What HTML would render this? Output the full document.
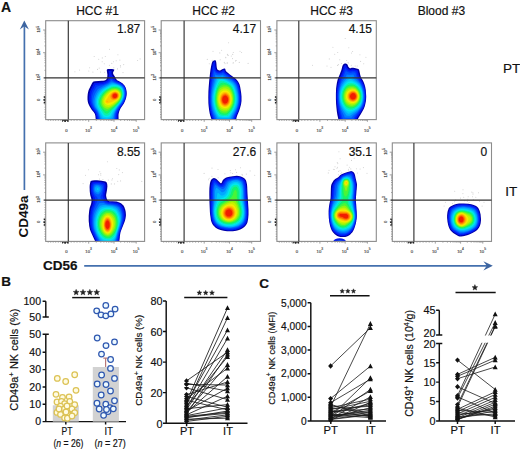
<!DOCTYPE html>
<html><head><meta charset="utf-8"><style>html,body{margin:0;padding:0;background:#fff;overflow:hidden}svg{display:block}</style></head>
<body><svg width="520" height="449" viewBox="0 0 520 449" font-family='"Liberation Sans", sans-serif'>
<style>text{stroke-width:0.18px;stroke-linejoin:round}</style>
<defs><filter id="bl" x="-10%" y="-10%" width="120%" height="120%"><feGaussianBlur stdDeviation="0.45"/></filter></defs>
<rect width="520" height="449" fill="#fff"/>
<text x="1.0" y="11.9" font-size="14" text-anchor="start" font-weight="bold" fill="#111" stroke="#111" >A</text>
<text x="97.5" y="14.8" font-size="12" text-anchor="middle" font-weight="normal" fill="#111" stroke="#111" >HCC #1</text>
<text x="213.6" y="14.8" font-size="12" text-anchor="middle" font-weight="normal" fill="#111" stroke="#111" >HCC #2</text>
<text x="331.6" y="14.8" font-size="12" text-anchor="middle" font-weight="normal" fill="#111" stroke="#111" >HCC #3</text>
<text x="441.4" y="14.8" font-size="12" text-anchor="middle" font-weight="normal" fill="#111" stroke="#111" >Blood #3</text>
<text x="503" y="72.6" font-size="13.5" text-anchor="start" font-weight="normal" fill="#111" stroke="#111" >PT</text>
<text x="505.3" y="196.3" font-size="13.5" text-anchor="start" font-weight="normal" fill="#111" stroke="#111" >IT</text>
<path d="M43.1 30.0H45.7M43.1 52.7H45.7M43.1 77.9H45.7M43.1 99.7H45.7M44.5 45.9H45.7M44.5 41.9H45.7M44.5 39.0H45.7M44.5 36.8H45.7M44.5 35.0H45.7M44.5 33.5H45.7M44.5 32.2H45.7M44.5 31.0H45.7M44.5 70.3H45.7M44.5 65.9H45.7M44.5 62.7H45.7M44.5 60.3H45.7M44.5 58.3H45.7M44.5 56.6H45.7M44.5 55.1H45.7M44.5 53.9H45.7M44.5 80.3H45.7M44.5 82.7H45.7M44.5 85.2H45.7M44.5 87.6H45.7M44.5 90.0H45.7M44.5 92.4H45.7M44.5 94.9H45.7M44.5 97.3H45.7M44.5 102.2H45.7M44.5 104.7H45.7M44.5 107.2H45.7M44.5 109.7H45.7M44.5 112.1H45.7M44.5 114.6H45.7M44.5 117.1H45.7M68.3 119.6V121.8M88.7 119.6V121.8M114.0 119.6V121.8M136.2 119.6V121.8M96.3 119.6V120.8M100.8 119.6V120.8M103.9 119.6V120.8M106.4 119.6V120.8M108.4 119.6V120.8M110.1 119.6V120.8M111.5 119.6V120.8M112.8 119.6V120.8M120.7 119.6V120.8M124.6 119.6V120.8M127.4 119.6V120.8M129.5 119.6V120.8M131.3 119.6V120.8M132.8 119.6V120.8M134.0 119.6V120.8M135.2 119.6V120.8M48.2 119.6V120.8M50.7 119.6V120.8M53.2 119.6V120.8M55.7 119.6V120.8M58.3 119.6V120.8M60.8 119.6V120.8M63.3 119.6V120.8M65.8 119.6V120.8M71.2 119.6V120.8M74.1 119.6V120.8M77.0 119.6V120.8M80.0 119.6V120.8M82.9 119.6V120.8M85.8 119.6V120.8" stroke="#777" stroke-width="0.7" fill="none"/>
<path d="M43.7 96.3h2v7.2h-2v-1.4h1v-1.3h-1.2v-1.5h1.2v-1.5h-1z" fill="#222"/>
<path d="M62.1 119.6h6.4v2.2h-1.4v-1h-1.2v1.2h-1.6v-1.2h-1.2v1h-1z" fill="#222"/>
<text x="0" y="0" font-size="4.3" fill="#555" stroke="#555" transform="translate(40.2 32.6) rotate(-90)">10<tspan dy="-1.6" font-size="3.2">5</tspan></text>
<text x="0" y="0" font-size="4.3" fill="#555" stroke="#555" transform="translate(40.2 55.3) rotate(-90)">10<tspan dy="-1.6" font-size="3.2">4</tspan></text>
<text x="0" y="0" font-size="4.3" fill="#555" stroke="#555" transform="translate(40.2 80.5) rotate(-90)">10<tspan dy="-1.6" font-size="3.2">3</tspan></text>
<text x="0" y="0" font-size="4.3" fill="#666" stroke="#666" transform="translate(40.2 100.9) rotate(-90)">0</text>
<text x="66.4" y="131.6" font-size="4.2" fill="#555" stroke="#555" text-anchor="middle">0</text>
<text x="87.7" y="131.6" font-size="4.2" fill="#555" stroke="#555" text-anchor="middle">10</text>
<text x="90.1" y="128.6" font-size="3.3" fill="#555" stroke="#555">3</text>
<text x="113.0" y="131.6" font-size="4.2" fill="#555" stroke="#555" text-anchor="middle">10</text>
<text x="115.4" y="128.6" font-size="3.3" fill="#555" stroke="#555">4</text>
<text x="135.2" y="131.6" font-size="4.2" fill="#555" stroke="#555" text-anchor="middle">10</text>
<text x="137.6" y="128.6" font-size="3.3" fill="#555" stroke="#555">5</text>
<clipPath id="c00"><rect x="45.7" y="20.7" width="98.89999999999999" height="98.89999999999999"/></clipPath>
<g clip-path="url(#c00)"><g filter="url(#bl)"><path fill="rgb(0, 0, 165)" d="M119.0 123.7L95.3 123.7L94.5 123.3L94.1 123.0L94.1 122.5L94.5 121.5L95.4 120.0L95.6 119.5L95.7 119.0L95.6 118.2L95.4 116.0L95.1 114.7L94.9 114.0L94.3 113.0L93.6 112.0L92.5 110.7L91.7 109.7L90.0 106.9L89.2 105.6L88.5 104.0L88.2 103.2L87.8 101.7L87.5 99.5L87.5 96.7L87.7 94.2L88.0 92.5L88.5 90.6L89.0 89.3L92.0 83.2L92.5 82.4L92.9 82.0L93.5 81.6L94.0 81.4L94.9 81.2L98.5 81.0L101.7 80.8L103.2 80.7L104.5 80.4L105.2 80.2L105.7 79.9L106.2 79.6L106.7 79.0L107.0 78.2L107.2 77.5L107.3 76.0L107.4 74.7L107.3 74.0L106.9 71.2L106.8 70.5L106.8 70.0L107.0 69.6L107.2 69.3L107.5 69.2L108.0 69.0L109.2 68.9L112.0 69.0L113.3 69.2L114.0 69.4L114.2 69.6L114.3 69.7L114.3 70.0L114.2 70.3L113.3 72.0L113.1 72.5L113.0 73.0L113.1 73.5L113.5 74.5L114.7 76.3L115.8 78.5L116.5 79.5L117.5 80.4L118.7 81.1L120.4 82.0L121.2 82.5L122.7 83.6L124.0 85.0L124.5 85.5L125.2 86.7L125.8 88.0L126.3 89.7L126.4 90.2L126.5 91.0L126.6 91.5L126.7 93.5L126.6 95.2L126.3 97.2L126.1 97.7L126.0 98.2L125.9 98.5L125.8 99.0L125.2 100.5L125.1 100.7L125.0 101.0L124.0 103.2L123.2 104.5L121.1 107.5L120.4 108.7L119.8 110.0L119.3 111.2L118.8 113.0L118.6 114.2L118.5 115.0L118.5 116.5L118.6 119.0L118.8 119.7L120.0 121.6L120.3 122.5L120.2 123.0L120.0 123.2L119.7 123.4L119.0 123.7Z"/>
<path fill="rgb(0, 22, 245)" d="M109.2 123.5L107.2 123.5L105.5 123.5L103.7 123.4L101.7 123.3L100.2 123.1L97.7 122.7L96.0 122.4L95.8 122.2L96.3 121.0L96.6 120.0L96.7 119.0L96.3 116.2L95.9 114.7L95.5 113.5L95.1 112.7L94.3 111.5L92.9 109.7L92.1 108.5L90.9 106.2L90.0 104.2L89.5 102.7L89.2 101.2L89.1 99.5L89.1 97.2L89.2 95.7L89.3 94.2L89.7 92.5L90.1 91.2L90.6 90.0L91.0 89.0L93.3 84.5L93.9 83.5L94.2 83.2L94.5 83.1L95.0 83.0L101.2 82.4L103.0 82.2L104.2 81.9L105.5 81.5L106.2 81.2L107.0 80.7L107.7 80.0L108.2 79.2L108.6 78.2L108.9 77.2L109.0 75.5L109.1 74.0L108.6 71.0L108.7 70.7L111.2 70.7L111.7 70.8L111.8 71.0L111.4 72.0L111.3 73.0L111.5 74.0L111.7 74.6L112.3 75.7L114.9 79.2L115.9 80.2L117.0 80.9L120.2 82.5L121.0 82.9L121.7 83.5L122.6 84.2L123.4 85.0L124.0 85.5L124.5 86.2L125.0 87.1L125.3 88.0L125.7 89.0L126.0 89.9L126.2 92.0L126.3 94.0L126.1 95.7L125.7 97.7L125.2 99.3L124.5 101.1L123.7 102.7L123.1 103.7L122.5 104.7L120.8 107.0L119.8 108.5L119.3 109.5L118.6 111.0L117.9 113.0L117.6 114.2L117.5 115.0L117.4 119.0L117.6 120.2L118.0 121.0L118.5 122.2L118.2 122.3L116.7 122.6L114.0 123.1L111.0 123.4L109.2 123.5Z"/>
<path fill="rgb(0, 54, 250)" d="M110.7 122.2L109.0 122.4L107.2 122.4L104.0 122.3L100.5 121.8L98.2 121.4L98.0 121.3L97.9 121.2L98.0 120.2L98.0 119.0L97.3 116.0L96.9 114.5L96.3 113.0L95.9 112.2L95.5 111.4L93.8 109.2L93.4 108.5L92.6 107.0L91.8 105.2L91.3 103.7L90.9 102.2L90.7 100.7L90.6 99.2L90.7 97.2L90.9 95.5L91.2 94.0L91.6 92.2L92.0 91.2L92.5 90.2L95.2 84.9L95.5 84.8L97.0 84.7L100.5 84.2L102.2 83.9L103.2 83.7L105.0 83.2L106.7 82.5L107.6 82.0L108.2 81.5L109.2 80.5L109.6 80.0L110.0 79.2L110.4 78.2L110.7 77.2L111.0 77.0L113.2 79.5L114.0 80.2L114.7 80.7L115.7 81.4L116.5 81.7L119.2 82.9L120.2 83.3L122.0 84.5L122.7 85.1L123.3 85.7L123.9 86.5L124.4 87.2L124.8 88.2L125.2 89.2L125.5 90.2L125.6 91.2L125.7 92.2L125.8 93.5L125.6 95.2L125.3 97.0L124.9 98.5L124.0 100.7L123.3 102.2L122.5 103.5L119.9 107.0L118.9 108.5L117.8 110.5L117.0 112.5L116.5 114.2L116.3 115.7L116.1 119.2L116.1 120.5L116.2 121.0L116.2 121.1L116.2 121.2L114.0 121.7L110.7 122.2Z"/>
<path fill="rgb(0, 87, 255)" d="M107.7 121.5L105.7 121.4L103.7 121.3L101.2 120.9L99.4 120.5L99.2 120.2L99.0 118.7L98.2 115.7L97.8 114.2L97.5 113.3L97.1 112.5L96.5 111.5L94.5 108.5L94.1 107.7L93.3 106.0L92.5 104.0L92.1 102.5L91.9 101.2L91.9 99.7L92.0 98.0L92.2 96.0L92.5 94.9L93.2 92.7L94.2 90.8L96.5 87.0L96.7 86.8L100.0 85.7L102.2 85.2L104.0 84.7L106.7 83.6L108.0 82.9L109.0 82.2L110.1 81.2L110.7 80.5L111.2 79.7L111.5 79.8L112.6 80.7L114.2 81.7L116.0 82.5L119.2 83.7L120.2 84.2L121.7 85.2L122.9 86.2L123.5 86.9L124.0 87.8L124.5 89.0L124.8 90.0L125.0 91.0L125.2 92.2L125.2 93.5L125.1 94.7L124.9 96.2L124.5 97.7L123.9 99.5L123.1 101.2L122.4 102.5L121.8 103.5L119.3 106.7L118.3 108.2L117.1 110.2L116.2 112.0L115.8 113.2L115.5 114.7L114.9 119.2L114.8 120.2L114.7 120.3L113.7 120.6L111.2 121.1L109.5 121.3L107.7 121.5Z"/>
<path fill="rgb(0, 128, 255)" d="M109.5 120.5L107.2 120.6L105.0 120.6L102.7 120.3L100.3 119.7L100.2 119.6L100.0 118.7L98.8 114.7L98.0 112.5L97.0 110.6L94.9 107.5L94.0 105.5L93.5 104.0L93.2 102.8L93.2 101.2L93.3 99.7L93.6 98.0L94.1 96.2L94.7 94.7L95.3 93.2L95.9 92.2L98.0 89.1L98.2 88.9L99.5 88.2L105.0 85.3L107.9 84.0L108.7 83.5L111.2 81.8L111.5 81.6L112.2 81.7L114.5 82.8L119.2 84.4L120.7 85.3L122.0 86.2L122.7 87.0L123.2 87.7L123.7 88.7L124.1 89.7L124.4 90.7L124.5 91.7L124.6 92.7L124.6 94.0L124.4 95.7L124.0 97.5L123.4 99.2L122.6 101.0L121.9 102.2L121.3 103.2L118.7 106.5L117.5 108.2L116.4 110.0L115.5 111.7L115.0 113.0L114.7 114.2L114.4 115.7L114.1 118.2L113.8 119.5L113.1 119.7L111.7 120.1L109.5 120.5Z"/>
<path fill="rgb(0, 169, 255)" d="M109.2 119.7L108.0 119.8L106.7 119.9L105.5 119.8L104.2 119.7L102.7 119.3L101.5 118.8L101.2 118.5L100.5 117.4L99.3 114.0L98.5 112.0L97.5 110.0L95.8 107.5L95.2 106.2L94.9 104.7L94.7 103.2L94.6 101.7L94.7 100.5L94.9 99.2L95.2 98.0L95.6 96.7L96.2 95.2L96.8 94.0L97.3 93.0L98.4 91.5L99.2 90.5L100.9 89.2L103.2 87.7L105.5 86.4L111.2 83.3L111.5 83.2L113.2 83.1L117.7 84.5L119.0 85.0L119.7 85.4L120.7 86.0L121.5 86.6L122.0 87.0L122.5 87.6L122.9 88.5L123.4 89.5L123.7 90.5L123.9 91.5L124.1 92.5L124.1 93.5L124.0 94.7L123.9 96.0L123.6 97.2L123.1 98.7L122.4 100.2L121.6 101.7L121.0 102.7L117.6 107.0L116.3 109.0L115.4 110.5L114.9 111.5L114.4 112.7L114.0 113.7L113.7 115.3L113.5 116.1L112.6 118.2L112.2 118.5L111.0 119.2L110.3 119.5L109.2 119.7Z"/>
<path fill="rgb(0, 203, 247)" d="M107.0 118.7L106.0 118.7L104.7 118.5L103.7 118.2L102.5 117.7L102.0 117.2L101.3 116.0L100.2 114.0L99.1 111.5L98.2 110.0L97.4 108.5L96.9 107.2L96.5 106.2L96.1 104.5L95.9 102.7L95.9 101.0L96.1 99.5L96.4 98.2L96.8 97.0L97.4 95.7L98.0 94.5L98.8 93.2L99.8 92.0L100.5 91.2L101.3 90.5L103.2 89.1L105.3 87.7L108.2 86.1L111.2 84.5L111.5 84.4L112.2 84.3L114.5 84.2L117.5 85.1L119.0 85.6L120.0 86.2L120.7 86.7L121.5 87.4L122.0 88.0L122.5 88.7L122.9 89.7L123.2 90.7L123.4 91.7L123.6 92.7L123.6 94.0L123.5 95.2L123.3 96.5L122.9 97.7L122.5 98.7L122.0 100.0L121.3 101.2L120.4 102.7L117.2 106.7L115.3 109.5L113.2 113.2L111.4 117.2L110.6 117.7L109.5 118.2L108.2 118.6L107.0 118.7Z"/>
<path fill="rgb(0, 233, 236)" d="M107.5 117.2L106.5 117.3L105.2 117.1L104.0 116.8L103.3 116.5L102.7 115.6L102.0 114.5L98.8 108.5L98.0 107.0L97.6 105.7L97.3 104.7L97.1 103.5L97.0 102.2L97.0 101.0L97.2 99.7L97.6 98.5L98.1 97.0L98.9 95.5L99.7 94.1L100.8 92.7L101.7 91.7L102.8 90.7L104.0 89.7L105.5 88.7L108.5 87.0L110.7 85.8L111.5 85.5L113.5 85.3L115.5 85.2L116.0 85.3L116.5 85.4L117.5 85.6L118.2 85.9L119.0 86.3L120.0 86.9L120.7 87.4L121.2 87.9L121.6 88.5L122.3 89.7L122.7 90.7L122.9 91.5L123.0 92.5L123.1 93.5L123.1 94.5L123.0 95.5L122.8 96.5L122.5 97.5L122.1 98.5L121.6 99.7L120.9 101.0L120.3 102.0L119.5 103.1L116.7 106.5L115.0 108.9L113.8 110.2L112.8 111.5L112.1 112.7L110.7 115.4L110.2 116.2L109.0 116.8L108.2 117.1L107.5 117.2Z"/>
<path fill="rgb(9, 239, 172)" d="M108.0 115.5L107.2 115.6L106.2 115.7L105.2 115.5L104.7 115.3L104.5 115.2L103.7 114.3L103.0 113.2L101.0 110.0L99.6 107.7L99.0 106.5L98.6 105.2L98.3 104.2L98.2 103.0L98.1 101.7L98.2 100.5L98.4 99.5L98.8 98.2L99.5 96.7L100.4 95.2L101.4 93.7L102.4 92.5L103.4 91.5L104.6 90.5L106.0 89.5L107.7 88.4L109.5 87.4L111.2 86.6L112.2 86.4L114.0 86.2L115.7 86.2L117.5 86.4L118.2 86.5L118.7 86.7L120.0 87.5L120.5 88.0L121.0 88.4L121.3 89.0L121.7 89.7L122.3 91.2L122.5 92.2L122.6 93.0L122.6 94.7L122.3 96.5L121.8 98.2L121.2 99.5L120.6 100.7L120.0 101.7L119.0 103.0L116.0 106.7L113.4 109.2L112.0 110.7L111.1 112.0L109.1 115.0L108.6 115.2L108.0 115.5Z"/>
<path fill="rgb(18, 244, 105)" d="M107.5 113.5L106.7 113.6L106.0 113.5L105.2 113.1L104.5 112.5L103.2 111.0L102.0 109.3L101.0 107.7L100.1 106.0L99.7 105.0L99.4 104.0L99.3 102.7L99.2 101.7L99.3 100.7L99.6 99.7L99.9 98.7L100.4 97.5L101.2 96.0L102.0 94.7L102.9 93.5L104.0 92.2L105.1 91.2L106.4 90.2L108.0 89.2L109.5 88.4L111.0 87.7L111.5 87.5L112.7 87.2L114.0 87.1L115.5 87.1L116.7 87.2L117.7 87.4L119.0 87.9L120.0 88.5L120.5 88.8L121.0 89.3L121.5 90.5L122.0 92.0L122.1 92.7L122.2 93.7L122.1 95.5L121.8 97.0L121.1 98.7L120.5 100.0L119.6 101.5L118.7 102.7L117.2 104.5L111.7 109.5L108.5 112.8L108.0 113.2L107.5 113.5Z"/>
<path fill="rgb(74, 245, 57)" d="M107.7 110.8L107.0 110.9L106.5 110.9L106.0 110.8L105.2 110.5L104.5 110.0L103.5 109.0L102.5 107.7L101.7 106.5L101.1 105.5L100.8 104.5L100.5 103.5L100.4 102.5L100.4 101.5L100.6 100.5L100.9 99.2L101.2 98.2L101.8 97.0L102.5 95.7L103.4 94.5L104.4 93.2L105.4 92.2L106.5 91.3L107.6 90.5L109.0 89.6L110.5 88.9L111.2 88.5L112.2 88.3L113.5 88.1L114.7 88.0L116.0 88.1L117.0 88.2L118.0 88.6L118.7 88.9L119.2 89.2L119.7 89.6L120.2 90.1L120.7 90.7L121.3 92.0L121.7 93.2L121.7 94.7L121.5 96.2L121.1 97.7L120.5 99.2L120.0 100.1L118.8 101.7L117.5 103.1L115.7 104.8L113.5 106.7L110.2 109.3L108.7 110.3L107.7 110.8Z"/>
<path fill="rgb(144, 245, 16)" d="M108.0 108.7L107.0 108.7L106.2 108.6L105.5 108.3L104.7 107.9L104.0 107.2L103.2 106.4L102.6 105.5L102.2 104.5L101.9 103.7L101.8 102.7L101.7 101.7L101.8 100.7L102.0 99.7L102.3 98.7L102.7 97.7L103.1 96.7L103.8 95.7L104.5 94.7L105.3 93.7L106.3 92.7L107.2 91.9L108.2 91.2L109.4 90.5L110.7 89.8L111.5 89.5L112.5 89.2L113.5 89.0L114.7 88.9L115.7 89.0L116.5 89.1L117.5 89.4L118.2 89.7L118.7 90.0L119.2 90.5L120.0 91.3L120.6 92.5L121.0 93.7L121.1 95.0L121.0 96.2L120.6 97.5L120.1 98.7L119.2 100.0L118.2 101.2L116.2 103.2L114.2 104.9L112.2 106.5L110.5 107.6L109.2 108.3L108.5 108.6L108.0 108.7Z"/>
<path fill="rgb(199, 242, 0)" d="M109.0 106.8L108.2 106.9L107.5 106.8L106.7 106.7L106.0 106.4L105.2 106.0L104.7 105.5L104.1 104.7L103.6 104.0L103.4 103.2L103.2 102.5L103.1 101.7L103.1 100.7L103.2 100.0L103.5 99.0L103.8 98.0L104.3 97.0L104.9 96.0L105.5 95.2L106.2 94.3L107.1 93.5L108.0 92.7L109.0 91.9L110.0 91.3L111.0 90.7L112.0 90.3L112.7 90.1L113.5 89.9L114.5 89.8L115.5 89.8L116.2 89.9L117.0 90.1L117.7 90.5L118.7 91.2L119.4 92.0L120.0 93.0L120.3 94.0L120.4 95.0L120.4 96.2L120.1 97.2L119.6 98.2L119.0 99.3L118.0 100.4L117.0 101.4L114.0 103.9L112.5 105.0L111.2 105.8L110.0 106.4L109.0 106.8Z"/>
<path fill="rgb(246, 236, 0)" d="M109.2 105.0L108.5 105.0L107.7 104.9L107.0 104.8L106.5 104.6L105.7 104.1L105.3 103.7L104.9 103.2L104.6 102.7L104.5 102.2L104.4 101.5L104.4 101.0L104.5 100.2L105.2 98.3L106.0 96.7L107.1 95.2L108.6 93.7L109.4 93.0L110.4 92.2L112.0 91.3L112.7 91.0L113.5 90.8L114.2 90.7L115.0 90.6L115.7 90.7L116.5 90.8L117.0 91.0L117.7 91.4L118.5 92.0L119.1 92.7L119.5 93.5L119.8 94.5L119.8 95.5L119.7 96.5L119.4 97.5L119.0 98.2L118.2 99.3L117.2 100.2L112.7 103.4L111.7 104.0L110.9 104.5L110.0 104.8L109.2 105.0Z"/>
<path fill="rgb(255, 199, 0)" d="M108.2 103.2L107.5 103.4L107.0 103.3L106.5 103.2L106.0 102.8L105.6 102.5L105.4 102.0L105.4 101.5L105.4 101.0L105.6 100.5L106.0 100.0L106.9 99.0L107.3 98.5L108.3 96.5L109.1 95.2L110.2 93.7L111.0 93.0L112.1 92.2L113.2 91.7L114.2 91.4L115.2 91.3L116.2 91.5L117.2 91.9L118.0 92.4L118.5 93.0L118.9 93.7L119.1 94.5L119.3 95.5L119.2 96.2L118.9 97.2L118.5 98.0L117.9 98.7L117.4 99.2L116.7 99.8L115.2 100.6L111.2 102.2L109.5 102.8L108.2 103.2Z"/>
<path fill="rgb(255, 155, 0)" d="M114.0 100.0L113.2 100.0L112.5 99.8L111.7 99.5L111.2 99.0L110.6 98.2L110.4 97.5L110.3 96.7L110.4 95.7L110.8 94.7L111.3 94.0L112.0 93.3L112.7 92.7L113.5 92.3L114.5 92.1L115.5 92.0L116.2 92.2L116.9 92.5L117.5 92.8L117.8 93.2L118.2 93.7L118.5 94.3L118.6 95.0L118.7 95.7L118.5 96.5L118.2 97.2L118.0 97.7L117.5 98.3L117.0 98.8L116.2 99.3L115.5 99.6L114.7 99.8L114.0 100.0ZM107.2 101.9L107.0 101.9L106.7 101.7L106.7 101.4L107.0 101.1L107.2 101.1L107.5 101.3L107.5 101.5L107.4 101.7L107.2 101.9Z"/>
<path fill="rgb(252, 93, 0)" d="M115.0 99.0L114.2 99.0L113.7 98.9L113.2 98.8L112.7 98.4L112.2 97.9L111.8 97.2L111.6 96.7L111.5 96.0L111.7 95.2L111.9 94.7L112.2 94.2L112.7 93.7L113.2 93.3L113.9 93.0L114.7 92.7L115.2 92.7L115.7 92.8L116.3 93.0L116.7 93.2L117.2 93.6L117.5 94.0L117.8 94.5L118.0 95.1L118.0 95.7L117.9 96.2L117.8 96.7L117.5 97.2L117.1 97.7L116.7 98.1L116.2 98.5L115.7 98.7L115.0 99.0Z"/>
<path fill="rgb(241, 28, 0)" d="M115.2 98.0L114.7 98.1L114.2 98.0L113.7 97.8L113.5 97.6L113.2 97.4L112.9 97.0L112.7 96.5L112.6 96.0L112.8 95.2L113.0 94.8L113.2 94.5L113.5 94.2L114.0 93.9L114.5 93.7L115.0 93.6L115.7 93.7L116.2 93.9L116.5 94.1L116.9 94.7L117.1 95.5L117.0 96.2L116.7 97.0L116.5 97.3L116.0 97.7L115.2 98.0Z"/></g></g>
<g fill="#d2d2d2"><circle cx="119.9" cy="60.1" r="0.55"/><circle cx="97.5" cy="69.4" r="0.55"/><circle cx="92.9" cy="72.1" r="0.55"/><circle cx="109.4" cy="65.2" r="0.55"/><circle cx="88.8" cy="71.0" r="0.55"/><circle cx="120.6" cy="66.9" r="0.55"/><circle cx="102.3" cy="57.9" r="0.55"/><circle cx="99.2" cy="68.1" r="0.55"/><circle cx="140.1" cy="58.9" r="0.55"/><circle cx="117.9" cy="54.7" r="0.55"/><circle cx="98.7" cy="59.2" r="0.55"/><circle cx="123.7" cy="64.6" r="0.55"/><circle cx="100.6" cy="72.0" r="0.55"/><circle cx="89.6" cy="67.7" r="0.55"/><circle cx="137.6" cy="60.5" r="0.55"/><circle cx="79.6" cy="70.1" r="0.55"/><circle cx="105.3" cy="56.5" r="0.55"/><circle cx="104.7" cy="72.2" r="0.55"/><circle cx="104.3" cy="63.8" r="0.55"/><circle cx="116.2" cy="60.8" r="0.55"/><circle cx="123.0" cy="72.6" r="0.55"/><circle cx="113.8" cy="67.7" r="0.55"/><circle cx="94.2" cy="56.5" r="0.55"/><circle cx="113.4" cy="61.8" r="0.55"/><circle cx="109.5" cy="49.2" r="0.55"/><circle cx="111.8" cy="63.4" r="0.55"/><circle cx="117.5" cy="68.9" r="0.55"/><circle cx="74.9" cy="71.7" r="0.55"/><circle cx="120.4" cy="65.5" r="0.55"/><circle cx="102.2" cy="61.8" r="0.55"/></g>
<rect x="45.7" y="20.7" width="98.9" height="98.9" fill="none" stroke="#8c8c8c" stroke-width="1.1"/>
<path d="M44.2 77.9H144.6M68.3 20.7V119.6" stroke="#333" stroke-width="1.15" fill="none"/>
<text x="140.29999999999998" y="32.7" font-size="12" text-anchor="end" font-weight="normal" fill="#111" stroke="#111" >1.87</text>
<path d="M158.6 30.0H161.2M158.6 52.7H161.2M158.6 77.9H161.2M158.6 99.7H161.2M160.0 45.9H161.2M160.0 41.9H161.2M160.0 39.0H161.2M160.0 36.8H161.2M160.0 35.0H161.2M160.0 33.5H161.2M160.0 32.2H161.2M160.0 31.0H161.2M160.0 70.3H161.2M160.0 65.9H161.2M160.0 62.7H161.2M160.0 60.3H161.2M160.0 58.3H161.2M160.0 56.6H161.2M160.0 55.1H161.2M160.0 53.9H161.2M160.0 80.3H161.2M160.0 82.7H161.2M160.0 85.2H161.2M160.0 87.6H161.2M160.0 90.0H161.2M160.0 92.4H161.2M160.0 94.9H161.2M160.0 97.3H161.2M160.0 102.2H161.2M160.0 104.7H161.2M160.0 107.2H161.2M160.0 109.7H161.2M160.0 112.1H161.2M160.0 114.6H161.2M160.0 117.1H161.2M184.1 119.6V121.8M204.2 119.6V121.8M229.5 119.6V121.8M251.7 119.6V121.8M211.8 119.6V120.8M216.3 119.6V120.8M219.4 119.6V120.8M221.9 119.6V120.8M223.9 119.6V120.8M225.6 119.6V120.8M227.0 119.6V120.8M228.3 119.6V120.8M236.2 119.6V120.8M240.1 119.6V120.8M242.9 119.6V120.8M245.0 119.6V120.8M246.8 119.6V120.8M248.3 119.6V120.8M249.5 119.6V120.8M250.7 119.6V120.8M163.7 119.6V120.8M166.3 119.6V120.8M168.8 119.6V120.8M171.4 119.6V120.8M173.9 119.6V120.8M176.5 119.6V120.8M179.0 119.6V120.8M181.6 119.6V120.8M187.0 119.6V120.8M189.8 119.6V120.8M192.7 119.6V120.8M195.6 119.6V120.8M198.5 119.6V120.8M201.3 119.6V120.8" stroke="#777" stroke-width="0.7" fill="none"/>
<path d="M159.2 96.3h2v7.2h-2v-1.4h1v-1.3h-1.2v-1.5h1.2v-1.5h-1z" fill="#222"/>
<path d="M177.9 119.6h6.4v2.2h-1.4v-1h-1.2v1.2h-1.6v-1.2h-1.2v1h-1z" fill="#222"/>
<text x="0" y="0" font-size="4.3" fill="#555" stroke="#555" transform="translate(155.7 32.6) rotate(-90)">10<tspan dy="-1.6" font-size="3.2">5</tspan></text>
<text x="0" y="0" font-size="4.3" fill="#555" stroke="#555" transform="translate(155.7 55.3) rotate(-90)">10<tspan dy="-1.6" font-size="3.2">4</tspan></text>
<text x="0" y="0" font-size="4.3" fill="#555" stroke="#555" transform="translate(155.7 80.5) rotate(-90)">10<tspan dy="-1.6" font-size="3.2">3</tspan></text>
<text x="0" y="0" font-size="4.3" fill="#666" stroke="#666" transform="translate(155.7 100.9) rotate(-90)">0</text>
<text x="182.2" y="131.6" font-size="4.2" fill="#555" stroke="#555" text-anchor="middle">0</text>
<text x="203.2" y="131.6" font-size="4.2" fill="#555" stroke="#555" text-anchor="middle">10</text>
<text x="205.6" y="128.6" font-size="3.3" fill="#555" stroke="#555">3</text>
<text x="228.5" y="131.6" font-size="4.2" fill="#555" stroke="#555" text-anchor="middle">10</text>
<text x="230.9" y="128.6" font-size="3.3" fill="#555" stroke="#555">4</text>
<text x="250.7" y="131.6" font-size="4.2" fill="#555" stroke="#555" text-anchor="middle">10</text>
<text x="253.1" y="128.6" font-size="3.3" fill="#555" stroke="#555">5</text>
<clipPath id="c01"><rect x="161.2" y="20.7" width="99.30000000000001" height="98.89999999999999"/></clipPath>
<g clip-path="url(#c01)"><g filter="url(#bl)"><path fill="rgb(0, 0, 165)" d="M236.7 123.7L210.9 123.7L210.2 123.5L209.9 123.2L209.7 123.0L209.7 122.7L210.0 122.2L210.9 121.0L211.3 120.2L211.5 119.5L211.3 118.7L210.2 115.5L209.7 113.5L209.2 110.7L208.7 106.7L208.4 103.2L208.3 97.5L208.4 91.7L208.7 86.7L209.2 80.7L209.9 74.3L210.4 70.3L211.2 65.7L211.7 63.4L212.2 62.1L212.4 61.6L212.8 61.2L213.4 60.7L213.9 60.5L214.7 60.2L215.2 60.2L215.4 60.3L215.7 60.4L215.9 60.9L216.2 62.1L216.4 63.5L216.6 66.0L216.8 67.5L217.1 68.7L217.3 69.2L217.7 69.7L218.2 70.1L218.7 70.3L219.2 70.4L220.2 70.4L220.9 70.1L222.2 69.2L222.7 68.9L223.5 68.7L224.2 68.6L224.7 68.6L225.1 68.7L225.4 69.2L225.5 70.0L225.8 70.7L226.1 71.2L226.6 71.7L229.9 74.4L234.4 77.7L235.7 78.7L236.4 79.5L237.7 81.0L238.2 81.7L238.9 83.0L239.5 84.2L239.9 85.8L240.2 87.0L240.7 90.0L241.2 93.2L241.5 96.5L241.5 99.2L241.5 101.0L241.2 103.2L241.0 104.5L240.2 107.5L239.0 111.2L237.3 115.2L236.8 116.7L236.5 117.7L236.3 119.2L236.2 119.5L236.4 120.0L236.8 120.7L237.7 122.0L238.0 122.5L238.0 122.7L237.9 123.0L237.5 123.5L236.7 123.7Z"/>
<path fill="rgb(0, 22, 245)" d="M231.2 123.2L227.7 123.4L225.4 123.4L219.9 123.3L216.4 123.1L213.4 122.9L211.7 122.7L211.4 122.6L211.2 122.5L212.0 121.5L212.3 120.7L212.5 120.2L212.6 119.5L212.3 118.2L211.2 115.2L210.7 113.5L210.0 110.2L209.5 107.0L209.2 104.0L209.1 100.2L209.1 96.2L209.2 92.2L209.6 87.7L210.1 82.2L211.5 71.5L212.3 66.5L212.7 64.2L213.0 63.2L213.2 62.7L213.5 62.2L213.8 62.0L214.2 61.6L214.7 61.4L214.9 61.7L215.1 63.0L215.4 66.7L215.7 68.2L215.9 69.0L216.2 69.7L216.5 70.2L216.9 70.7L217.7 71.2L218.4 71.4L219.2 71.6L220.2 71.6L220.7 71.5L221.4 71.2L222.9 70.1L224.2 69.8L224.4 70.0L224.5 70.7L224.8 71.2L225.1 71.7L225.8 72.5L228.3 74.5L234.2 78.7L235.1 79.5L235.7 80.1L236.9 81.5L237.9 83.0L238.6 84.5L239.1 86.0L239.4 87.5L240.0 90.5L240.5 94.0L240.7 95.7L240.8 97.5L240.8 99.2L240.7 101.0L240.6 102.5L240.3 104.2L239.6 107.0L238.2 111.0L236.6 114.7L236.1 116.0L235.6 117.5L235.3 118.7L235.2 119.5L235.4 120.5L235.8 121.2L236.6 122.5L236.4 122.6L235.9 122.7L234.2 123.0L231.2 123.2Z"/>
<path fill="rgb(0, 54, 250)" d="M228.9 122.2L226.9 122.3L223.9 122.3L219.9 122.2L216.4 122.0L213.7 121.7L213.4 121.7L213.3 121.5L213.6 121.0L213.7 120.5L213.7 119.5L213.7 119.0L213.2 117.5L212.1 114.7L211.7 113.5L211.1 110.5L210.5 107.2L210.2 105.0L210.0 102.7L209.9 100.2L209.9 97.5L210.0 94.7L210.2 92.2L210.4 89.5L210.8 85.7L212.9 70.7L213.5 66.7L213.9 64.5L214.0 65.0L214.2 67.2L214.7 69.2L215.2 70.5L215.7 71.2L216.2 71.7L216.9 72.2L217.9 72.6L218.9 72.8L219.9 72.8L220.7 72.7L221.5 72.5L222.2 72.1L223.4 71.3L223.7 71.8L224.1 72.5L225.2 73.5L227.7 75.3L232.9 79.1L234.1 80.0L234.9 80.7L236.2 82.2L237.1 83.7L237.7 85.0L238.3 87.0L238.9 89.5L239.4 92.2L239.7 94.7L239.9 96.7L239.9 99.2L239.8 101.7L239.5 103.7L239.1 105.7L238.6 107.5L237.6 110.2L237.1 111.5L235.5 115.0L234.9 116.5L234.4 117.9L234.1 119.2L234.1 119.7L234.2 120.7L234.7 121.7L231.2 122.1L228.9 122.2Z"/>
<path fill="rgb(0, 87, 255)" d="M230.4 121.2L226.7 121.4L222.4 121.4L219.9 121.3L216.4 121.0L214.9 120.8L214.7 120.8L214.6 120.7L214.7 119.5L214.6 118.7L214.1 117.2L213.1 114.7L212.6 113.5L212.1 111.2L211.5 108.5L211.1 106.2L210.9 104.0L210.7 101.5L210.7 99.0L210.7 96.2L210.8 93.7L211.0 91.0L211.4 88.2L212.0 83.5L213.1 76.7L213.9 71.4L214.0 71.2L214.2 71.0L214.9 72.0L215.7 72.7L216.7 73.3L217.9 73.7L219.7 73.8L220.9 73.6L221.9 73.4L222.9 72.8L223.2 72.9L224.0 73.7L224.9 74.5L232.2 79.6L233.9 81.0L235.1 82.2L236.0 83.5L236.7 84.7L237.3 86.2L237.9 88.5L238.5 91.5L238.8 93.5L239.1 95.7L239.2 98.0L239.2 100.0L239.0 102.2L238.7 104.0L238.1 106.5L237.0 109.7L236.4 111.2L234.7 114.7L233.7 117.3L233.2 119.2L233.2 120.0L233.3 120.7L233.2 120.9L230.4 121.2Z"/>
<path fill="rgb(0, 128, 255)" d="M228.4 120.2L225.4 120.4L222.7 120.3L219.7 120.0L216.7 119.6L216.2 119.5L216.0 118.7L215.6 117.7L213.7 113.7L212.7 110.7L212.4 109.8L211.9 107.0L211.6 105.0L211.4 102.7L211.3 100.5L211.3 98.5L211.3 96.2L211.5 93.7L211.7 91.2L211.9 89.1L212.6 86.0L214.4 78.5L215.2 74.5L215.4 74.6L216.2 74.9L217.2 75.2L217.9 75.3L218.9 75.4L219.9 75.3L220.9 75.2L221.7 75.0L222.7 74.7L224.1 75.7L229.4 78.9L231.7 80.3L232.9 81.3L234.2 82.5L235.4 84.0L236.1 85.2L236.7 86.7L237.2 88.7L237.9 91.7L238.3 94.2L238.5 96.2L238.6 98.5L238.5 100.7L238.3 103.0L237.9 104.7L237.3 107.0L236.2 110.0L233.7 115.2L232.7 117.2L232.1 118.7L231.8 119.7L231.7 119.8L231.2 119.9L228.4 120.2Z"/>
<path fill="rgb(0, 169, 255)" d="M228.4 119.0L225.9 119.1L223.4 119.1L220.4 118.9L217.4 118.4L217.2 118.2L216.4 116.5L214.9 113.5L214.1 111.5L213.4 109.2L212.6 106.0L212.3 104.2L212.1 102.5L212.0 100.7L212.0 98.7L212.0 97.0L212.1 95.0L212.6 91.7L213.3 88.2L214.0 85.2L215.7 79.2L216.4 76.7L216.4 76.6L217.9 76.8L219.2 76.8L220.4 76.7L222.2 76.3L222.4 76.3L227.9 79.4L230.7 81.1L231.7 81.8L232.7 82.6L233.7 83.6L234.5 84.7L235.1 85.7L235.5 86.7L236.1 88.2L236.6 90.0L237.2 92.0L237.6 94.2L237.8 96.0L237.9 98.0L237.9 100.0L237.8 101.7L237.5 103.5L237.1 105.2L236.3 107.7L235.4 110.0L234.6 111.5L231.8 116.2L231.2 117.5L230.7 118.6L230.4 118.7L228.4 119.0Z"/>
<path fill="rgb(0, 203, 247)" d="M227.2 118.0L224.9 118.1L222.7 118.0L220.2 117.7L218.4 117.3L218.2 117.3L216.3 114.0L215.6 112.5L214.6 109.7L213.8 107.0L213.4 105.2L213.2 103.7L212.9 100.5L212.9 97.2L213.0 95.5L213.2 93.7L213.8 90.2L214.8 86.5L215.6 83.7L217.4 78.4L217.7 78.2L219.7 78.1L221.9 77.7L222.2 77.8L227.4 80.4L229.7 81.7L231.2 82.7L231.9 83.3L232.9 84.3L233.6 85.2L234.2 86.1L234.7 87.2L235.2 88.7L235.8 90.5L236.3 92.2L236.7 94.2L236.9 96.0L237.0 98.0L237.1 99.7L236.9 101.5L236.7 103.0L236.3 104.7L235.8 106.5L234.9 108.7L234.0 110.5L230.7 116.0L229.8 117.5L229.7 117.6L229.4 117.7L227.2 118.0Z"/>
<path fill="rgb(0, 233, 236)" d="M225.9 117.0L223.9 117.0L222.2 116.8L219.9 116.5L219.2 116.3L218.9 116.2L216.9 113.0L216.3 111.7L215.6 110.0L215.0 108.2L214.6 106.5L214.2 104.7L213.9 102.7L213.7 101.0L213.7 99.0L213.7 97.0L213.9 95.0L214.1 93.2L214.5 91.2L215.0 89.2L215.6 87.2L216.2 85.4L216.9 83.5L217.7 81.8L218.7 79.7L221.4 79.2L221.7 79.2L224.2 80.1L225.9 80.8L227.4 81.6L229.2 82.6L230.4 83.4L231.2 84.0L232.2 85.0L232.8 85.7L233.3 86.5L233.9 87.7L234.4 89.1L235.0 91.0L235.4 92.5L235.8 94.2L236.0 95.7L236.2 97.5L236.2 99.2L236.1 101.0L236.0 102.5L235.7 104.0L235.2 105.5L234.6 107.2L233.9 108.7L233.3 110.0L232.4 111.4L228.9 116.5L228.7 116.7L227.9 116.8L225.9 117.0Z"/>
<path fill="rgb(9, 239, 172)" d="M227.7 115.7L225.4 115.9L223.4 115.8L222.2 115.7L220.9 115.5L219.9 115.3L219.7 115.1L218.7 113.8L218.0 112.7L217.4 111.7L216.8 110.5L216.2 109.0L215.7 107.5L215.3 106.0L215.0 104.5L214.7 102.7L214.5 101.0L214.5 99.2L214.5 97.5L214.6 95.7L214.9 94.0L215.2 92.2L215.6 90.5L216.2 88.5L216.8 86.7L217.6 85.0L218.4 83.3L219.2 82.1L219.9 81.2L221.2 80.8L222.2 80.9L223.7 81.3L225.2 81.8L226.4 82.3L227.9 83.0L229.4 83.9L230.4 84.6L231.2 85.3L231.8 86.0L232.4 86.7L233.2 88.5L233.8 90.0L234.3 91.5L234.7 93.0L235.0 94.5L235.3 96.0L235.4 97.5L235.4 99.0L235.4 100.5L235.3 101.7L235.1 103.0L234.7 104.2L234.4 105.5L233.9 106.7L233.2 108.2L232.7 109.3L231.9 110.5L230.4 112.6L228.9 114.6L228.2 115.5L227.9 115.7L227.7 115.7Z"/>
<path fill="rgb(18, 244, 105)" d="M225.9 114.7L224.7 114.7L223.4 114.7L222.2 114.5L220.9 114.2L220.7 114.1L220.5 114.0L219.4 112.8L218.7 111.8L218.1 110.7L217.4 109.5L216.8 108.0L216.3 106.5L215.9 105.0L215.6 103.5L215.4 102.0L215.3 100.2L215.3 98.7L215.3 97.2L215.5 95.5L215.7 93.7L216.0 92.2L216.4 90.6L216.9 89.1L217.5 87.7L218.2 86.3L218.9 85.2L219.4 84.4L220.2 83.7L220.7 83.3L221.7 82.9L222.4 82.7L223.4 82.8L224.4 82.9L225.7 83.3L226.9 83.8L228.2 84.4L229.4 85.1L230.2 85.7L230.9 86.4L231.5 87.2L232.1 88.2L232.7 89.5L233.2 90.8L233.7 92.2L234.0 93.5L234.3 94.7L234.5 96.2L234.6 97.7L234.6 99.2L234.6 100.5L234.4 102.0L234.2 103.2L233.8 104.5L233.3 106.0L232.7 107.4L232.0 108.7L231.2 110.0L229.9 111.7L228.7 113.1L227.9 113.9L227.2 114.6L225.9 114.7Z"/>
<path fill="rgb(74, 245, 57)" d="M226.4 113.2L226.2 113.3L225.7 113.4L224.4 113.4L223.4 113.3L222.4 113.1L221.7 112.8L221.2 112.6L220.4 112.0L219.9 111.5L219.2 110.5L218.6 109.5L217.9 108.2L217.4 107.0L216.9 105.5L216.6 104.2L216.4 102.7L216.2 101.2L216.1 99.7L216.1 98.0L216.2 96.2L216.4 94.7L216.7 93.2L217.1 91.7L217.6 90.2L218.1 89.0L218.7 87.9L219.2 87.1L219.7 86.5L220.4 85.8L221.2 85.4L222.2 85.0L223.2 84.7L223.9 84.5L224.7 84.5L225.4 84.7L226.4 84.9L227.4 85.3L228.2 85.7L229.1 86.2L229.9 86.9L230.4 87.5L230.9 88.2L231.6 89.5L232.2 90.7L232.7 92.0L233.1 93.2L233.4 94.5L233.6 95.7L233.8 97.0L233.8 98.5L233.8 99.7L233.6 102.0L233.4 103.0L233.1 104.2L232.2 106.4L231.1 108.5L230.4 109.4L229.7 110.4L228.9 111.2L227.9 112.2L227.2 112.8L226.4 113.2Z"/>
<path fill="rgb(144, 245, 16)" d="M225.9 111.5L225.2 111.5L224.2 111.5L223.4 111.4L222.7 111.2L221.7 110.7L220.9 110.3L220.4 109.9L219.9 109.3L219.4 108.7L218.9 107.7L218.4 106.7L217.9 105.5L217.6 104.2L217.3 103.0L217.1 101.5L216.9 100.1L216.9 98.7L217.0 97.2L217.2 95.7L217.4 94.5L217.7 93.1L218.1 92.0L218.4 90.9L218.9 89.9L219.4 89.1L219.9 88.5L220.4 88.0L221.2 87.5L221.9 87.2L222.9 86.8L223.7 86.6L224.7 86.5L225.7 86.5L226.4 86.6L227.2 86.8L227.9 87.1L228.7 87.6L229.2 88.0L229.7 88.5L230.2 89.2L230.7 90.0L231.3 91.2L231.8 92.2L232.2 93.4L232.7 95.7L233.0 98.0L233.0 100.2L232.7 102.2L232.5 103.2L232.1 104.5L231.2 106.5L230.7 107.3L230.1 108.2L229.4 109.1L228.7 109.9L227.9 110.5L227.2 111.0L226.4 111.4L225.9 111.5Z"/>
<path fill="rgb(199, 242, 0)" d="M226.7 109.5L225.9 109.6L225.2 109.7L224.4 109.7L223.7 109.5L222.9 109.3L222.2 109.0L221.4 108.5L220.7 108.0L220.2 107.4L219.7 106.7L218.9 105.3L218.4 103.5L218.1 102.5L217.9 101.2L217.8 100.0L217.8 98.7L217.9 97.5L218.0 96.2L218.3 95.0L218.5 94.0L218.9 92.8L219.3 92.0L219.7 91.3L220.2 90.7L220.7 90.2L221.4 89.6L222.2 89.2L222.9 88.8L223.7 88.6L224.4 88.5L225.2 88.5L225.9 88.6L227.2 88.9L228.4 89.5L228.9 89.9L229.4 90.4L229.9 91.1L230.4 91.9L231.2 93.5L231.7 95.2L232.1 97.2L232.2 99.2L232.0 101.2L231.7 103.0L231.0 104.7L230.2 106.3L229.2 107.7L228.7 108.2L227.9 108.8L227.2 109.3L226.7 109.5Z"/>
<path fill="rgb(246, 236, 0)" d="M226.4 108.0L225.9 108.1L225.2 108.2L224.4 108.1L223.9 108.0L223.2 107.8L222.7 107.6L221.9 107.1L221.4 106.7L220.4 105.6L220.0 105.0L219.7 104.3L219.2 102.7L218.8 101.0L218.7 99.0L218.9 97.0L219.3 95.2L219.6 94.5L219.9 93.7L220.2 93.2L220.8 92.5L221.4 91.8L221.9 91.4L222.4 91.1L223.2 90.7L223.7 90.6L224.4 90.4L225.2 90.4L225.7 90.4L226.4 90.6L226.9 90.7L227.7 91.1L228.2 91.4L229.2 92.3L229.9 93.4L230.6 94.7L231.0 96.2L231.3 97.7L231.4 99.5L231.2 101.2L230.9 102.7L230.3 104.2L229.6 105.5L229.2 106.1L228.7 106.6L228.2 107.1L227.7 107.4L226.9 107.8L226.4 108.0Z"/>
<path fill="rgb(255, 199, 0)" d="M225.4 107.0L224.9 107.0L224.2 106.9L223.2 106.5L222.2 105.8L221.3 105.0L220.7 104.0L220.1 102.7L219.7 101.2L219.6 99.7L219.7 98.2L219.9 96.7L220.4 95.5L221.1 94.2L221.9 93.2L222.9 92.5L223.9 92.0L224.9 91.9L225.4 91.9L226.2 92.0L227.2 92.4L228.2 93.1L228.9 93.9L229.6 95.0L230.1 96.2L230.4 97.5L230.6 99.0L230.6 100.5L230.3 102.0L229.9 103.2L229.2 104.5L228.4 105.5L227.9 105.9L227.4 106.3L226.4 106.7L225.4 107.0Z"/>
<path fill="rgb(255, 155, 0)" d="M226.2 105.7L225.2 105.9L224.2 105.8L223.7 105.6L223.2 105.3L222.4 104.8L221.8 104.0L221.2 103.0L220.7 101.7L220.5 100.5L220.4 99.2L220.6 98.0L220.9 96.7L221.4 95.5L222.2 94.5L222.9 93.8L223.7 93.4L224.7 93.1L225.7 93.1L226.4 93.3L227.2 93.7L228.1 94.5L228.7 95.3L229.2 96.2L229.5 97.2L229.8 98.5L229.9 99.7L229.8 100.7L229.5 102.0L229.1 103.0L228.5 104.0L227.9 104.7L227.2 105.3L226.7 105.5L226.2 105.7Z"/>
<path fill="rgb(252, 93, 0)" d="M225.9 104.7L225.2 104.8L224.4 104.7L223.7 104.5L222.9 103.9L222.3 103.2L221.8 102.2L221.5 101.2L221.3 100.2L221.3 99.0L221.4 98.0L221.7 97.0L222.2 96.1L222.7 95.4L223.4 94.8L224.2 94.4L224.9 94.2L225.7 94.3L226.4 94.5L227.1 95.0L227.7 95.5L228.2 96.2L228.7 97.2L228.9 98.0L229.0 99.0L229.0 100.0L228.9 101.0L228.7 101.7L228.3 102.7L227.8 103.5L227.2 104.0L226.6 104.5L225.9 104.7Z"/>
<path fill="rgb(241, 28, 0)" d="M225.7 103.5L225.2 103.6L224.4 103.4L223.9 103.2L223.4 102.8L222.9 102.2L222.7 101.7L222.4 101.0L222.2 100.0L222.2 99.2L222.3 98.5L222.5 97.7L222.9 97.0L223.3 96.5L223.9 96.0L224.4 95.7L224.9 95.6L225.4 95.6L225.9 95.7L226.4 95.9L226.9 96.4L227.4 97.0L227.7 97.5L227.9 98.2L228.1 99.0L228.1 99.7L228.0 100.5L227.8 101.2L227.5 102.0L227.2 102.5L226.7 103.0L226.2 103.3L225.7 103.5Z"/></g></g>
<g fill="#d2d2d2"><circle cx="240.0" cy="51.2" r="0.55"/><circle cx="225.7" cy="57.3" r="0.55"/><circle cx="213.0" cy="51.3" r="0.55"/><circle cx="227.2" cy="63.0" r="0.55"/><circle cx="231.3" cy="56.0" r="0.55"/><circle cx="225.0" cy="63.6" r="0.55"/><circle cx="207.3" cy="59.4" r="0.55"/><circle cx="228.6" cy="42.7" r="0.55"/><circle cx="227.3" cy="62.9" r="0.55"/><circle cx="239.3" cy="62.4" r="0.55"/><circle cx="235.5" cy="60.9" r="0.55"/><circle cx="227.5" cy="55.0" r="0.55"/><circle cx="233.0" cy="63.0" r="0.55"/><circle cx="212.2" cy="60.2" r="0.55"/><circle cx="225.8" cy="57.7" r="0.55"/><circle cx="227.4" cy="54.4" r="0.55"/><circle cx="224.3" cy="62.4" r="0.55"/><circle cx="232.7" cy="54.4" r="0.55"/><circle cx="220.2" cy="59.7" r="0.55"/><circle cx="248.1" cy="63.4" r="0.55"/><circle cx="232.5" cy="58.6" r="0.55"/><circle cx="221.6" cy="50.2" r="0.55"/><circle cx="236.2" cy="60.5" r="0.55"/><circle cx="233.3" cy="52.5" r="0.55"/><circle cx="219.8" cy="52.9" r="0.55"/><circle cx="241.6" cy="52.5" r="0.55"/><circle cx="209.3" cy="63.8" r="0.55"/><circle cx="233.4" cy="62.8" r="0.55"/><circle cx="228.4" cy="55.3" r="0.55"/></g>
<rect x="161.2" y="20.7" width="99.3" height="98.9" fill="none" stroke="#8c8c8c" stroke-width="1.1"/>
<path d="M159.7 77.9H260.5M184.1 20.7V119.6" stroke="#333" stroke-width="1.15" fill="none"/>
<text x="256.2" y="32.7" font-size="12" text-anchor="end" font-weight="normal" fill="#111" stroke="#111" >4.17</text>
<path d="M274.3 30.0H276.9M274.3 52.7H276.9M274.3 77.9H276.9M274.3 99.7H276.9M275.7 45.9H276.9M275.7 41.9H276.9M275.7 39.0H276.9M275.7 36.8H276.9M275.7 35.0H276.9M275.7 33.5H276.9M275.7 32.2H276.9M275.7 31.0H276.9M275.7 70.3H276.9M275.7 65.9H276.9M275.7 62.7H276.9M275.7 60.3H276.9M275.7 58.3H276.9M275.7 56.6H276.9M275.7 55.1H276.9M275.7 53.9H276.9M275.7 80.3H276.9M275.7 82.7H276.9M275.7 85.2H276.9M275.7 87.6H276.9M275.7 90.0H276.9M275.7 92.4H276.9M275.7 94.9H276.9M275.7 97.3H276.9M275.7 102.2H276.9M275.7 104.7H276.9M275.7 107.2H276.9M275.7 109.7H276.9M275.7 112.1H276.9M275.7 114.6H276.9M275.7 117.1H276.9M298.8 119.6V121.8M319.9 119.6V121.8M345.2 119.6V121.8M367.4 119.6V121.8M327.5 119.6V120.8M332.0 119.6V120.8M335.1 119.6V120.8M337.6 119.6V120.8M339.6 119.6V120.8M341.3 119.6V120.8M342.7 119.6V120.8M344.0 119.6V120.8M351.9 119.6V120.8M355.8 119.6V120.8M358.6 119.6V120.8M360.7 119.6V120.8M362.5 119.6V120.8M364.0 119.6V120.8M365.2 119.6V120.8M366.4 119.6V120.8M279.3 119.6V120.8M281.8 119.6V120.8M284.2 119.6V120.8M286.6 119.6V120.8M289.1 119.6V120.8M291.5 119.6V120.8M293.9 119.6V120.8M296.4 119.6V120.8M301.8 119.6V120.8M304.8 119.6V120.8M307.8 119.6V120.8M310.9 119.6V120.8M313.9 119.6V120.8M316.9 119.6V120.8" stroke="#777" stroke-width="0.7" fill="none"/>
<path d="M274.9 96.3h2v7.2h-2v-1.4h1v-1.3h-1.2v-1.5h1.2v-1.5h-1z" fill="#222"/>
<path d="M292.6 119.6h6.4v2.2h-1.4v-1h-1.2v1.2h-1.6v-1.2h-1.2v1h-1z" fill="#222"/>
<text x="0" y="0" font-size="4.3" fill="#555" stroke="#555" transform="translate(271.4 32.6) rotate(-90)">10<tspan dy="-1.6" font-size="3.2">5</tspan></text>
<text x="0" y="0" font-size="4.3" fill="#555" stroke="#555" transform="translate(271.4 55.3) rotate(-90)">10<tspan dy="-1.6" font-size="3.2">4</tspan></text>
<text x="0" y="0" font-size="4.3" fill="#555" stroke="#555" transform="translate(271.4 80.5) rotate(-90)">10<tspan dy="-1.6" font-size="3.2">3</tspan></text>
<text x="0" y="0" font-size="4.3" fill="#666" stroke="#666" transform="translate(271.4 100.9) rotate(-90)">0</text>
<text x="296.9" y="131.6" font-size="4.2" fill="#555" stroke="#555" text-anchor="middle">0</text>
<text x="318.9" y="131.6" font-size="4.2" fill="#555" stroke="#555" text-anchor="middle">10</text>
<text x="321.3" y="128.6" font-size="3.3" fill="#555" stroke="#555">3</text>
<text x="344.2" y="131.6" font-size="4.2" fill="#555" stroke="#555" text-anchor="middle">10</text>
<text x="346.6" y="128.6" font-size="3.3" fill="#555" stroke="#555">4</text>
<text x="366.4" y="131.6" font-size="4.2" fill="#555" stroke="#555" text-anchor="middle">10</text>
<text x="368.8" y="128.6" font-size="3.3" fill="#555" stroke="#555">5</text>
<clipPath id="c02"><rect x="276.9" y="20.7" width="99.40000000000003" height="98.89999999999999"/></clipPath>
<g clip-path="url(#c02)"><g filter="url(#bl)"><path fill="rgb(0, 0, 165)" d="M357.9 123.7L337.8 123.7L337.1 123.4L336.9 123.2L336.9 123.1L336.9 122.7L337.1 122.2L337.9 121.0L338.2 120.2L338.3 119.5L338.1 118.0L337.4 114.9L336.9 112.1L336.4 107.5L336.1 104.0L335.9 98.7L335.9 94.0L336.0 91.0L336.1 88.5L336.4 85.9L336.9 82.8L337.6 79.8L338.1 78.3L339.5 75.0L341.3 70.2L341.6 69.2L342.4 66.0L342.9 64.9L343.2 64.5L343.8 64.0L344.3 63.7L344.6 63.6L345.4 63.5L345.9 63.6L346.4 63.8L347.2 64.2L347.4 64.5L347.6 64.8L348.2 66.5L348.6 67.0L349.2 67.7L349.9 68.2L350.4 68.2L350.6 68.2L351.6 67.8L352.1 67.7L353.2 67.7L354.6 68.0L357.4 68.7L358.4 69.1L358.9 69.5L359.1 69.9L359.2 70.2L359.6 71.8L360.2 74.7L360.7 76.5L361.5 78.2L362.9 80.6L363.6 82.0L364.4 84.0L365.2 86.7L365.7 89.5L365.9 91.5L366.2 96.0L366.2 97.2L366.0 100.5L365.4 103.7L364.7 106.5L364.1 107.9L363.7 109.0L360.9 113.9L358.7 117.5L358.0 118.7L357.8 119.2L357.8 119.5L357.7 120.2L358.0 121.0L358.6 122.1L358.9 122.7L358.9 123.1L358.6 123.4L357.9 123.7Z"/>
<path fill="rgb(0, 22, 245)" d="M353.1 122.7L347.9 122.8L344.9 122.8L342.1 122.7L339.9 122.5L339.1 122.4L339.0 122.2L339.3 121.7L339.7 120.7L339.8 120.2L339.8 119.2L339.5 117.5L338.7 114.0L338.2 112.0L337.4 107.2L336.9 103.2L336.7 99.7L336.6 96.0L336.7 92.5L336.9 89.7L337.2 87.2L337.6 85.2L338.1 83.0L338.8 80.5L339.4 79.0L340.9 75.5L342.5 71.5L343.0 69.7L343.7 67.0L344.0 66.2L344.4 65.4L344.7 65.2L345.1 65.1L345.6 65.1L346.2 65.5L346.8 67.0L347.2 67.7L348.1 68.8L348.6 69.2L349.1 69.5L349.9 69.7L350.6 69.8L351.1 69.6L352.1 69.2L352.4 69.2L352.9 69.2L354.1 69.4L355.4 69.7L356.9 70.1L357.6 70.5L357.8 70.7L358.9 75.2L359.5 77.0L360.4 78.6L362.7 82.2L363.1 83.2L363.8 84.7L364.3 86.2L364.6 87.6L365.0 89.0L365.3 90.7L365.5 92.7L365.7 95.0L365.7 97.2L365.6 98.5L365.4 100.5L365.1 102.5L364.6 104.5L364.1 106.2L363.3 108.0L362.4 109.6L359.9 113.5L357.3 117.2L356.5 118.7L356.3 119.2L356.2 120.2L356.6 121.5L357.0 122.2L356.9 122.3L356.6 122.4L355.9 122.5L353.1 122.7Z"/>
<path fill="rgb(0, 54, 250)" d="M351.6 121.2L347.9 121.3L344.9 121.2L342.1 121.1L341.4 121.0L341.3 121.0L341.4 119.5L341.3 118.2L340.8 116.5L339.8 112.7L339.0 109.5L338.3 105.7L337.8 102.5L337.6 100.2L337.5 98.2L337.4 96.0L337.5 94.0L337.6 92.0L337.8 90.0L338.0 88.5L338.4 86.5L339.2 83.5L340.1 81.0L340.7 79.5L342.1 76.5L343.4 73.5L344.4 70.7L345.1 67.8L345.4 67.7L345.8 68.5L346.1 68.9L347.1 70.0L347.9 70.6L348.9 71.1L349.6 71.3L350.6 71.3L351.6 71.1L352.6 70.8L354.6 71.1L356.1 71.5L356.4 71.7L357.3 75.2L357.6 76.1L358.1 77.2L358.9 78.6L361.7 82.7L362.5 84.2L363.1 85.7L363.7 87.2L364.2 89.0L364.5 90.7L364.8 92.7L365.0 94.7L365.0 96.5L365.0 98.2L364.8 100.2L364.5 102.0L364.1 103.5L363.6 105.2L363.0 106.7L362.1 108.2L361.0 110.0L359.1 112.7L356.5 116.0L355.5 117.5L355.0 118.5L354.8 119.0L354.7 120.2L354.8 121.0L354.6 121.1L351.6 121.2Z"/>
<path fill="rgb(0, 87, 255)" d="M353.1 119.8L350.9 119.9L347.9 119.9L344.9 119.8L342.9 119.7L342.8 118.7L342.3 117.0L340.9 112.5L339.8 108.2L339.2 105.7L338.7 103.0L338.4 101.0L338.3 99.0L338.2 97.2L338.2 95.2L338.3 93.2L338.5 91.2L338.7 89.5L339.1 87.7L340.0 84.5L341.1 81.2L344.1 75.2L345.1 72.8L345.9 70.9L346.6 71.5L347.4 72.0L348.1 72.3L349.1 72.6L349.9 72.7L350.9 72.7L351.9 72.5L352.9 72.2L353.9 72.4L355.2 72.7L355.3 73.0L355.8 74.5L356.4 76.2L357.2 78.0L358.0 79.2L360.8 83.0L361.4 83.9L362.0 85.2L362.7 86.7L363.2 88.2L363.7 90.0L364.0 92.0L364.3 93.7L364.4 95.2L364.4 97.0L364.3 98.5L364.1 100.2L363.8 102.0L363.5 103.2L362.9 105.0L362.5 106.0L362.0 107.0L360.7 109.0L358.2 112.2L355.5 115.5L354.4 116.9L353.7 118.2L353.5 118.7L353.4 119.7L353.1 119.8Z"/>
<path fill="rgb(0, 128, 255)" d="M351.4 117.8L347.6 117.7L345.1 117.6L344.8 117.5L344.0 115.5L340.9 109.2L340.2 106.7L339.7 104.5L339.3 102.2L339.0 100.2L338.9 98.2L338.8 96.2L338.9 94.2L339.0 92.5L339.3 90.7L339.6 89.0L340.0 87.2L340.5 85.5L341.1 83.6L341.9 82.2L343.1 80.5L345.0 77.7L346.0 76.2L346.9 74.6L347.1 74.4L348.4 74.7L349.6 74.8L351.1 74.8L353.1 74.5L353.4 74.6L354.0 76.0L355.0 77.5L356.1 78.7L358.1 80.8L359.9 83.0L361.0 84.7L361.9 86.7L362.7 89.0L363.3 91.5L363.7 94.0L363.8 95.7L363.8 97.2L363.7 98.7L363.5 100.2L363.1 102.0L362.8 103.2L362.3 104.7L361.6 106.2L361.0 107.2L360.2 108.5L359.0 110.0L357.4 112.0L356.4 113.0L354.0 115.0L352.9 116.0L352.2 116.7L351.4 117.8Z"/>
<path fill="rgb(0, 169, 255)" d="M350.1 115.8L349.9 115.8L347.9 115.7L346.6 115.6L346.5 115.5L343.6 111.3L341.8 108.0L340.6 105.6L340.3 104.2L340.0 102.7L339.7 100.7L339.5 98.7L339.4 97.0L339.5 95.0L339.6 93.0L339.8 91.0L340.3 88.7L340.6 87.4L341.7 85.2L343.1 82.9L343.8 82.0L344.6 80.9L348.1 76.9L348.4 76.8L350.1 76.9L351.6 76.8L351.9 76.9L352.9 78.0L354.0 79.0L357.6 82.0L358.9 83.1L359.6 83.8L360.4 85.0L361.0 86.2L361.7 87.7L362.2 89.2L362.6 90.7L362.9 92.2L363.1 94.0L363.2 95.7L363.2 97.2L363.1 98.7L362.9 100.2L362.6 101.7L362.3 103.0L361.8 104.2L361.3 105.5L360.8 106.5L360.1 107.5L358.6 109.4L358.1 110.0L357.6 110.4L355.9 111.8L351.9 114.5L350.1 115.8Z"/>
<path fill="rgb(0, 203, 247)" d="M348.6 113.7L348.1 113.7L347.9 113.5L347.1 113.0L346.1 112.0L345.2 111.0L344.1 109.6L343.2 108.2L342.4 106.7L341.8 105.5L341.0 103.7L340.4 101.7L340.0 98.5L340.0 96.7L340.0 95.0L340.2 92.5L340.4 91.2L340.6 90.5L341.1 89.0L341.7 87.7L342.3 86.5L343.1 85.2L343.7 84.2L344.6 83.0L345.4 82.1L346.4 81.2L347.6 80.2L348.9 79.3L349.4 79.1L350.1 79.0L350.4 79.0L351.1 79.3L352.6 80.0L354.6 81.3L356.6 82.6L357.9 83.7L358.7 84.5L359.6 85.5L360.6 86.7L361.1 87.7L361.5 89.0L361.9 90.2L362.3 91.7L362.5 93.0L362.7 94.5L362.7 96.0L362.7 97.2L362.6 98.7L362.4 100.0L362.2 101.2L361.8 102.7L361.3 104.0L360.8 105.2L360.1 106.4L359.6 107.1L358.6 108.1L357.4 109.2L355.9 110.3L354.6 111.2L352.9 112.1L351.1 112.9L349.6 113.5L348.6 113.7Z"/>
<path fill="rgb(0, 233, 236)" d="M350.4 111.5L349.4 111.6L348.6 111.5L348.1 111.3L347.4 110.9L346.6 110.4L345.6 109.4L344.6 108.2L343.9 107.2L343.1 106.0L342.5 104.7L341.9 103.3L341.4 102.0L341.1 100.5L340.8 99.2L340.7 98.0L340.6 96.5L340.7 95.2L340.8 94.0L341.0 92.5L341.4 91.2L341.8 90.0L342.3 88.7L342.9 87.5L343.6 86.2L344.4 85.2L345.1 84.3L346.1 83.3L346.9 82.6L347.6 82.1L348.6 81.6L349.4 81.4L350.4 81.2L351.4 81.3L352.4 81.6L353.6 82.2L355.1 83.0L356.4 83.8L357.4 84.6L358.3 85.5L359.2 86.5L359.9 87.4L360.5 88.5L361.1 89.6L361.4 90.3L361.8 91.7L362.0 93.2L362.2 94.7L362.3 96.2L362.2 97.5L362.1 99.0L361.8 100.5L361.5 102.0L360.9 103.7L360.3 104.7L359.6 105.6L358.7 106.7L357.6 107.7L356.4 108.7L355.1 109.5L353.9 110.3L352.6 110.8L351.4 111.3L350.4 111.5Z"/>
<path fill="rgb(9, 239, 172)" d="M351.9 109.7L350.9 109.9L350.1 109.9L349.4 109.8L348.1 109.5L347.4 109.1L346.6 108.6L345.9 107.9L345.1 107.1L344.4 106.1L343.7 105.0L343.1 103.7L342.6 102.5L342.2 101.2L341.9 100.0L341.6 98.7L341.5 97.2L341.5 95.7L341.6 94.5L341.8 93.2L342.1 92.0L342.5 90.7L342.9 89.6L343.5 88.5L344.1 87.3L344.9 86.3L345.6 85.4L346.4 84.7L347.4 84.0L348.1 83.6L348.9 83.3L349.9 83.1L350.9 82.9L351.6 83.0L352.6 83.2L353.6 83.5L354.9 84.1L355.9 84.7L356.6 85.3L357.4 86.0L358.4 87.0L359.1 88.0L359.8 89.0L360.4 90.1L360.9 91.2L361.3 92.5L361.6 93.7L361.8 95.7L361.8 97.2L361.7 98.7L361.4 100.2L360.9 101.5L360.5 102.5L359.9 103.6L359.2 104.7L358.4 105.7L357.6 106.4L356.9 107.1L355.9 107.8L354.9 108.5L353.9 109.0L352.9 109.4L351.9 109.7Z"/>
<path fill="rgb(18, 244, 105)" d="M351.6 108.5L350.9 108.5L349.9 108.4L348.9 108.1L347.9 107.8L347.1 107.3L346.6 107.0L345.9 106.2L345.2 105.5L344.6 104.5L344.0 103.5L343.5 102.5L343.1 101.2L342.8 100.2L342.6 99.0L342.4 97.7L342.4 96.5L342.4 95.2L342.6 94.0L342.8 92.7L343.1 91.7L343.5 90.7L343.9 89.7L344.4 88.7L345.1 87.7L345.7 87.0L346.4 86.3L347.1 85.7L347.9 85.2L348.6 84.9L349.6 84.7L350.6 84.5L351.6 84.4L352.4 84.5L353.4 84.7L354.4 85.1L355.1 85.5L355.9 86.0L356.6 86.6L357.4 87.3L358.1 88.2L358.7 89.0L359.4 90.0L360.0 91.2L360.4 92.2L360.7 93.2L360.9 94.2L361.0 95.2L361.1 96.5L361.0 97.7L360.9 98.7L360.6 99.7L360.3 100.7L359.9 101.7L359.4 102.7L358.8 103.7L358.2 104.5L357.6 105.1L356.9 105.9L356.1 106.5L355.1 107.1L354.4 107.6L353.4 108.0L352.4 108.3L351.6 108.5Z"/>
<path fill="rgb(74, 245, 57)" d="M352.9 107.0L352.1 107.1L351.4 107.2L350.6 107.1L349.6 106.9L348.6 106.6L347.9 106.3L347.1 105.8L346.6 105.4L346.0 104.7L345.4 103.9L344.9 103.1L344.4 102.0L344.0 101.0L343.7 100.0L343.4 98.7L343.3 97.7L343.3 96.7L343.3 95.5L343.4 94.2L343.6 93.2L343.9 92.2L344.3 91.2L344.7 90.2L345.3 89.2L345.9 88.4L346.4 87.9L346.9 87.4L347.6 86.9L348.4 86.5L349.3 86.2L350.1 86.0L351.1 85.9L352.6 85.8L353.4 86.0L354.1 86.2L354.9 86.6L355.6 87.1L356.4 87.7L357.1 88.4L357.8 89.2L358.4 90.0L359.3 91.7L360.0 93.5L360.2 94.5L360.4 95.5L360.4 97.2L360.2 98.2L360.0 99.2L359.4 101.0L358.9 101.9L358.4 102.7L357.9 103.5L357.3 104.2L356.6 104.8L355.9 105.4L355.1 105.9L354.4 106.4L353.6 106.7L352.9 107.0Z"/>
<path fill="rgb(144, 245, 16)" d="M352.6 105.7L351.9 105.8L351.1 105.7L350.1 105.6L349.4 105.3L348.6 105.1L347.9 104.7L347.4 104.3L346.9 103.9L346.4 103.3L345.9 102.7L345.4 101.8L345.0 101.0L344.5 99.2L344.3 98.2L344.2 97.2L344.2 96.2L344.2 95.2L344.4 94.2L344.6 93.2L344.9 92.3L345.3 91.5L345.7 90.7L346.1 89.9L346.6 89.3L347.1 88.8L347.6 88.5L348.1 88.2L348.9 87.8L349.9 87.5L350.6 87.3L351.6 87.2L353.1 87.3L353.6 87.4L354.4 87.7L355.1 88.1L355.9 88.6L357.1 89.7L358.1 91.1L358.6 91.9L359.0 92.7L359.5 94.2L359.7 95.2L359.8 96.0L359.7 97.0L359.7 97.7L359.3 99.2L358.7 100.7L357.8 102.2L356.6 103.5L355.4 104.5L354.6 105.0L353.9 105.3L352.6 105.7Z"/>
<path fill="rgb(199, 242, 0)" d="M353.4 104.2L352.6 104.3L351.9 104.3L351.1 104.3L350.4 104.1L349.6 103.9L348.9 103.6L348.1 103.1L347.6 102.8L346.9 102.0L346.1 100.7L345.6 99.2L345.3 97.7L345.2 96.0L345.4 94.2L345.9 92.7L346.2 92.0L346.6 91.3L347.1 90.6L347.6 90.2L348.6 89.5L349.9 88.9L350.6 88.7L351.4 88.6L352.6 88.5L353.9 88.7L354.9 89.1L355.6 89.5L356.1 89.9L357.2 91.0L357.6 91.6L358.1 92.4L358.7 93.7L359.1 95.2L359.2 96.7L359.0 98.0L358.5 99.5L357.9 100.7L357.0 102.0L355.9 103.0L355.4 103.3L354.6 103.8L353.9 104.1L353.4 104.2Z"/>
<path fill="rgb(246, 236, 0)" d="M353.9 103.0L353.4 103.1L352.6 103.1L351.4 103.0L350.1 102.6L349.4 102.3L348.9 102.0L347.9 101.1L347.2 100.2L346.7 99.2L346.3 98.0L346.2 96.7L346.3 95.2L346.6 94.0L346.9 93.2L347.1 92.6L347.9 91.6L348.9 90.8L350.1 90.1L351.4 89.7L352.6 89.6L353.9 89.7L354.9 90.1L355.9 90.7L356.9 91.7L357.6 92.7L358.1 93.8L358.5 95.0L358.6 96.2L358.5 97.5L358.2 98.7L357.6 99.9L356.9 100.9L355.9 101.9L354.9 102.6L353.9 103.0Z"/>
<path fill="rgb(255, 199, 0)" d="M353.9 102.0L352.9 102.1L351.6 102.0L350.6 101.7L349.6 101.1L348.8 100.5L348.0 99.5L347.5 98.5L347.3 97.5L347.2 96.2L347.3 95.0L347.6 94.0L348.2 93.0L348.9 92.1L349.9 91.3L350.9 90.9L351.9 90.6L352.9 90.5L353.9 90.6L354.9 90.9L355.6 91.4L356.4 92.1L357.1 93.1L357.6 94.1L357.9 95.2L358.0 96.2L357.9 97.5L357.7 98.5L357.2 99.5L356.4 100.5L355.6 101.2L354.9 101.6L353.9 102.0Z"/>
<path fill="rgb(255, 155, 0)" d="M353.6 101.2L352.6 101.2L351.6 101.1L350.7 100.7L349.9 100.2L349.2 99.5L348.7 98.7L348.3 98.0L348.1 97.0L348.1 96.0L348.2 95.0L348.6 94.0L349.1 93.2L349.9 92.5L350.6 91.9L351.4 91.6L352.4 91.3L353.4 91.3L354.1 91.5L354.9 91.8L355.6 92.3L356.3 93.0L356.8 93.7L357.1 94.5L357.4 95.5L357.4 96.5L357.3 97.5L357.0 98.5L356.6 99.2L356.0 100.0L355.4 100.5L354.6 100.9L354.1 101.1L353.6 101.2Z"/>
<path fill="rgb(252, 93, 0)" d="M354.1 100.2L353.4 100.4L352.6 100.4L351.9 100.2L351.1 99.9L350.4 99.5L349.9 98.9L349.4 98.2L349.1 97.5L349.0 96.7L349.0 95.7L349.2 95.0L349.5 94.2L350.1 93.5L350.6 93.0L351.1 92.6L351.9 92.3L352.6 92.2L353.4 92.2L354.1 92.3L354.6 92.5L355.3 93.0L355.8 93.5L356.3 94.2L356.6 95.0L356.7 95.7L356.8 96.7L356.6 97.5L356.4 98.2L355.9 99.0L355.4 99.5L354.8 100.0L354.1 100.2Z"/>
<path fill="rgb(241, 28, 0)" d="M353.9 99.3L353.1 99.4L352.6 99.4L352.0 99.2L351.5 99.0L351.1 98.7L350.6 98.2L350.4 97.7L350.1 97.0L350.0 96.2L350.1 95.7L350.2 95.2L350.4 94.7L350.8 94.2L351.3 93.7L351.9 93.4L352.4 93.2L352.9 93.1L353.6 93.2L354.1 93.3L354.6 93.6L355.0 94.0L355.4 94.4L355.7 95.0L355.8 95.5L355.9 96.0L355.9 96.7L355.6 97.7L355.3 98.2L354.9 98.7L354.4 99.1L353.9 99.3Z"/></g></g>
<g fill="#d2d2d2"><circle cx="355.2" cy="66.0" r="0.55"/><circle cx="359.9" cy="54.7" r="0.55"/><circle cx="346.7" cy="60.5" r="0.55"/><circle cx="339.7" cy="59.7" r="0.55"/><circle cx="341.4" cy="63.5" r="0.55"/><circle cx="345.2" cy="38.5" r="0.55"/><circle cx="363.7" cy="63.8" r="0.55"/><circle cx="334.7" cy="54.3" r="0.55"/><circle cx="337.6" cy="65.4" r="0.55"/><circle cx="351.3" cy="65.3" r="0.55"/><circle cx="348.4" cy="63.0" r="0.55"/><circle cx="312.5" cy="65.2" r="0.55"/><circle cx="348.0" cy="62.2" r="0.55"/><circle cx="365.9" cy="57.3" r="0.55"/><circle cx="348.8" cy="47.8" r="0.55"/><circle cx="352.6" cy="51.5" r="0.55"/><circle cx="332.9" cy="47.2" r="0.55"/><circle cx="357.2" cy="66.0" r="0.55"/><circle cx="351.5" cy="53.0" r="0.55"/><circle cx="338.4" cy="64.6" r="0.55"/><circle cx="327.0" cy="66.0" r="0.55"/><circle cx="331.0" cy="67.2" r="0.55"/><circle cx="337.7" cy="52.5" r="0.55"/><circle cx="360.6" cy="61.4" r="0.55"/><circle cx="329.3" cy="58.9" r="0.55"/></g>
<rect x="276.9" y="20.7" width="99.4" height="98.9" fill="none" stroke="#8c8c8c" stroke-width="1.1"/>
<path d="M275.4 77.9H376.3M298.8 20.7V119.6" stroke="#333" stroke-width="1.15" fill="none"/>
<text x="372.0" y="32.7" font-size="12" text-anchor="end" font-weight="normal" fill="#111" stroke="#111" >4.15</text>
<path d="M43.1 152.2H45.7M43.1 174.9H45.7M43.1 200.1H45.7M43.1 221.9H45.7M44.5 168.1H45.7M44.5 164.1H45.7M44.5 161.2H45.7M44.5 159.0H45.7M44.5 157.2H45.7M44.5 155.7H45.7M44.5 154.4H45.7M44.5 153.2H45.7M44.5 192.5H45.7M44.5 188.1H45.7M44.5 184.9H45.7M44.5 182.5H45.7M44.5 180.5H45.7M44.5 178.8H45.7M44.5 177.3H45.7M44.5 176.1H45.7M44.5 202.5H45.7M44.5 204.9H45.7M44.5 207.4H45.7M44.5 209.8H45.7M44.5 212.2H45.7M44.5 214.6H45.7M44.5 217.1H45.7M44.5 219.5H45.7M44.5 224.3H45.7M44.5 226.8H45.7M44.5 229.2H45.7M44.5 231.7H45.7M44.5 234.1H45.7M44.5 236.5H45.7M44.5 239.0H45.7M68.3 241.4V243.6M88.7 241.4V243.6M114.0 241.4V243.6M136.2 241.4V243.6M96.3 241.4V242.6M100.8 241.4V242.6M103.9 241.4V242.6M106.4 241.4V242.6M108.4 241.4V242.6M110.1 241.4V242.6M111.5 241.4V242.6M112.8 241.4V242.6M120.7 241.4V242.6M124.6 241.4V242.6M127.4 241.4V242.6M129.5 241.4V242.6M131.3 241.4V242.6M132.8 241.4V242.6M134.0 241.4V242.6M135.2 241.4V242.6M48.2 241.4V242.6M50.7 241.4V242.6M53.2 241.4V242.6M55.7 241.4V242.6M58.3 241.4V242.6M60.8 241.4V242.6M63.3 241.4V242.6M65.8 241.4V242.6M71.2 241.4V242.6M74.1 241.4V242.6M77.0 241.4V242.6M80.0 241.4V242.6M82.9 241.4V242.6M85.8 241.4V242.6" stroke="#777" stroke-width="0.7" fill="none"/>
<path d="M43.7 218.5h2v7.2h-2v-1.4h1v-1.3h-1.2v-1.5h1.2v-1.5h-1z" fill="#222"/>
<path d="M62.1 241.4h6.4v2.2h-1.4v-1h-1.2v1.2h-1.6v-1.2h-1.2v1h-1z" fill="#222"/>
<text x="0" y="0" font-size="4.3" fill="#555" stroke="#555" transform="translate(40.2 154.8) rotate(-90)">10<tspan dy="-1.6" font-size="3.2">5</tspan></text>
<text x="0" y="0" font-size="4.3" fill="#555" stroke="#555" transform="translate(40.2 177.5) rotate(-90)">10<tspan dy="-1.6" font-size="3.2">4</tspan></text>
<text x="0" y="0" font-size="4.3" fill="#555" stroke="#555" transform="translate(40.2 202.7) rotate(-90)">10<tspan dy="-1.6" font-size="3.2">3</tspan></text>
<text x="0" y="0" font-size="4.3" fill="#666" stroke="#666" transform="translate(40.2 223.1) rotate(-90)">0</text>
<text x="66.4" y="253.4" font-size="4.2" fill="#555" stroke="#555" text-anchor="middle">0</text>
<text x="87.7" y="253.4" font-size="4.2" fill="#555" stroke="#555" text-anchor="middle">10</text>
<text x="90.1" y="250.4" font-size="3.3" fill="#555" stroke="#555">3</text>
<text x="113.0" y="253.4" font-size="4.2" fill="#555" stroke="#555" text-anchor="middle">10</text>
<text x="115.4" y="250.4" font-size="3.3" fill="#555" stroke="#555">4</text>
<text x="135.2" y="253.4" font-size="4.2" fill="#555" stroke="#555" text-anchor="middle">10</text>
<text x="137.6" y="250.4" font-size="3.3" fill="#555" stroke="#555">5</text>
<clipPath id="c10"><rect x="45.7" y="142.9" width="98.89999999999999" height="98.5"/></clipPath>
<g clip-path="url(#c10)"><g filter="url(#bl)"><path fill="rgb(0, 0, 165)" d="M120.5 245.4L94.3 245.4L95.3 244.2L95.6 243.4L95.7 242.7L95.4 241.7L94.8 240.4L92.6 235.7L91.0 232.2L90.5 231.0L90.0 229.7L89.5 227.4L89.2 225.9L89.0 223.8L88.7 220.9L88.7 218.9L88.7 215.9L89.0 212.4L89.2 210.5L89.7 207.8L90.0 207.0L90.8 204.7L91.1 203.7L91.4 202.2L91.5 200.7L91.4 199.4L91.3 198.7L90.2 195.0L90.0 193.6L89.7 190.9L89.7 189.4L89.6 187.2L89.7 185.3L90.0 183.4L90.4 181.7L90.5 181.4L90.7 181.1L90.9 180.9L91.5 180.7L92.5 180.4L94.7 180.2L97.0 180.3L99.4 180.4L101.6 180.7L104.3 181.2L105.5 181.5L106.2 182.0L106.7 182.6L107.0 183.4L107.2 184.1L107.4 186.2L107.2 188.3L107.0 190.1L106.7 191.8L106.2 194.2L106.1 195.4L106.2 195.9L106.3 196.9L106.8 198.7L107.3 199.7L107.6 200.2L108.2 200.8L108.7 201.1L109.5 201.2L110.0 201.3L112.5 201.3L116.7 201.6L118.0 201.9L119.4 202.4L121.0 203.2L121.6 203.7L122.4 204.4L123.5 205.6L124.0 206.4L124.5 207.4L124.9 208.7L125.2 209.6L125.7 211.8L125.9 214.2L125.9 215.7L125.7 217.2L125.5 218.4L125.0 220.4L124.5 221.9L123.1 225.4L122.7 226.4L122.6 226.7L122.2 227.7L122.1 227.9L122.0 228.2L121.6 229.2L121.2 230.2L121.1 230.4L121.1 230.7L120.8 231.2L120.7 231.7L120.6 231.9L120.3 233.2L120.3 233.7L120.1 234.4L119.8 236.7L119.7 238.2L119.5 239.9L119.3 240.9L119.0 242.7L119.2 243.4L120.5 245.1L120.6 245.4L120.5 245.4Z"/>
<path fill="rgb(0, 22, 245)" d="M119.0 245.4L96.2 245.4L96.5 244.9L96.8 243.9L96.8 243.4L96.7 242.4L95.8 240.2L92.3 232.7L91.3 230.2L90.8 228.4L90.5 226.7L90.2 224.7L90.0 222.7L89.9 219.9L90.0 217.7L90.2 214.4L90.5 211.9L90.8 209.9L91.2 208.2L92.3 205.2L92.7 203.9L93.1 201.9L93.2 200.7L93.2 199.4L93.0 198.4L92.8 197.7L91.9 195.2L91.5 193.9L91.1 191.9L90.9 189.9L90.9 187.4L91.1 185.4L91.3 184.2L91.8 182.4L92.0 182.2L92.1 182.2L93.5 181.9L95.2 181.7L97.0 181.7L98.7 181.8L100.7 182.1L103.2 182.6L104.5 183.0L105.0 183.2L105.2 183.4L105.4 183.9L105.6 184.7L105.7 186.2L105.7 187.2L105.2 191.2L104.7 193.9L104.6 195.4L104.8 196.7L105.1 197.9L105.7 199.2L106.5 200.3L106.9 200.9L107.5 201.4L108.2 201.8L108.7 201.9L109.5 202.1L112.0 202.2L116.2 202.7L117.7 203.0L119.2 203.7L120.5 204.4L121.0 204.9L121.8 205.7L122.7 206.9L123.4 208.4L124.2 210.7L124.6 212.9L124.8 214.9L124.7 217.2L124.3 219.7L123.8 221.4L122.3 225.9L120.6 230.7L120.1 232.2L119.9 233.2L119.0 238.8L118.1 242.7L118.2 243.7L118.6 244.7L119.0 245.4L119.0 245.4Z"/>
<path fill="rgb(0, 54, 250)" d="M109.7 245.4L106.3 245.4L104.0 245.2L100.7 244.8L98.5 244.3L98.3 244.2L98.3 243.7L98.1 242.7L97.9 241.9L97.2 240.4L95.3 236.7L93.4 232.4L92.6 230.7L92.1 228.9L91.8 227.4L91.5 225.7L91.3 222.2L91.3 218.9L91.5 215.2L91.9 212.7L92.4 209.9L92.8 208.4L94.0 205.4L94.5 203.9L94.9 201.9L95.1 200.2L95.1 198.9L94.9 197.9L94.4 196.7L93.4 194.7L92.9 193.7L92.4 191.9L92.1 190.2L92.1 188.2L92.2 187.2L92.3 186.2L92.6 184.9L93.1 183.7L93.2 183.5L93.5 183.4L94.7 183.2L96.0 183.1L97.2 183.1L98.5 183.1L99.5 183.3L100.7 183.6L102.5 184.1L103.7 184.6L103.8 184.9L104.0 186.4L104.1 187.4L104.0 188.7L103.7 190.9L102.9 194.2L102.7 195.7L102.8 196.4L103.1 197.7L103.5 198.7L104.1 199.7L104.8 200.7L105.9 201.7L106.7 202.2L107.7 202.7L108.5 202.9L109.2 203.0L112.0 203.2L116.0 203.9L117.5 204.3L118.2 204.7L119.1 205.2L119.8 205.7L120.5 206.3L121.0 206.9L121.5 207.7L121.9 208.4L122.3 209.4L123.0 211.7L123.5 213.7L123.6 215.4L123.5 217.7L123.2 220.2L122.6 222.4L121.8 225.4L120.1 230.2L119.5 232.2L119.1 233.9L118.1 238.4L116.9 242.7L116.8 243.2L116.9 244.4L116.7 244.5L114.2 245.0L111.7 245.3L109.7 245.4Z"/>
<path fill="rgb(0, 87, 255)" d="M110.0 244.4L107.2 244.5L104.2 244.2L102.5 244.0L100.5 243.6L99.7 243.4L99.5 243.2L99.2 242.4L98.9 241.7L96.3 236.7L94.6 232.9L93.8 230.9L93.1 228.9L92.7 227.2L92.5 225.4L92.3 223.7L92.3 221.7L92.3 219.9L92.4 217.9L92.8 214.2L93.3 211.4L94.0 208.9L95.7 204.8L97.1 201.7L97.5 200.4L97.7 199.2L97.7 198.7L97.6 198.2L97.3 197.4L96.8 196.7L95.2 195.2L94.7 194.4L94.2 193.7L93.9 192.9L93.3 191.2L93.2 190.4L93.1 189.4L93.0 188.4L93.1 187.4L93.3 186.7L93.6 185.7L94.0 184.7L94.2 184.4L95.2 184.2L96.2 184.1L97.2 184.1L98.5 184.2L99.7 184.5L100.7 184.8L102.2 185.4L102.6 185.7L102.8 186.7L102.9 187.9L102.8 189.2L102.6 190.7L102.2 191.9L101.5 194.2L100.9 195.4L100.6 196.2L100.4 196.7L100.4 197.2L100.5 197.9L100.9 198.7L101.4 199.2L102.0 199.6L102.2 199.8L102.6 200.4L103.3 201.2L104.1 201.9L105.2 202.7L106.1 203.2L107.2 203.6L108.5 203.9L112.0 204.2L115.0 204.8L116.0 205.0L116.7 205.2L118.2 206.0L118.8 206.4L119.5 206.9L120.1 207.7L120.6 208.4L121.3 209.9L121.8 211.2L122.1 212.4L122.5 214.4L122.6 216.4L122.4 219.2L122.1 221.2L121.0 225.4L118.9 231.9L117.3 238.4L115.9 242.4L115.6 243.4L115.5 243.6L114.2 243.9L112.0 244.2L110.0 244.4Z"/>
<path fill="rgb(0, 128, 255)" d="M98.2 194.4L97.5 194.2L96.7 193.9L96.0 193.5L95.5 193.1L94.7 192.3L94.5 191.9L94.2 191.2L94.0 190.2L93.9 189.2L93.9 188.2L94.1 187.2L94.5 185.9L94.9 185.4L95.6 185.2L96.5 185.0L97.2 185.0L98.2 185.1L99.0 185.2L99.9 185.7L100.6 186.2L101.2 186.7L101.4 187.2L101.6 188.2L101.6 189.2L101.5 190.2L101.1 191.2L100.6 192.2L100.0 193.0L99.0 193.9L98.5 194.3L98.2 194.4ZM111.5 243.4L108.7 243.6L106.0 243.5L103.5 243.2L102.0 242.9L100.5 242.6L100.3 242.4L99.5 240.7L97.5 237.2L96.6 235.4L94.9 231.7L94.0 229.2L93.7 227.7L93.4 226.2L93.2 224.4L93.1 222.2L93.1 220.2L93.3 218.2L93.5 216.3L93.7 215.0L94.1 213.4L94.6 211.9L95.2 210.4L95.8 209.2L96.6 207.7L98.2 205.1L99.5 203.2L99.7 203.0L103.7 203.1L105.5 204.0L107.0 204.4L109.0 204.8L112.2 205.1L115.0 205.7L116.5 206.2L117.4 206.7L118.2 207.1L119.2 208.2L119.7 208.9L120.2 209.8L120.7 210.9L121.1 212.2L121.6 214.2L121.8 215.9L121.7 218.4L121.4 220.7L121.0 222.7L120.4 225.4L118.3 231.7L116.7 237.7L116.1 239.4L114.7 242.7L114.5 242.9L114.2 242.9L111.5 243.4Z"/>
<path fill="rgb(0, 169, 255)" d="M98.2 192.4L97.7 192.4L97.2 192.2L96.7 192.0L96.2 191.7L95.8 191.4L95.5 190.9L95.0 190.2L94.9 189.7L94.8 189.2L94.8 188.7L94.9 188.2L95.1 187.7L95.4 187.2L95.7 186.7L96.0 186.5L96.5 186.3L97.0 186.3L97.7 186.3L98.2 186.4L98.7 186.6L99.2 186.9L99.7 187.3L100.0 187.7L100.2 188.2L100.2 188.9L100.2 189.7L99.9 190.4L99.7 190.9L99.2 191.6L98.7 192.1L98.2 192.4ZM111.0 242.7L109.5 242.8L108.0 242.8L106.7 242.8L105.2 242.7L103.7 242.4L102.5 241.9L101.4 241.4L99.7 239.4L97.8 236.2L96.9 234.4L95.8 231.9L95.1 230.2L94.6 228.7L94.2 226.7L94.1 225.2L94.0 223.7L94.0 221.9L94.2 220.2L94.4 218.4L94.7 216.7L95.2 214.9L95.7 213.2L96.3 211.7L97.0 210.2L97.7 209.0L98.7 207.6L100.0 206.0L100.2 205.8L101.2 205.5L103.2 205.1L105.7 205.0L108.0 205.4L112.2 205.9L114.1 206.4L114.7 206.7L115.7 207.2L116.7 207.9L117.5 208.5L118.2 209.4L119.0 210.7L119.8 212.2L120.4 213.7L120.8 215.2L121.0 215.7L121.0 216.4L121.0 218.7L120.8 220.7L120.3 223.2L119.5 226.2L117.7 231.7L116.5 235.9L115.9 237.9L115.4 239.2L114.5 241.1L114.2 241.5L114.0 241.8L113.7 242.0L112.6 242.4L111.0 242.7Z"/>
<path fill="rgb(0, 203, 247)" d="M98.2 190.2L97.7 190.2L97.5 190.1L97.2 189.9L96.9 189.7L96.8 189.4L96.7 188.9L96.8 188.7L97.0 188.3L97.2 188.0L97.5 188.0L98.0 188.1L98.3 188.4L98.6 188.7L98.7 188.9L98.6 189.4L98.5 189.9L98.2 190.2ZM109.5 241.7L108.2 241.7L107.2 241.7L106.0 241.5L104.7 241.2L103.7 240.9L102.5 240.4L102.2 240.2L101.5 239.5L100.5 238.4L99.3 236.9L98.4 235.4L97.6 233.9L96.8 232.2L96.1 230.2L95.7 228.7L95.4 226.9L95.2 225.2L95.1 223.4L95.2 221.4L95.4 219.7L95.6 217.9L96.1 216.2L96.6 214.4L97.2 212.9L98.0 211.4L98.7 210.2L99.5 209.1L100.5 208.0L100.7 207.8L101.2 207.5L102.2 207.1L103.2 206.8L104.5 206.6L106.2 206.4L107.7 206.4L109.5 206.5L111.0 206.8L112.2 207.1L113.7 207.7L115.0 208.4L116.0 209.0L116.7 209.7L117.4 210.4L118.1 211.7L118.8 212.9L119.3 214.2L119.7 215.4L120.1 216.9L120.3 218.4L120.3 219.4L120.1 221.2L119.6 223.7L119.2 225.4L115.9 235.9L115.3 237.7L114.7 239.0L113.7 240.0L112.7 240.9L111.0 241.4L109.5 241.7Z"/>
<path fill="rgb(0, 233, 236)" d="M109.2 240.4L108.0 240.4L106.7 240.4L105.5 240.1L104.2 239.7L103.4 239.4L103.0 239.2L102.0 238.2L101.2 237.4L100.2 236.2L99.4 234.9L98.5 233.4L97.8 231.9L97.2 230.4L96.8 228.9L96.5 227.4L96.2 225.7L96.1 223.9L96.2 222.2L96.3 220.4L96.5 218.9L96.9 217.2L97.4 215.7L98.0 214.2L98.7 212.7L99.5 211.5L100.2 210.5L101.0 209.7L101.6 209.2L102.5 208.7L103.7 208.2L105.0 207.9L106.2 207.7L107.7 207.7L109.0 207.7L110.2 207.9L111.5 208.2L112.7 208.6L114.0 209.2L115.0 209.9L116.0 210.6L116.5 211.2L117.2 212.4L117.9 213.7L118.3 214.7L118.7 215.9L119.0 217.2L119.3 218.4L119.4 219.9L119.5 220.7L119.5 221.4L119.0 223.7L118.6 225.4L117.9 227.9L115.6 234.9L115.0 236.7L114.4 237.4L113.6 238.4L112.7 239.2L112.0 239.8L110.7 240.2L109.2 240.4Z"/>
<path fill="rgb(9, 239, 172)" d="M109.2 239.2L108.0 239.2L106.7 239.1L105.5 238.8L104.5 238.5L104.0 238.3L103.5 238.0L102.5 237.2L101.7 236.3L100.8 235.2L100.0 233.9L99.2 232.5L98.6 231.2L98.1 229.9L97.7 228.4L97.4 226.9L97.2 225.4L97.1 223.9L97.1 222.2L97.3 220.7L97.5 219.2L97.9 217.7L98.3 216.4L98.8 215.2L99.5 213.8L100.0 212.9L100.7 212.0L101.7 211.0L102.5 210.4L103.5 209.8L104.4 209.4L105.5 209.1L106.7 209.0L108.0 208.9L109.2 209.0L110.5 209.2L111.5 209.5L112.5 209.9L113.5 210.4L114.5 211.0L115.2 211.6L115.8 212.4L116.5 213.4L117.0 214.4L117.4 215.4L117.8 216.7L118.2 217.9L118.4 219.2L118.5 220.4L118.6 221.7L118.6 223.2L118.5 223.9L118.3 224.7L117.5 227.4L115.2 234.4L114.7 235.2L113.7 236.5L112.8 237.4L112.0 238.2L111.0 238.8L110.2 239.0L109.2 239.2Z"/>
<path fill="rgb(18, 244, 105)" d="M109.2 237.9L108.2 238.0L107.2 237.9L106.2 237.8L105.0 237.4L104.5 237.1L103.7 236.6L103.0 235.9L102.2 235.1L101.4 234.2L100.7 233.1L100.0 231.7L99.4 230.4L98.9 229.2L98.5 227.7L98.3 226.4L98.1 225.2L98.1 223.9L98.1 222.4L98.2 221.2L98.5 219.7L98.8 218.4L99.2 217.1L99.7 215.9L100.2 214.9L100.9 213.9L101.7 212.9L102.5 212.2L103.5 211.4L104.2 211.0L105.2 210.6L106.2 210.3L107.2 210.2L108.2 210.2L109.2 210.2L110.2 210.4L111.2 210.7L112.0 211.0L113.0 211.5L113.7 212.1L114.5 212.7L115.2 213.6L115.7 214.4L116.2 215.3L116.6 216.2L117.0 217.3L117.2 218.4L117.4 219.7L117.6 220.9L117.6 222.2L117.6 223.7L117.5 224.9L117.3 226.2L117.2 226.9L116.8 228.2L115.7 231.3L115.5 231.8L114.9 232.9L114.1 234.2L113.3 235.2L112.5 236.1L111.7 236.7L110.7 237.4L110.0 237.8L109.2 237.9Z"/>
<path fill="rgb(74, 245, 57)" d="M109.0 236.7L108.0 236.8L107.2 236.7L106.2 236.5L105.5 236.2L104.7 235.8L104.0 235.2L103.2 234.5L102.5 233.7L101.7 232.7L101.1 231.7L100.6 230.7L100.1 229.4L99.7 228.2L99.4 227.2L99.2 225.9L99.1 224.7L99.1 223.4L99.2 222.2L99.3 220.9L99.6 219.7L99.9 218.7L100.2 217.7L100.7 216.7L101.3 215.7L102.0 214.7L102.7 213.9L103.5 213.2L104.2 212.6L105.0 212.2L106.0 211.8L106.7 211.6L107.7 211.5L108.5 211.5L109.5 211.6L110.5 211.8L111.3 212.2L112.2 212.6L112.9 213.2L113.5 213.7L114.2 214.4L114.7 215.1L115.2 215.9L115.6 216.7L115.9 217.7L116.2 218.7L116.4 219.7L116.6 221.7L116.6 223.9L116.5 225.2L116.3 226.4L116.0 227.7L115.6 228.9L115.1 230.2L114.6 231.2L114.0 232.3L113.4 233.2L112.7 234.1L112.0 234.9L111.2 235.5L110.5 236.0L109.7 236.4L109.0 236.7Z"/>
<path fill="rgb(144, 245, 16)" d="M108.7 235.4L108.2 235.5L107.5 235.5L106.7 235.4L106.0 235.1L105.2 234.7L104.7 234.4L104.0 233.7L103.3 232.9L102.6 231.9L102.0 230.9L101.5 229.9L101.1 228.9L100.8 227.9L100.5 226.9L100.3 225.9L100.2 224.7L100.2 223.4L100.3 222.4L100.4 221.4L100.6 220.4L100.9 219.4L101.3 218.4L101.7 217.6L102.2 216.7L102.7 215.9L103.4 215.2L104.0 214.6L104.7 214.0L105.5 213.5L106.2 213.2L107.0 213.0L107.7 212.9L108.5 212.9L109.2 213.0L110.0 213.2L110.7 213.5L111.5 214.0L112.2 214.5L113.4 215.7L114.0 216.4L114.3 216.9L114.7 217.7L114.9 218.4L115.4 220.2L115.6 222.2L115.5 224.2L115.4 225.2L115.2 226.4L114.6 228.4L113.7 230.4L112.7 232.2L112.1 232.9L111.5 233.7L110.7 234.4L110.0 234.9L109.2 235.3L108.7 235.4Z"/>
<path fill="rgb(199, 242, 0)" d="M108.0 234.4L107.2 234.4L106.7 234.3L106.2 234.1L105.7 233.8L105.2 233.4L104.6 232.9L104.0 232.2L103.5 231.4L102.6 229.7L102.0 227.9L101.6 225.9L101.5 224.2L101.6 222.4L101.9 220.7L102.5 218.9L103.3 217.4L104.2 216.2L104.7 215.7L105.3 215.2L106.0 214.8L106.5 214.5L107.2 214.3L107.7 214.3L108.2 214.3L109.0 214.5L109.5 214.7L110.2 215.0L110.8 215.4L111.4 215.9L112.0 216.4L112.6 217.2L113.4 218.4L113.9 219.7L114.3 221.2L114.4 222.9L114.3 224.9L113.8 226.9L113.1 228.9L112.3 230.7L111.3 232.2L110.7 232.8L110.2 233.3L109.2 234.0L108.7 234.2L108.0 234.4Z"/>
<path fill="rgb(246, 236, 0)" d="M108.5 233.2L108.0 233.3L107.5 233.4L107.0 233.3L106.5 233.1L106.0 232.8L105.5 232.4L105.0 231.9L104.5 231.4L103.8 230.2L103.2 228.7L102.8 226.9L102.6 225.2L102.6 223.4L102.8 221.7L103.3 219.9L103.8 218.7L104.6 217.4L105.5 216.5L106.0 216.1L106.5 215.9L107.0 215.7L107.5 215.6L108.0 215.6L108.5 215.7L109.2 216.0L110.2 216.7L111.1 217.7L111.9 218.9L112.5 220.2L112.8 221.4L113.0 222.9L113.0 224.4L112.7 226.2L112.3 227.9L111.6 229.7L111.0 230.9L110.2 232.0L109.5 232.7L109.0 233.0L108.5 233.2Z"/>
<path fill="rgb(255, 199, 0)" d="M108.5 232.2L108.0 232.3L107.5 232.4L106.7 232.2L106.0 231.8L105.1 230.9L104.5 229.8L103.9 228.4L103.6 226.9L103.4 225.4L103.4 223.7L103.6 222.2L103.9 220.7L104.4 219.4L105.0 218.4L105.7 217.6L106.5 217.1L107.0 216.9L107.5 216.8L108.2 216.9L109.0 217.2L109.7 217.8L110.4 218.7L111.0 219.7L111.4 220.9L111.7 222.2L111.9 223.4L111.9 224.7L111.7 226.2L111.5 227.4L111.0 228.9L110.6 229.9L110.0 230.9L109.2 231.7L108.5 232.2Z"/>
<path fill="rgb(255, 155, 0)" d="M108.5 231.2L107.7 231.4L107.0 231.3L106.2 230.9L105.7 230.4L105.0 229.4L104.6 228.4L104.3 227.2L104.0 225.7L104.0 224.2L104.1 222.9L104.4 221.7L104.8 220.4L105.3 219.4L106.0 218.6L106.7 218.1L107.5 217.9L108.2 218.0L108.7 218.3L109.2 218.7L109.8 219.4L110.3 220.4L110.7 221.4L110.9 222.4L111.1 223.7L111.1 224.9L111.0 226.2L110.8 227.4L110.5 228.4L110.0 229.4L109.6 230.2L109.0 230.8L108.5 231.2Z"/>
<path fill="rgb(252, 93, 0)" d="M108.0 230.2L107.7 230.3L107.2 230.2L106.7 230.1L106.2 229.7L105.7 229.0L105.3 228.2L105.0 227.2L104.7 226.2L104.6 225.2L104.7 223.9L104.8 222.9L105.0 221.9L105.4 220.9L105.8 220.2L106.3 219.7L107.0 219.2L107.5 219.1L108.0 219.2L108.5 219.4L109.0 219.8L109.5 220.5L109.7 221.2L110.1 222.2L110.3 223.2L110.4 224.2L110.4 225.2L110.3 226.2L110.1 227.2L109.8 228.2L109.4 228.9L109.0 229.6L108.5 230.0L108.0 230.2Z"/>
<path fill="rgb(241, 28, 0)" d="M107.5 228.9L107.0 228.8L106.7 228.6L106.3 228.2L106.0 227.6L105.7 227.0L105.5 226.2L105.4 224.7L105.4 223.9L105.5 223.2L105.7 222.5L106.0 221.8L106.2 221.4L106.7 220.8L107.0 220.7L107.5 220.5L108.0 220.6L108.2 220.8L108.6 221.2L109.0 221.7L109.2 222.2L109.5 223.2L109.6 224.2L109.6 224.9L109.6 225.7L109.5 226.5L109.2 227.3L109.0 227.8L108.7 228.2L108.2 228.7L107.7 228.9L107.5 228.9Z"/></g></g>
<g fill="#d2d2d2"><circle cx="116.8" cy="168.5" r="0.55"/><circle cx="102.9" cy="179.6" r="0.55"/><circle cx="107.4" cy="161.8" r="0.55"/><circle cx="111.3" cy="183.9" r="0.55"/><circle cx="118.7" cy="174.6" r="0.55"/><circle cx="99.5" cy="179.0" r="0.55"/><circle cx="100.8" cy="175.1" r="0.55"/><circle cx="99.8" cy="171.8" r="0.55"/><circle cx="122.4" cy="172.6" r="0.55"/><circle cx="141.8" cy="181.4" r="0.55"/><circle cx="114.4" cy="183.9" r="0.55"/><circle cx="117.7" cy="181.2" r="0.55"/><circle cx="88.6" cy="169.7" r="0.55"/><circle cx="100.8" cy="173.6" r="0.55"/><circle cx="85.5" cy="175.2" r="0.55"/><circle cx="112.5" cy="178.7" r="0.55"/><circle cx="83.1" cy="183.6" r="0.55"/><circle cx="98.5" cy="174.7" r="0.55"/><circle cx="111.9" cy="180.0" r="0.55"/><circle cx="108.3" cy="180.0" r="0.55"/><circle cx="119.3" cy="169.9" r="0.55"/><circle cx="120.6" cy="180.9" r="0.55"/></g>
<rect x="45.7" y="142.9" width="98.9" height="98.5" fill="none" stroke="#8c8c8c" stroke-width="1.1"/>
<path d="M44.2 200.1H144.6M68.3 142.9V241.4" stroke="#333" stroke-width="1.15" fill="none"/>
<text x="140.29999999999998" y="156.4" font-size="12" text-anchor="end" font-weight="normal" fill="#111" stroke="#111" >8.55</text>
<path d="M158.6 152.2H161.2M158.6 174.9H161.2M158.6 200.1H161.2M158.6 221.9H161.2M160.0 168.1H161.2M160.0 164.1H161.2M160.0 161.2H161.2M160.0 159.0H161.2M160.0 157.2H161.2M160.0 155.7H161.2M160.0 154.4H161.2M160.0 153.2H161.2M160.0 192.5H161.2M160.0 188.1H161.2M160.0 184.9H161.2M160.0 182.5H161.2M160.0 180.5H161.2M160.0 178.8H161.2M160.0 177.3H161.2M160.0 176.1H161.2M160.0 202.5H161.2M160.0 204.9H161.2M160.0 207.4H161.2M160.0 209.8H161.2M160.0 212.2H161.2M160.0 214.6H161.2M160.0 217.1H161.2M160.0 219.5H161.2M160.0 224.3H161.2M160.0 226.8H161.2M160.0 229.2H161.2M160.0 231.7H161.2M160.0 234.1H161.2M160.0 236.5H161.2M160.0 239.0H161.2M184.1 241.4V243.6M204.2 241.4V243.6M229.5 241.4V243.6M251.7 241.4V243.6M211.8 241.4V242.6M216.3 241.4V242.6M219.4 241.4V242.6M221.9 241.4V242.6M223.9 241.4V242.6M225.6 241.4V242.6M227.0 241.4V242.6M228.3 241.4V242.6M236.2 241.4V242.6M240.1 241.4V242.6M242.9 241.4V242.6M245.0 241.4V242.6M246.8 241.4V242.6M248.3 241.4V242.6M249.5 241.4V242.6M250.7 241.4V242.6M163.7 241.4V242.6M166.3 241.4V242.6M168.8 241.4V242.6M171.4 241.4V242.6M173.9 241.4V242.6M176.5 241.4V242.6M179.0 241.4V242.6M181.6 241.4V242.6M187.0 241.4V242.6M189.8 241.4V242.6M192.7 241.4V242.6M195.6 241.4V242.6M198.5 241.4V242.6M201.3 241.4V242.6" stroke="#777" stroke-width="0.7" fill="none"/>
<path d="M159.2 218.5h2v7.2h-2v-1.4h1v-1.3h-1.2v-1.5h1.2v-1.5h-1z" fill="#222"/>
<path d="M177.9 241.4h6.4v2.2h-1.4v-1h-1.2v1.2h-1.6v-1.2h-1.2v1h-1z" fill="#222"/>
<text x="0" y="0" font-size="4.3" fill="#555" stroke="#555" transform="translate(155.7 154.8) rotate(-90)">10<tspan dy="-1.6" font-size="3.2">5</tspan></text>
<text x="0" y="0" font-size="4.3" fill="#555" stroke="#555" transform="translate(155.7 177.5) rotate(-90)">10<tspan dy="-1.6" font-size="3.2">4</tspan></text>
<text x="0" y="0" font-size="4.3" fill="#555" stroke="#555" transform="translate(155.7 202.7) rotate(-90)">10<tspan dy="-1.6" font-size="3.2">3</tspan></text>
<text x="0" y="0" font-size="4.3" fill="#666" stroke="#666" transform="translate(155.7 223.1) rotate(-90)">0</text>
<text x="182.2" y="253.4" font-size="4.2" fill="#555" stroke="#555" text-anchor="middle">0</text>
<text x="203.2" y="253.4" font-size="4.2" fill="#555" stroke="#555" text-anchor="middle">10</text>
<text x="205.6" y="250.4" font-size="3.3" fill="#555" stroke="#555">3</text>
<text x="228.5" y="253.4" font-size="4.2" fill="#555" stroke="#555" text-anchor="middle">10</text>
<text x="230.9" y="250.4" font-size="3.3" fill="#555" stroke="#555">4</text>
<text x="250.7" y="253.4" font-size="4.2" fill="#555" stroke="#555" text-anchor="middle">10</text>
<text x="253.1" y="250.4" font-size="3.3" fill="#555" stroke="#555">5</text>
<clipPath id="c11"><rect x="161.2" y="142.9" width="99.30000000000001" height="98.5"/></clipPath>
<g clip-path="url(#c11)"><g filter="url(#bl)"><path fill="rgb(0, 0, 165)" d="M232.7 231.2L230.4 231.3L229.2 231.3L227.2 231.2L225.2 230.9L223.7 230.7L221.5 230.2L219.8 229.7L218.4 229.2L216.9 228.4L216.1 227.9L215.4 227.4L214.2 226.3L213.2 225.2L212.7 224.4L211.9 223.0L211.4 221.8L210.9 219.9L210.7 218.4L210.2 214.9L209.9 212.2L209.4 200.4L209.3 195.2L209.3 191.4L209.4 188.2L209.7 185.3L209.9 183.6L210.2 182.2L210.7 180.8L211.2 179.8L211.7 179.2L212.3 178.7L212.7 178.4L213.2 178.2L213.9 178.1L214.9 178.2L215.5 178.4L216.4 178.9L217.4 179.9L220.4 183.1L220.7 183.3L220.9 183.3L221.2 183.2L221.5 182.9L221.8 182.4L222.4 180.9L222.9 180.1L224.3 178.7L225.0 178.2L225.8 177.7L227.1 177.2L229.4 176.7L232.8 176.2L234.9 175.9L236.7 175.8L238.7 175.9L239.9 176.2L240.8 176.4L242.0 176.9L243.9 177.9L244.8 178.7L245.4 179.4L245.9 180.3L246.2 180.9L246.4 181.7L246.7 182.9L247.0 184.4L247.2 186.7L247.5 193.7L248.5 209.7L248.5 214.7L248.2 218.2L247.9 220.0L247.5 222.2L247.2 222.9L246.7 224.0L246.2 224.8L245.7 225.5L244.8 226.4L244.0 227.2L242.2 228.4L240.3 229.4L238.2 230.2L236.2 230.7L234.7 230.9L232.7 231.2Z"/>
<path fill="rgb(0, 22, 245)" d="M231.4 230.4L230.2 230.5L228.2 230.4L226.7 230.3L224.9 230.0L222.9 229.6L221.2 229.2L219.7 228.7L218.7 228.3L217.9 227.9L216.7 227.2L215.9 226.6L214.9 225.7L214.4 225.2L213.7 224.3L213.0 223.2L212.6 222.4L211.9 220.7L211.7 219.7L211.3 217.7L210.7 213.9L210.5 211.2L210.5 208.2L210.6 199.9L210.6 192.4L210.7 189.2L211.0 186.2L211.5 183.2L212.0 181.4L212.4 180.7L212.7 180.3L213.2 179.8L213.7 179.5L213.9 179.5L214.4 179.5L215.2 179.7L215.7 180.0L216.4 180.6L217.2 181.2L218.7 182.7L219.8 183.9L220.4 184.3L220.9 184.4L221.2 184.3L221.8 184.2L222.4 183.7L222.9 182.9L223.8 181.2L224.9 179.9L225.8 179.2L226.4 178.7L226.9 178.5L227.9 178.1L229.4 177.7L233.2 177.0L235.9 176.7L237.4 176.7L238.2 176.8L239.7 177.1L241.2 177.6L242.6 178.4L243.7 179.1L244.4 179.9L244.9 180.7L245.3 181.7L245.6 182.9L246.0 185.2L246.3 187.4L246.9 198.9L247.7 208.7L247.8 210.9L247.8 213.4L247.7 215.4L247.5 217.4L247.3 219.2L246.9 220.5L246.6 221.7L246.2 222.9L245.7 223.8L245.1 224.7L244.1 225.7L243.3 226.4L242.2 227.2L241.2 227.8L239.7 228.6L238.4 229.1L236.7 229.6L235.4 229.9L233.4 230.2L231.4 230.4Z"/>
<path fill="rgb(0, 54, 250)" d="M231.9 229.4L230.4 229.5L229.2 229.5L227.2 229.4L225.9 229.2L224.2 228.9L222.4 228.5L220.9 228.1L219.7 227.6L218.4 227.0L217.7 226.6L216.7 225.9L215.9 225.3L215.2 224.5L214.7 223.9L213.9 222.8L213.4 221.9L213.1 221.2L212.7 219.9L212.1 217.4L211.6 214.2L211.4 211.4L211.4 207.9L211.8 199.4L211.9 191.4L212.1 187.9L212.5 185.4L212.9 183.4L213.5 181.9L213.7 181.5L213.9 181.2L214.2 181.1L214.7 181.3L215.7 181.9L217.7 183.5L218.9 184.7L219.7 185.3L220.7 185.7L221.2 185.7L221.7 185.7L222.2 185.6L222.7 185.4L223.4 184.8L224.1 183.9L224.9 182.2L225.3 181.7L225.9 180.9L226.4 180.4L226.9 180.0L227.4 179.7L228.4 179.3L229.7 178.9L231.2 178.5L232.7 178.2L234.2 177.9L235.4 177.8L236.7 177.8L237.7 177.8L239.2 178.1L240.4 178.6L241.7 179.2L242.9 180.1L243.4 180.7L243.9 181.4L244.3 182.7L244.7 183.9L245.1 186.2L245.3 188.2L245.5 190.7L245.7 196.7L245.8 199.2L246.8 209.2L246.9 212.9L246.8 214.9L246.7 216.4L246.5 217.9L246.2 219.2L245.8 220.7L245.4 221.9L244.9 222.9L244.4 223.6L243.8 224.4L242.9 225.2L241.9 226.0L240.7 226.9L239.2 227.6L238.2 228.0L236.7 228.5L235.4 228.9L233.4 229.2L231.9 229.4Z"/>
<path fill="rgb(0, 87, 255)" d="M229.9 228.7L228.4 228.6L227.2 228.5L224.4 228.1L221.7 227.4L219.4 226.5L218.4 226.0L217.7 225.5L216.7 224.7L215.9 224.0L215.4 223.4L214.7 222.4L214.3 221.7L213.8 220.7L213.4 219.4L213.1 218.4L212.7 216.2L212.3 213.4L212.1 211.2L212.2 207.7L212.8 199.9L212.9 197.7L212.8 193.4L212.9 191.2L213.0 189.2L213.3 187.2L213.8 184.9L214.2 183.7L214.4 182.9L215.4 183.5L216.7 184.3L218.3 185.7L219.4 186.4L220.2 186.8L220.9 187.0L221.4 187.1L222.2 187.1L222.7 187.0L223.2 186.7L223.7 186.4L224.2 185.9L224.6 185.4L225.1 184.7L225.9 182.8L226.2 182.4L227.1 181.4L227.9 180.8L229.2 180.2L230.4 179.8L231.7 179.5L233.2 179.1L234.4 178.9L235.9 178.8L236.9 178.8L237.9 178.9L239.2 179.2L240.4 179.8L241.7 180.5L242.4 181.1L242.8 181.7L243.2 182.7L243.6 183.9L244.0 185.4L244.3 187.4L244.5 189.7L244.7 197.2L244.9 199.9L245.2 202.4L245.8 207.4L246.0 209.9L246.1 211.9L246.1 213.9L246.0 215.4L245.8 217.2L245.5 218.4L245.1 219.9L244.7 221.2L244.2 222.2L243.8 222.9L243.2 223.7L242.4 224.4L241.4 225.2L240.2 226.0L238.9 226.7L237.9 227.2L236.4 227.7L234.9 228.1L233.2 228.4L231.4 228.6L229.9 228.7Z"/>
<path fill="rgb(0, 128, 255)" d="M229.9 227.9L228.4 227.9L227.2 227.8L224.4 227.3L221.9 226.7L220.7 226.2L219.7 225.8L218.7 225.2L217.9 224.7L217.2 224.1L216.5 223.4L215.9 222.7L215.3 221.9L214.8 220.9L214.5 220.2L213.8 218.2L213.3 215.9L213.0 213.4L212.9 211.2L213.0 207.9L213.7 200.2L213.7 198.2L213.7 192.2L213.8 190.2L214.1 188.2L214.4 186.6L214.9 185.4L215.2 185.2L215.7 185.1L216.2 185.4L218.7 187.2L219.7 187.7L220.6 188.2L221.4 188.7L221.9 188.9L222.4 189.0L223.2 188.9L223.9 188.5L224.7 187.7L225.6 186.2L227.1 183.2L227.7 182.3L228.1 181.9L228.9 181.4L230.2 180.9L231.4 180.5L232.9 180.1L234.2 179.9L235.4 179.7L236.7 179.7L237.7 179.8L238.7 180.0L239.7 180.4L240.7 181.0L241.7 181.7L242.0 182.2L242.4 183.2L242.9 184.7L243.2 186.2L243.5 188.2L243.7 190.2L243.9 197.2L244.0 199.7L244.4 202.4L245.1 207.4L245.3 209.9L245.4 211.9L245.3 213.7L245.2 215.2L245.0 216.9L244.8 218.2L244.3 219.7L243.9 220.9L243.4 221.9L242.9 222.6L242.4 223.2L241.7 223.9L240.9 224.6L239.9 225.2L238.7 225.9L237.7 226.4L236.2 226.9L234.7 227.3L233.2 227.6L231.4 227.8L229.9 227.9Z"/>
<path fill="rgb(0, 169, 255)" d="M231.4 227.2L230.2 227.2L228.9 227.2L227.4 227.1L226.2 227.0L224.7 226.7L223.2 226.3L221.9 226.0L220.7 225.5L219.7 225.0L218.9 224.6L218.2 224.0L217.4 223.4L216.9 222.9L216.4 222.2L215.7 221.2L215.3 220.4L214.6 218.4L214.1 216.2L213.7 213.4L213.5 211.2L213.6 208.9L213.8 206.4L214.2 203.0L214.7 199.7L214.8 198.4L214.9 196.9L214.9 193.2L215.0 191.4L215.3 189.9L215.7 188.7L216.0 188.2L216.2 188.0L216.4 188.1L217.2 188.3L218.2 188.9L219.1 189.7L220.7 191.3L221.4 191.9L221.9 192.2L222.4 192.3L222.9 192.3L223.4 192.1L223.9 191.8L224.4 191.4L225.2 190.5L226.2 188.7L228.3 184.2L228.7 183.6L229.7 182.7L230.9 181.8L232.2 181.1L233.7 180.8L234.9 180.6L236.2 180.5L237.4 180.6L238.5 180.9L239.2 181.2L240.2 181.9L240.9 182.6L241.4 183.3L241.9 184.3L242.2 185.0L242.5 186.4L242.8 188.4L243.0 190.4L243.2 197.4L243.3 199.9L243.6 202.4L244.4 207.4L244.6 209.9L244.7 213.2L244.5 215.9L244.3 217.2L244.0 218.4L243.6 219.7L243.1 220.9L242.7 221.7L242.4 222.2L241.9 222.7L241.2 223.4L240.2 224.2L239.2 224.9L238.2 225.4L236.9 225.9L235.7 226.3L234.2 226.7L232.9 227.0L231.4 227.2Z"/>
<path fill="rgb(0, 203, 247)" d="M232.4 226.4L230.4 226.6L228.4 226.6L226.2 226.4L223.9 225.9L221.7 225.2L220.4 224.6L218.9 223.7L218.2 223.1L217.5 222.4L216.4 221.2L215.9 220.2L215.4 218.9L214.8 216.9L214.4 214.7L214.2 212.7L214.1 210.7L214.3 208.2L214.4 206.5L214.6 205.7L216.3 199.7L216.8 197.4L217.2 194.5L217.4 193.6L217.7 193.1L217.9 192.9L218.2 192.9L218.4 193.0L218.7 193.2L220.1 194.7L220.8 195.2L221.4 195.4L221.9 195.5L222.7 195.5L223.4 195.2L223.9 195.0L224.7 194.4L225.2 193.9L225.7 193.2L226.2 192.4L226.9 190.8L228.9 186.2L229.4 185.0L229.7 184.7L230.4 183.9L231.1 183.4L231.9 182.9L232.7 182.5L233.4 182.2L234.4 182.0L235.4 181.9L236.2 181.9L237.2 182.0L237.9 182.3L238.9 182.8L239.8 183.4L240.4 184.4L241.0 185.4L241.5 186.7L241.8 187.9L242.1 189.7L242.3 191.4L242.3 193.2L242.2 196.9L242.3 198.9L242.5 200.9L243.4 205.3L243.9 208.4L244.1 211.4L244.1 213.2L244.0 214.7L243.7 216.9L243.5 217.9L243.2 218.7L242.6 219.9L242.0 220.9L241.5 221.7L240.9 222.2L240.2 222.9L239.2 223.7L238.2 224.4L237.2 224.9L235.9 225.5L234.9 225.9L233.9 226.2L232.4 226.4Z"/>
<path fill="rgb(0, 233, 236)" d="M231.2 225.7L229.4 225.8L227.7 225.7L225.9 225.5L224.2 225.1L222.4 224.4L220.9 223.7L219.7 222.9L218.5 221.9L217.6 220.9L216.7 219.7L216.1 218.4L215.4 216.8L215.2 215.7L214.9 213.7L214.7 211.4L214.8 209.9L215.3 207.4L215.7 205.9L216.2 204.4L216.9 202.7L217.4 201.3L217.9 200.4L218.4 199.7L219.0 199.2L219.7 198.7L220.4 198.4L222.2 198.0L223.3 197.7L224.4 197.1L225.7 196.2L226.2 195.6L226.7 195.0L227.4 193.7L227.9 192.4L229.4 188.2L230.0 186.9L230.5 185.9L231.2 185.2L231.7 184.8L232.4 184.2L233.2 183.9L233.9 183.6L234.7 183.4L235.4 183.3L236.2 183.3L236.9 183.5L237.7 183.7L238.4 184.1L238.8 184.4L239.4 185.3L239.9 186.3L240.4 187.4L240.8 188.7L241.0 190.2L241.1 191.7L241.1 193.2L241.0 197.2L241.1 199.4L241.5 201.9L242.8 206.9L243.2 209.2L243.4 210.4L243.5 211.7L243.4 212.9L243.3 214.2L243.1 215.4L242.9 216.4L242.6 217.4L242.1 218.4L241.5 219.7L240.9 220.5L240.5 221.2L239.7 221.9L238.9 222.6L237.9 223.3L236.9 223.9L235.9 224.4L234.7 224.8L233.7 225.2L232.4 225.5L231.2 225.7Z"/>
<path fill="rgb(9, 239, 172)" d="M231.2 224.7L229.4 224.8L227.9 224.8L226.4 224.6L224.9 224.2L223.4 223.7L221.9 223.1L220.7 222.3L219.4 221.4L218.5 220.4L217.7 219.2L216.9 217.8L216.4 216.4L216.0 214.9L215.8 213.4L215.7 211.9L215.9 210.2L216.3 207.9L217.0 205.7L217.4 204.5L217.9 203.5L218.4 202.7L218.9 202.0L219.7 201.2L220.4 200.7L221.2 200.3L223.4 199.4L224.7 198.7L226.0 197.9L227.1 196.9L227.7 196.3L228.2 195.7L228.8 194.4L229.3 193.2L230.4 189.3L230.9 188.1L231.4 187.1L231.9 186.5L232.4 186.1L233.0 185.7L233.7 185.3L234.2 185.1L234.9 184.9L235.7 184.9L236.2 184.9L236.9 185.1L237.4 185.3L238.2 186.0L238.7 186.8L239.1 187.7L239.4 188.5L239.7 189.4L239.9 190.7L240.0 191.9L240.0 193.4L239.9 196.9L240.0 199.2L240.4 201.7L241.7 206.7L242.1 208.9L242.3 210.2L242.4 211.4L242.4 212.7L242.3 213.9L241.9 215.9L241.6 216.9L241.2 217.9L240.7 218.9L240.2 219.7L239.7 220.4L239.2 221.0L238.4 221.7L237.4 222.4L236.6 222.9L235.7 223.4L234.7 223.8L233.4 224.2L232.4 224.4L231.2 224.7Z"/>
<path fill="rgb(18, 244, 105)" d="M231.4 223.7L229.9 223.8L228.4 223.8L226.9 223.7L225.4 223.4L223.9 222.9L222.4 222.2L221.2 221.5L220.2 220.7L219.3 219.7L218.6 218.7L217.9 217.4L217.5 216.2L217.1 214.9L216.9 213.4L216.8 211.9L216.9 210.4L217.3 208.4L217.8 206.7L218.5 205.2L218.9 204.4L219.4 203.7L220.2 202.9L220.9 202.3L221.9 201.7L224.9 200.2L226.2 199.4L227.7 198.4L228.7 197.5L229.2 196.9L229.7 196.2L230.4 194.9L230.9 193.7L231.9 190.2L232.2 189.3L232.7 188.4L233.1 187.9L233.4 187.5L234.2 187.0L234.9 186.8L235.4 186.7L235.9 186.8L236.2 186.8L236.7 187.1L237.2 187.6L237.5 187.9L238.0 188.9L238.3 189.7L238.5 190.4L238.6 191.4L238.7 192.4L238.6 196.9L238.7 198.9L238.9 200.2L239.1 201.4L240.6 206.7L241.1 208.9L241.3 210.2L241.4 211.4L241.4 212.7L241.3 213.7L241.0 215.4L240.4 217.2L239.9 218.1L239.5 218.9L238.9 219.7L238.5 220.2L237.7 220.9L237.0 221.4L235.4 222.4L234.4 222.8L233.4 223.2L231.4 223.7Z"/>
<path fill="rgb(74, 245, 57)" d="M229.9 222.9L228.7 222.9L227.4 222.8L226.2 222.6L224.9 222.2L223.7 221.7L222.6 221.2L221.5 220.4L220.7 219.7L219.9 218.8L219.3 217.7L218.8 216.7L218.4 215.4L218.1 214.2L217.9 212.9L217.9 211.7L218.0 210.2L218.4 208.7L218.9 207.2L219.6 205.9L220.3 204.9L221.0 204.2L222.0 203.4L223.2 202.7L226.4 200.8L228.0 199.9L229.5 198.9L230.6 197.9L231.5 196.9L232.3 195.7L232.9 194.4L233.6 191.9L234.0 191.2L234.3 190.7L234.7 190.3L235.0 190.2L235.4 190.1L235.7 190.1L235.9 190.3L236.2 190.6L236.4 191.0L236.7 191.7L236.8 192.4L236.8 193.2L236.8 196.7L237.1 198.7L237.7 200.9L239.4 206.4L240.0 208.7L240.2 210.0L240.3 211.4L240.3 212.9L240.1 214.2L239.7 215.9L239.4 216.7L238.9 217.6L238.5 218.4L237.9 219.2L236.9 220.1L236.3 220.7L235.4 221.2L234.6 221.7L233.7 222.0L231.9 222.6L230.9 222.8L229.9 222.9Z"/>
<path fill="rgb(144, 245, 16)" d="M230.7 221.9L229.4 222.0L228.2 222.0L226.9 221.9L225.9 221.6L224.7 221.2L223.7 220.7L222.5 219.9L221.7 219.2L221.0 218.4L220.4 217.4L219.9 216.4L219.5 215.4L219.3 214.4L219.1 213.2L219.0 212.2L219.1 210.9L219.5 209.2L219.8 208.2L220.2 207.4L220.7 206.7L221.2 206.0L222.4 204.8L223.7 203.9L225.2 203.0L230.7 200.2L232.4 199.5L233.2 199.3L233.7 199.4L234.2 199.5L234.7 199.8L235.2 200.3L235.7 201.0L236.7 202.7L237.7 205.0L238.4 207.2L239.0 209.4L239.2 211.4L239.1 212.4L239.1 213.4L238.8 214.9L238.2 216.4L237.4 217.8L236.6 218.9L235.4 219.9L233.9 220.8L232.4 221.5L230.7 221.9Z"/>
<path fill="rgb(199, 242, 0)" d="M229.9 221.2L228.9 221.2L227.9 221.2L226.9 221.0L225.9 220.7L224.9 220.3L223.9 219.7L223.2 219.2L222.4 218.4L221.8 217.7L221.3 216.9L221.0 216.2L220.6 215.2L220.4 214.2L220.2 213.2L220.2 212.2L220.3 211.2L220.5 210.2L220.7 209.4L221.1 208.7L221.4 207.9L221.9 207.3L222.5 206.7L223.2 206.0L223.9 205.4L224.9 204.7L226.2 204.0L227.4 203.4L228.9 202.8L230.2 202.4L231.2 202.2L231.9 202.1L232.7 202.2L233.2 202.3L233.7 202.5L234.2 202.8L234.7 203.3L235.2 203.8L235.7 204.5L236.2 205.3L236.7 206.3L237.4 208.2L237.8 209.9L237.9 211.7L237.8 213.4L237.5 214.9L236.9 216.3L236.2 217.5L235.2 218.7L234.0 219.7L232.7 220.4L231.4 220.9L229.9 221.2Z"/>
<path fill="rgb(246, 236, 0)" d="M230.7 220.2L229.9 220.3L228.9 220.4L227.9 220.3L227.2 220.2L226.4 220.0L225.6 219.7L224.9 219.3L224.2 218.8L223.5 218.2L223.1 217.7L222.5 216.9L222.1 216.2L221.8 215.4L221.5 214.4L221.4 213.7L221.3 212.7L221.4 211.7L221.5 210.9L221.8 210.2L222.1 209.4L222.8 208.2L223.4 207.4L224.0 206.9L224.7 206.3L225.4 205.8L226.2 205.4L227.2 204.9L228.9 204.4L229.9 204.2L230.7 204.2L231.9 204.3L232.9 204.7L233.4 205.0L233.9 205.4L234.7 206.2L235.5 207.4L236.1 208.9L236.3 209.7L236.6 210.7L236.7 212.2L236.6 213.7L236.3 214.9L235.7 216.2L235.1 217.2L234.3 218.2L233.2 219.0L231.9 219.8L230.7 220.2Z"/>
<path fill="rgb(255, 199, 0)" d="M230.2 219.4L228.9 219.6L228.2 219.5L227.4 219.4L226.7 219.2L226.0 218.9L224.9 218.2L224.3 217.7L223.9 217.2L223.4 216.6L223.1 215.9L222.6 214.7L222.4 213.9L222.4 213.2L222.4 212.4L222.5 211.7L222.8 210.4L223.4 209.2L224.2 208.2L225.4 207.2L226.7 206.4L227.4 206.1L228.2 205.8L229.4 205.7L230.7 205.7L231.7 206.0L232.7 206.5L233.5 207.2L234.3 208.2L234.9 209.4L235.3 210.7L235.5 212.2L235.5 213.4L235.2 214.7L234.7 215.9L234.1 216.9L233.4 217.7L232.4 218.5L231.4 219.0L230.2 219.4Z"/>
<path fill="rgb(255, 155, 0)" d="M229.7 218.7L228.4 218.7L227.4 218.5L226.4 218.2L225.9 217.9L225.3 217.4L224.4 216.5L223.8 215.4L223.5 214.4L223.3 213.2L223.4 211.9L223.7 210.9L224.2 209.8L224.9 208.8L225.9 208.0L226.9 207.4L227.9 207.0L229.2 206.8L230.2 206.9L231.2 207.2L232.2 207.7L232.9 208.4L233.5 209.2L234.0 210.2L234.3 211.2L234.5 212.4L234.4 213.7L234.2 214.7L233.8 215.7L233.2 216.6L232.4 217.4L231.7 217.9L230.7 218.4L229.7 218.7Z"/>
<path fill="rgb(252, 93, 0)" d="M229.9 217.7L228.9 217.8L228.2 217.7L227.2 217.5L226.4 217.1L225.7 216.5L225.0 215.7L224.7 214.9L224.4 213.9L224.3 212.9L224.4 211.9L224.8 210.9L225.2 210.1L225.9 209.3L226.7 208.7L227.4 208.3L228.4 208.0L229.4 208.0L230.2 208.1L230.9 208.4L231.7 208.8L232.3 209.4L232.8 210.2L233.2 211.0L233.4 211.9L233.5 212.9L233.4 213.9L233.1 214.9L232.7 215.6L232.2 216.3L231.5 216.9L230.7 217.4L229.9 217.7Z"/>
<path fill="rgb(241, 28, 0)" d="M229.9 216.4L229.2 216.6L228.4 216.6L227.7 216.4L227.2 216.2L226.7 215.8L226.2 215.3L225.8 214.7L225.5 213.9L225.4 213.2L225.5 212.4L225.7 211.7L225.9 211.1L226.4 210.4L226.9 210.0L227.5 209.7L228.2 209.4L228.9 209.2L229.4 209.3L230.0 209.4L230.7 209.7L231.2 210.1L231.7 210.7L232.0 211.2L232.2 211.9L232.3 212.7L232.3 213.4L232.2 214.0L231.9 214.7L231.6 215.2L231.2 215.7L230.6 216.2L229.9 216.4Z"/></g></g>
<g fill="#d2d2d2"><circle cx="211.9" cy="176.3" r="0.55"/><circle cx="242.6" cy="175.1" r="0.55"/><circle cx="235.5" cy="169.8" r="0.55"/><circle cx="212.0" cy="168.1" r="0.55"/><circle cx="250.1" cy="170.9" r="0.55"/><circle cx="218.0" cy="169.5" r="0.55"/><circle cx="232.6" cy="173.5" r="0.55"/><circle cx="204.1" cy="173.4" r="0.55"/><circle cx="209.2" cy="178.2" r="0.55"/><circle cx="208.5" cy="179.7" r="0.55"/><circle cx="218.1" cy="177.8" r="0.55"/><circle cx="240.5" cy="167.8" r="0.55"/><circle cx="224.9" cy="173.7" r="0.55"/><circle cx="230.3" cy="170.6" r="0.55"/><circle cx="236.6" cy="172.4" r="0.55"/><circle cx="254.7" cy="175.2" r="0.55"/><circle cx="242.0" cy="174.3" r="0.55"/><circle cx="246.3" cy="174.1" r="0.55"/><circle cx="230.8" cy="172.7" r="0.55"/></g>
<rect x="161.2" y="142.9" width="99.3" height="98.5" fill="none" stroke="#8c8c8c" stroke-width="1.1"/>
<path d="M159.7 200.1H260.5M184.1 142.9V241.4" stroke="#333" stroke-width="1.15" fill="none"/>
<text x="256.2" y="156.4" font-size="12" text-anchor="end" font-weight="normal" fill="#111" stroke="#111" >27.6</text>
<path d="M274.3 152.2H276.9M274.3 174.9H276.9M274.3 200.1H276.9M274.3 221.9H276.9M275.7 168.1H276.9M275.7 164.1H276.9M275.7 161.2H276.9M275.7 159.0H276.9M275.7 157.2H276.9M275.7 155.7H276.9M275.7 154.4H276.9M275.7 153.2H276.9M275.7 192.5H276.9M275.7 188.1H276.9M275.7 184.9H276.9M275.7 182.5H276.9M275.7 180.5H276.9M275.7 178.8H276.9M275.7 177.3H276.9M275.7 176.1H276.9M275.7 202.5H276.9M275.7 204.9H276.9M275.7 207.4H276.9M275.7 209.8H276.9M275.7 212.2H276.9M275.7 214.6H276.9M275.7 217.1H276.9M275.7 219.5H276.9M275.7 224.3H276.9M275.7 226.8H276.9M275.7 229.2H276.9M275.7 231.7H276.9M275.7 234.1H276.9M275.7 236.5H276.9M275.7 239.0H276.9M298.8 241.4V243.6M319.9 241.4V243.6M345.2 241.4V243.6M367.4 241.4V243.6M327.5 241.4V242.6M332.0 241.4V242.6M335.1 241.4V242.6M337.6 241.4V242.6M339.6 241.4V242.6M341.3 241.4V242.6M342.7 241.4V242.6M344.0 241.4V242.6M351.9 241.4V242.6M355.8 241.4V242.6M358.6 241.4V242.6M360.7 241.4V242.6M362.5 241.4V242.6M364.0 241.4V242.6M365.2 241.4V242.6M366.4 241.4V242.6M279.3 241.4V242.6M281.8 241.4V242.6M284.2 241.4V242.6M286.6 241.4V242.6M289.1 241.4V242.6M291.5 241.4V242.6M293.9 241.4V242.6M296.4 241.4V242.6M301.8 241.4V242.6M304.8 241.4V242.6M307.8 241.4V242.6M310.9 241.4V242.6M313.9 241.4V242.6M316.9 241.4V242.6" stroke="#777" stroke-width="0.7" fill="none"/>
<path d="M274.9 218.5h2v7.2h-2v-1.4h1v-1.3h-1.2v-1.5h1.2v-1.5h-1z" fill="#222"/>
<path d="M292.6 241.4h6.4v2.2h-1.4v-1h-1.2v1.2h-1.6v-1.2h-1.2v1h-1z" fill="#222"/>
<text x="0" y="0" font-size="4.3" fill="#555" stroke="#555" transform="translate(271.4 154.8) rotate(-90)">10<tspan dy="-1.6" font-size="3.2">5</tspan></text>
<text x="0" y="0" font-size="4.3" fill="#555" stroke="#555" transform="translate(271.4 177.5) rotate(-90)">10<tspan dy="-1.6" font-size="3.2">4</tspan></text>
<text x="0" y="0" font-size="4.3" fill="#555" stroke="#555" transform="translate(271.4 202.7) rotate(-90)">10<tspan dy="-1.6" font-size="3.2">3</tspan></text>
<text x="0" y="0" font-size="4.3" fill="#666" stroke="#666" transform="translate(271.4 223.1) rotate(-90)">0</text>
<text x="296.9" y="253.4" font-size="4.2" fill="#555" stroke="#555" text-anchor="middle">0</text>
<text x="318.9" y="253.4" font-size="4.2" fill="#555" stroke="#555" text-anchor="middle">10</text>
<text x="321.3" y="250.4" font-size="3.3" fill="#555" stroke="#555">3</text>
<text x="344.2" y="253.4" font-size="4.2" fill="#555" stroke="#555" text-anchor="middle">10</text>
<text x="346.6" y="250.4" font-size="3.3" fill="#555" stroke="#555">4</text>
<text x="366.4" y="253.4" font-size="4.2" fill="#555" stroke="#555" text-anchor="middle">10</text>
<text x="368.8" y="250.4" font-size="3.3" fill="#555" stroke="#555">5</text>
<clipPath id="c12"><rect x="276.9" y="142.9" width="99.40000000000003" height="98.5"/></clipPath>
<g clip-path="url(#c12)"><g filter="url(#bl)"><ellipse cx="339.6" cy="241.6" rx="6.3" ry="3.3" fill="rgb(0,20,240)"/><ellipse cx="339.8" cy="241.8" rx="3.2" ry="1.6" fill="rgb(0,90,255)"/><path fill="rgb(0, 0, 165)" d="M345.1 236.9L343.1 237.1L341.4 237.0L340.4 236.9L339.3 236.7L337.8 236.2L336.9 235.7L336.1 235.2L334.5 233.9L333.6 233.0L332.9 232.2L331.9 230.7L331.4 229.7L330.9 228.4L330.1 225.9L329.6 223.7L329.1 220.7L329.0 219.4L328.8 218.2L328.6 214.2L328.6 210.9L328.8 208.2L329.3 204.4L330.3 199.7L330.6 197.9L330.7 195.2L330.8 191.2L330.9 187.9L331.1 185.7L331.4 184.6L331.6 183.9L332.4 182.4L333.6 180.6L334.1 180.0L334.7 179.4L335.6 178.7L336.1 178.4L337.4 177.8L337.9 177.5L338.5 176.9L340.1 175.2L341.2 174.4L342.2 173.9L343.4 173.4L346.1 172.4L350.4 171.2L351.4 171.1L351.7 171.2L352.5 171.4L353.3 171.9L353.6 172.3L354.1 172.9L354.6 173.8L355.1 175.5L355.7 178.4L356.6 182.2L356.9 183.7L357.0 184.7L356.9 186.4L356.7 189.4L356.5 190.7L356.2 194.9L356.0 196.4L355.9 199.7L356.0 202.7L356.2 204.2L356.3 205.7L356.4 207.2L356.5 209.9L356.7 212.2L356.8 215.7L356.7 217.9L356.6 218.7L356.5 219.9L356.3 220.7L356.3 221.4L356.1 221.9L356.0 222.7L355.8 223.2L355.8 223.7L355.6 224.2L355.5 224.7L355.3 225.2L355.2 225.7L354.2 228.7L353.4 230.4L352.7 231.7L352.2 232.4L351.1 233.6L350.3 234.4L349.3 235.2L348.5 235.7L347.5 236.2L346.2 236.7L345.1 236.9Z"/>
<path fill="rgb(0, 22, 245)" d="M344.6 235.9L342.9 236.0L340.9 235.9L339.4 235.6L337.9 235.0L336.4 234.1L334.9 232.9L333.6 231.7L332.6 230.3L331.6 228.4L330.9 226.5L330.1 223.9L329.7 221.4L329.3 218.4L329.1 215.4L329.0 212.9L329.2 210.2L329.4 208.2L330.0 204.7L331.3 199.2L331.6 197.2L331.8 194.9L332.2 187.9L332.4 186.2L332.8 184.7L333.5 183.2L334.6 181.4L335.4 180.4L336.4 179.5L337.6 178.8L338.4 178.3L338.9 177.8L340.6 175.9L341.6 175.1L342.4 174.7L343.6 174.2L345.9 173.3L347.4 172.9L349.6 172.3L350.6 172.2L351.1 172.1L351.9 172.3L352.6 172.8L353.2 173.4L353.5 173.9L353.7 174.4L354.3 176.2L355.7 181.9L356.0 183.9L356.1 185.4L356.1 187.2L355.4 195.9L355.3 197.9L355.3 199.7L355.4 201.7L355.9 206.6L356.4 212.8L356.5 215.7L356.4 217.9L356.1 219.8L355.9 221.3L355.4 223.4L354.9 225.2L354.3 226.9L353.6 228.5L353.1 229.5L352.5 230.7L351.6 231.7L350.8 232.7L349.9 233.5L348.9 234.2L347.9 234.8L346.6 235.4L345.6 235.7L344.6 235.9Z"/>
<path fill="rgb(0, 54, 250)" d="M344.9 234.7L343.6 234.8L341.6 234.8L339.9 234.5L339.1 234.3L338.4 234.0L336.9 233.1L335.1 231.7L334.1 230.7L333.2 229.4L332.2 227.7L331.5 225.9L330.8 223.7L330.3 221.4L329.9 218.9L329.7 216.4L329.6 213.9L329.8 211.2L330.1 208.7L330.7 205.4L331.1 203.7L332.4 199.2L332.8 197.2L333.1 194.7L333.7 187.4L333.9 185.9L334.3 184.7L334.9 183.4L335.8 181.9L336.4 181.2L337.1 180.5L338.1 179.8L338.9 179.2L341.1 176.7L342.1 175.9L342.9 175.4L343.9 175.0L346.1 174.2L348.1 173.8L350.1 173.4L351.1 173.4L351.6 173.6L352.0 173.9L352.4 174.4L352.7 175.2L353.2 176.7L354.6 181.4L354.9 182.7L355.1 184.2L355.2 185.4L355.2 187.2L354.6 196.9L354.5 199.9L354.7 202.7L355.3 207.4L355.9 212.9L356.1 215.7L356.0 217.9L355.5 220.7L355.1 222.4L354.6 224.2L354.0 225.9L353.4 227.3L352.9 228.4L352.1 229.6L351.4 230.6L350.6 231.5L349.9 232.2L348.9 233.0L347.9 233.6L346.9 234.1L345.9 234.4L344.9 234.7Z"/>
<path fill="rgb(0, 87, 255)" d="M344.9 233.7L343.6 233.8L341.9 233.8L340.1 233.5L338.9 233.1L337.4 232.3L335.9 231.2L334.8 230.2L333.9 229.0L332.9 227.3L332.1 225.4L331.3 223.2L330.8 221.2L330.5 218.9L330.2 216.4L330.2 214.2L330.3 211.9L330.7 209.2L331.5 205.7L332.0 203.9L333.4 199.4L333.9 197.2L334.2 194.9L334.6 190.1L335.1 186.4L335.4 184.9L336.0 183.7L336.8 182.4L337.4 181.7L339.1 180.2L341.5 177.4L342.1 176.9L342.6 176.5L343.4 176.1L344.4 175.7L346.4 175.0L348.1 174.7L350.9 174.5L351.1 174.5L351.5 174.9L351.9 175.7L352.3 176.9L353.8 181.9L354.2 183.4L354.4 184.7L354.4 186.2L354.4 188.2L353.8 196.9L353.7 199.9L353.9 202.7L355.0 209.7L355.5 213.4L355.6 215.7L355.5 217.9L355.3 219.4L355.0 220.7L354.6 222.2L354.2 223.7L353.7 224.9L353.1 226.4L352.6 227.4L351.8 228.7L351.1 229.7L350.3 230.7L349.4 231.5L348.6 232.0L347.6 232.7L346.9 233.0L345.9 233.4L344.9 233.7Z"/>
<path fill="rgb(0, 128, 255)" d="M345.1 232.7L343.6 232.8L341.9 232.8L340.1 232.5L338.9 232.1L337.9 231.7L337.1 231.2L336.4 230.6L335.4 229.7L334.6 228.7L333.6 227.2L332.8 225.4L332.1 223.7L331.5 221.7L331.1 219.4L330.8 217.2L330.7 215.2L330.8 212.9L331.0 211.2L331.3 209.7L332.3 205.4L334.1 199.9L335.1 197.7L335.7 195.9L336.1 193.4L336.6 187.9L336.8 186.4L337.2 184.9L337.9 183.2L339.0 181.4L339.9 180.4L341.9 178.0L342.4 177.5L342.9 177.1L343.6 176.7L344.4 176.4L346.1 175.8L347.9 175.5L349.6 175.5L350.6 175.8L351.2 176.7L351.6 177.4L352.3 179.2L353.0 181.4L353.4 182.9L353.6 184.2L353.7 185.7L353.7 187.9L353.5 192.4L353.1 197.7L353.0 199.2L353.1 200.7L353.3 203.4L354.5 210.4L355.0 213.4L355.2 215.7L355.1 217.4L355.0 218.7L354.7 219.9L354.4 221.4L353.9 222.9L353.3 224.4L352.8 225.7L352.1 226.9L351.5 227.9L350.8 228.9L350.1 229.7L349.4 230.5L348.6 231.2L347.6 231.8L346.9 232.2L346.4 232.4L345.1 232.7Z"/>
<path fill="rgb(0, 169, 255)" d="M344.9 231.4L343.6 231.6L342.1 231.5L340.6 231.3L339.6 231.0L338.4 230.5L336.9 229.7L335.9 228.9L334.9 228.0L334.1 226.7L333.3 225.2L332.7 223.7L332.2 221.9L331.7 219.9L331.4 217.9L331.3 216.2L331.3 214.2L331.4 212.2L331.8 210.2L332.3 207.9L333.1 205.0L333.4 204.4L335.9 199.9L336.6 198.4L337.0 197.2L337.2 195.9L337.4 194.4L337.8 188.9L338.1 186.9L338.3 185.9L338.9 184.2L340.9 180.2L341.8 178.9L342.6 178.0L343.6 177.3L344.9 176.8L346.4 176.4L347.1 176.3L348.1 176.4L349.1 176.7L349.9 176.9L350.1 177.2L351.1 178.7L351.9 180.2L352.4 181.7L352.9 183.7L353.1 185.7L353.1 187.9L352.9 192.2L352.4 197.9L352.4 199.7L352.4 200.9L352.7 203.7L354.5 213.4L354.7 215.2L354.7 216.7L354.6 217.9L354.4 219.2L354.2 220.4L353.7 221.9L353.1 223.7L352.5 224.9L351.9 226.2L351.1 227.4L350.0 228.9L349.6 229.3L349.1 229.7L348.1 230.3L347.1 230.8L346.1 231.1L344.9 231.4Z"/>
<path fill="rgb(0, 203, 247)" d="M344.1 230.4L342.6 230.5L341.1 230.3L340.1 230.0L338.9 229.5L337.4 228.7L336.4 227.9L335.1 226.7L334.1 225.5L333.6 224.6L333.1 223.2L332.7 221.9L332.3 220.2L332.0 218.7L331.8 217.2L331.7 215.7L331.7 214.2L331.8 212.9L332.1 211.2L332.6 209.2L332.9 208.1L334.3 205.4L337.0 200.9L337.6 199.6L338.1 198.2L338.5 196.7L338.7 195.2L339.0 189.4L339.2 186.9L339.6 185.2L341.0 181.7L341.5 180.4L342.0 179.7L342.6 178.8L343.4 178.2L344.1 177.7L345.1 177.4L345.9 177.2L346.9 177.2L347.9 177.3L348.6 177.5L349.4 177.8L349.7 178.2L350.5 179.2L351.1 180.4L351.6 181.7L351.9 183.2L352.1 184.4L352.3 186.2L352.4 188.2L352.4 190.2L352.2 193.2L351.6 198.7L351.6 199.9L351.6 200.9L351.9 202.7L352.4 204.9L354.1 213.2L354.3 215.2L354.3 216.9L354.2 218.2L354.0 219.4L353.7 220.4L353.2 221.9L352.1 224.7L351.4 225.9L350.6 227.1L350.4 227.4L349.4 228.2L348.4 228.9L347.6 229.3L346.6 229.8L345.9 230.0L344.9 230.3L344.1 230.4Z"/>
<path fill="rgb(0, 233, 236)" d="M343.9 229.4L342.6 229.4L341.1 229.2L340.1 228.9L338.9 228.4L337.9 227.8L336.9 227.0L335.9 226.0L334.9 224.9L334.1 223.7L333.4 222.5L332.9 220.8L332.5 219.2L332.3 217.4L332.1 215.7L332.2 214.2L332.3 212.9L332.4 211.9L332.6 211.0L333.2 209.7L334.1 207.9L335.1 206.2L338.3 201.4L338.9 200.2L339.4 198.9L339.6 197.7L339.8 196.2L340.0 190.7L340.2 187.4L340.4 186.2L341.2 182.9L341.7 181.4L342.1 180.7L342.6 179.8L343.2 179.2L343.8 178.7L344.4 178.3L345.1 178.0L346.1 177.8L346.9 177.8L347.9 178.0L348.6 178.3L348.9 178.4L349.4 178.9L350.0 179.7L350.5 180.7L350.9 181.7L351.1 182.7L351.3 183.9L351.4 185.4L351.5 188.4L351.5 190.4L351.3 193.4L350.5 198.7L350.4 199.9L350.4 201.2L350.6 202.4L350.9 203.7L351.5 205.4L352.4 207.8L352.6 208.7L353.5 212.2L353.9 214.7L354.0 215.7L354.0 216.9L353.8 218.7L353.2 220.7L352.2 223.2L351.5 224.7L351.1 225.3L350.3 226.2L349.4 226.9L348.4 227.7L347.6 228.1L346.6 228.6L345.6 229.0L344.6 229.3L343.9 229.4Z"/>
<path fill="rgb(9, 239, 172)" d="M343.9 228.4L342.9 228.4L341.6 228.3L340.6 228.0L339.6 227.6L338.6 227.1L337.7 226.4L336.9 225.7L336.0 224.7L335.1 223.6L334.4 222.4L333.7 220.9L333.2 219.7L332.9 218.7L332.6 217.3L332.6 216.2L332.6 214.7L332.7 213.7L333.0 212.4L333.5 211.2L334.1 209.9L334.9 208.5L336.1 206.6L339.5 201.9L340.2 200.7L340.7 199.4L341.0 198.2L341.1 196.9L341.0 191.2L341.1 187.7L341.8 183.2L342.1 182.2L342.3 181.4L342.7 180.7L343.0 180.2L343.4 179.7L344.0 179.2L344.6 178.8L345.1 178.6L345.9 178.4L346.6 178.4L347.4 178.5L347.9 178.6L348.6 179.0L348.9 179.2L349.4 179.9L349.9 180.7L350.2 181.4L350.4 182.4L350.6 183.4L350.6 184.4L350.6 189.4L350.6 191.2L350.2 193.9L349.2 198.9L349.1 200.2L349.2 201.4L349.4 202.9L350.0 204.7L351.3 207.9L352.6 210.7L353.2 212.7L353.5 214.2L353.6 215.4L353.7 216.7L353.5 218.4L353.0 220.2L352.5 221.4L351.9 222.8L351.4 223.5L350.4 224.7L349.6 225.4L348.6 226.3L347.8 226.9L346.9 227.4L345.9 227.9L344.9 228.2L343.9 228.4Z"/>
<path fill="rgb(18, 244, 105)" d="M343.6 227.4L342.6 227.4L341.6 227.3L340.6 227.0L339.9 226.6L339.1 226.2L338.1 225.5L337.4 224.8L336.6 223.9L335.8 222.9L335.0 221.7L334.4 220.4L333.9 219.3L333.5 218.2L333.3 217.2L333.2 216.2L333.2 214.9L333.4 213.7L333.7 212.4L334.3 211.2L335.0 209.9L336.1 208.3L337.6 206.3L341.5 201.9L342.1 200.9L342.5 200.2L342.7 199.2L342.8 197.9L342.2 192.9L342.1 190.4L342.4 183.9L342.5 182.7L342.7 181.9L343.0 181.2L343.4 180.5L343.9 179.9L344.4 179.5L345.1 179.1L345.9 178.9L346.6 178.9L347.4 179.0L348.1 179.3L348.4 179.5L348.9 180.0L349.4 180.9L349.7 181.7L349.9 182.4L350.0 183.4L350.0 184.7L349.7 187.4L349.7 190.4L349.5 191.9L349.3 193.2L349.0 194.4L348.0 197.9L347.7 199.2L347.5 200.4L347.6 201.7L348.0 203.2L349.0 205.4L350.7 208.9L352.6 212.3L352.9 213.2L353.2 214.7L353.3 215.7L353.3 216.9L353.2 217.9L353.0 218.9L352.4 220.8L352.1 221.3L351.9 221.6L350.6 223.1L348.9 224.8L347.9 225.6L347.1 226.1L346.2 226.7L345.4 227.0L344.4 227.3L343.6 227.4Z"/>
<path fill="rgb(74, 245, 57)" d="M345.9 196.5L345.6 196.6L345.4 196.5L345.1 196.4L344.9 196.2L344.6 195.8L344.1 194.7L343.8 193.4L343.5 191.4L343.3 187.7L343.0 184.7L343.0 183.4L343.1 182.4L343.3 181.7L343.6 180.9L344.1 180.4L344.6 179.9L345.1 179.6L345.6 179.5L346.4 179.4L347.1 179.5L347.6 179.7L348.1 179.9L348.5 180.4L349.0 181.2L349.3 181.9L349.4 182.7L349.4 183.7L349.3 184.9L348.8 187.4L348.5 190.9L348.1 192.8L347.6 194.2L347.1 195.2L346.9 195.6L346.4 196.2L345.9 196.5ZM344.4 226.2L343.4 226.3L342.6 226.3L341.9 226.2L340.9 225.9L339.9 225.4L339.1 225.0L338.4 224.4L337.7 223.7L336.9 222.8L336.1 221.8L335.4 220.6L334.8 219.4L334.4 218.4L334.1 217.4L333.9 216.4L333.8 215.4L333.9 214.7L334.0 213.7L334.3 212.9L334.6 212.2L335.4 210.7L336.9 208.8L338.9 206.6L340.6 205.1L341.4 204.5L343.1 203.5L344.1 202.9L344.6 202.8L345.1 202.9L345.6 203.2L346.1 203.7L346.6 204.2L347.9 206.1L349.9 209.4L351.9 212.3L352.5 213.4L352.9 214.4L353.0 215.4L353.0 216.4L352.9 217.7L352.6 219.1L352.4 219.7L352.1 220.1L351.1 221.5L349.6 223.0L347.6 224.6L346.6 225.2L345.9 225.6L345.1 225.9L344.4 226.2Z"/>
<path fill="rgb(144, 245, 16)" d="M346.1 191.0L345.9 191.1L345.7 190.9L345.5 190.4L345.0 188.2L344.1 186.1L343.7 184.9L343.5 183.9L343.5 183.2L343.6 182.4L343.7 181.9L344.1 181.2L344.4 180.7L344.8 180.4L345.2 180.2L345.9 179.9L346.4 179.9L346.9 180.0L347.4 180.1L347.9 180.4L348.1 180.7L348.4 181.2L348.7 181.9L348.9 182.4L348.9 183.2L348.8 183.9L348.6 184.9L348.1 186.0L347.3 187.9L347.0 188.7L346.6 190.4L346.4 190.8L346.1 191.0ZM344.4 224.9L343.6 225.1L342.9 225.1L342.1 225.0L341.4 224.8L340.6 224.5L339.9 224.1L339.1 223.6L338.4 222.9L337.4 221.9L336.6 220.9L335.9 219.8L335.4 219.0L335.0 218.2L334.7 217.2L334.5 216.2L334.5 215.4L334.5 214.7L334.6 213.9L334.9 213.2L335.2 212.4L335.6 211.7L336.1 210.9L337.4 209.5L338.4 208.5L339.4 207.7L340.9 206.7L341.9 206.3L342.9 205.9L343.6 205.7L344.4 205.6L344.9 205.7L345.4 205.9L345.9 206.2L346.6 206.8L350.9 211.9L351.6 213.0L352.2 214.2L352.6 215.4L352.7 216.4L352.6 217.7L352.2 218.9L351.6 219.9L350.6 221.1L349.4 222.2L347.4 223.6L345.9 224.4L345.1 224.7L344.4 224.9Z"/>
<path fill="rgb(199, 242, 0)" d="M346.4 186.2L346.1 186.2L345.6 186.1L345.4 186.0L344.9 185.5L344.5 184.9L344.3 184.4L344.1 183.9L344.0 183.2L344.1 182.7L344.2 182.2L344.4 181.7L344.6 181.2L344.9 180.9L345.3 180.7L345.6 180.5L346.1 180.4L346.9 180.5L347.3 180.7L347.6 180.9L348.1 181.7L348.3 182.2L348.4 182.7L348.3 183.7L348.1 184.2L347.9 184.8L347.6 185.2L347.1 185.7L346.6 186.1L346.4 186.2ZM344.1 223.7L343.4 223.7L342.6 223.6L341.9 223.5L341.1 223.3L339.9 222.7L339.1 222.1L338.4 221.5L337.6 220.7L336.9 219.9L336.4 219.2L335.9 218.4L335.6 217.7L335.3 216.9L335.1 216.2L335.1 215.4L335.1 214.7L335.3 213.9L335.8 212.7L336.1 212.0L336.6 211.4L337.6 210.3L338.9 209.4L340.4 208.5L342.1 207.9L342.9 207.8L343.6 207.7L344.4 207.7L344.9 207.8L345.4 208.0L345.9 208.3L347.1 209.3L349.9 211.7L350.9 212.9L351.6 214.2L352.0 215.2L352.1 216.4L352.0 217.7L351.8 218.4L351.5 218.9L350.9 219.9L349.9 220.9L348.6 221.9L347.1 222.7L345.6 223.3L344.9 223.5L344.1 223.7Z"/>
<path fill="rgb(246, 236, 0)" d="M346.4 184.9L345.9 184.9L345.4 184.6L345.1 184.4L344.9 184.0L344.7 183.2L344.7 182.4L344.9 181.9L345.0 181.7L345.3 181.4L345.6 181.2L346.1 181.0L346.6 181.1L346.9 181.1L347.3 181.4L347.6 181.9L347.8 182.7L347.7 183.4L347.4 184.1L346.9 184.7L346.4 184.9ZM345.9 222.2L344.6 222.4L343.6 222.3L341.9 222.0L340.6 221.6L339.6 221.1L338.4 220.2L337.4 219.2L336.6 218.2L336.1 217.2L335.8 216.2L335.7 215.2L335.8 214.2L336.2 213.2L336.9 212.2L337.6 211.3L338.6 210.6L339.4 210.2L340.1 209.8L341.6 209.5L342.6 209.4L343.4 209.4L344.9 209.6L345.6 209.8L346.6 210.3L348.4 211.4L349.6 212.4L350.1 212.9L350.7 213.7L351.1 214.4L351.3 214.9L351.5 215.7L351.6 216.4L351.5 217.2L351.4 217.7L351.1 218.4L350.9 218.9L350.1 219.9L349.6 220.4L348.9 220.9L348.1 221.4L347.4 221.7L345.9 222.2Z"/>
<path fill="rgb(255, 199, 0)" d="M346.4 183.7L346.1 183.7L345.9 183.6L345.6 183.3L345.5 182.9L345.5 182.7L345.6 182.2L345.9 182.0L346.1 181.9L346.4 181.9L346.6 182.0L346.8 182.2L347.0 182.4L347.0 182.7L346.9 183.2L346.6 183.5L346.4 183.7ZM346.4 221.2L345.4 221.3L344.4 221.3L343.1 221.0L340.9 220.3L339.9 219.9L339.1 219.5L338.4 219.0L337.7 218.4L337.1 217.7L336.7 216.9L336.5 216.2L336.4 215.4L336.4 214.7L336.6 213.8L337.1 212.9L337.6 212.3L338.1 211.9L338.9 211.4L339.4 211.1L340.1 210.9L341.6 210.7L343.4 210.7L345.1 210.9L346.6 211.3L347.4 211.7L348.1 212.1L348.9 212.6L349.5 213.2L350.3 214.2L350.6 214.9L350.8 215.4L350.9 215.9L350.9 216.7L350.8 217.4L350.7 217.9L350.1 218.9L349.6 219.5L349.1 220.0L348.6 220.3L347.9 220.7L347.1 221.0L346.4 221.2Z"/>
<path fill="rgb(255, 155, 0)" d="M346.1 220.4L345.2 220.4L344.4 220.3L340.4 219.0L339.4 218.6L338.4 217.9L337.9 217.4L337.5 216.9L337.3 216.4L337.1 215.7L337.1 214.9L337.2 214.4L337.5 213.7L337.9 213.1L338.6 212.5L339.1 212.2L339.6 212.0L340.4 211.8L341.6 211.7L344.9 211.9L346.1 212.1L346.9 212.3L347.6 212.6L348.1 212.9L348.8 213.4L349.3 213.9L349.6 214.4L349.9 214.9L350.1 215.4L350.2 215.9L350.2 216.7L350.0 217.7L349.8 218.2L349.5 218.7L349.1 219.1L348.6 219.5L348.1 219.8L347.4 220.1L346.9 220.3L346.1 220.4Z"/>
<path fill="rgb(252, 93, 0)" d="M346.9 219.5L345.9 219.6L344.9 219.4L342.1 218.4L340.1 217.8L339.3 217.4L338.9 217.1L338.5 216.7L338.0 215.9L337.9 215.4L338.0 214.9L338.2 214.2L338.6 213.7L339.1 213.2L339.9 212.9L340.6 212.8L345.6 212.9L346.6 213.1L347.6 213.5L348.5 214.2L349.0 214.9L349.2 215.4L349.3 215.9L349.4 216.4L349.3 216.9L349.1 217.7L348.6 218.4L347.9 219.0L347.4 219.3L346.9 219.5Z"/>
<path fill="rgb(241, 28, 0)" d="M346.6 218.5L345.9 218.5L345.1 218.4L344.5 218.2L342.4 217.1L340.1 216.4L339.6 216.0L339.4 215.7L339.3 215.2L339.4 214.7L339.6 214.4L339.9 214.3L340.1 214.1L340.6 214.1L342.9 214.1L345.4 213.9L346.1 214.0L346.9 214.2L347.5 214.7L347.9 215.2L348.1 215.7L348.2 216.4L348.0 217.2L347.8 217.7L347.3 218.2L346.6 218.5Z"/></g></g>
<g fill="#d2d2d2"><circle cx="328.3" cy="172.9" r="0.55"/><circle cx="340.0" cy="170.7" r="0.55"/><circle cx="340.1" cy="158.8" r="0.55"/><circle cx="337.8" cy="163.6" r="0.55"/><circle cx="329.0" cy="170.3" r="0.55"/><circle cx="349.4" cy="167.3" r="0.55"/><circle cx="354.2" cy="158.3" r="0.55"/><circle cx="360.1" cy="169.0" r="0.55"/><circle cx="356.4" cy="168.8" r="0.55"/><circle cx="337.5" cy="167.2" r="0.55"/><circle cx="363.4" cy="167.6" r="0.55"/><circle cx="338.4" cy="174.8" r="0.55"/><circle cx="367.0" cy="173.2" r="0.55"/><circle cx="350.8" cy="168.9" r="0.55"/><circle cx="348.5" cy="169.2" r="0.55"/><circle cx="338.5" cy="171.3" r="0.55"/><circle cx="341.7" cy="172.2" r="0.55"/><circle cx="351.5" cy="160.4" r="0.55"/><circle cx="334.3" cy="169.5" r="0.55"/><circle cx="333.4" cy="169.2" r="0.55"/><circle cx="340.9" cy="173.5" r="0.55"/><circle cx="338.9" cy="151.7" r="0.55"/><circle cx="357.4" cy="173.0" r="0.55"/><circle cx="336.9" cy="168.3" r="0.55"/><circle cx="337.3" cy="162.5" r="0.55"/><circle cx="348.3" cy="170.7" r="0.55"/><circle cx="335.0" cy="166.8" r="0.55"/><circle cx="347.1" cy="165.1" r="0.55"/></g>
<rect x="276.9" y="142.9" width="99.4" height="98.5" fill="none" stroke="#8c8c8c" stroke-width="1.1"/>
<path d="M275.4 200.1H376.3M298.8 142.9V241.4" stroke="#333" stroke-width="1.15" fill="none"/>
<text x="372.0" y="156.4" font-size="12" text-anchor="end" font-weight="normal" fill="#111" stroke="#111" >35.1</text>
<path d="M389.7 152.2H392.3M389.7 174.9H392.3M389.7 200.1H392.3M389.7 221.9H392.3M391.1 168.1H392.3M391.1 164.1H392.3M391.1 161.2H392.3M391.1 159.0H392.3M391.1 157.2H392.3M391.1 155.7H392.3M391.1 154.4H392.3M391.1 153.2H392.3M391.1 192.5H392.3M391.1 188.1H392.3M391.1 184.9H392.3M391.1 182.5H392.3M391.1 180.5H392.3M391.1 178.8H392.3M391.1 177.3H392.3M391.1 176.1H392.3M391.1 202.5H392.3M391.1 204.9H392.3M391.1 207.4H392.3M391.1 209.8H392.3M391.1 212.2H392.3M391.1 214.6H392.3M391.1 217.1H392.3M391.1 219.5H392.3M391.1 224.3H392.3M391.1 226.8H392.3M391.1 229.2H392.3M391.1 231.7H392.3M391.1 234.1H392.3M391.1 236.5H392.3M391.1 239.0H392.3M413.9 241.4V243.6M435.3 241.4V243.6M460.6 241.4V243.6M482.8 241.4V243.6M442.9 241.4V242.6M447.4 241.4V242.6M450.5 241.4V242.6M453.0 241.4V242.6M455.0 241.4V242.6M456.7 241.4V242.6M458.1 241.4V242.6M459.4 241.4V242.6M467.3 241.4V242.6M471.2 241.4V242.6M474.0 241.4V242.6M476.1 241.4V242.6M477.9 241.4V242.6M479.4 241.4V242.6M480.6 241.4V242.6M481.8 241.4V242.6M394.7 241.4V242.6M397.1 241.4V242.6M399.5 241.4V242.6M401.9 241.4V242.6M404.3 241.4V242.6M406.7 241.4V242.6M409.1 241.4V242.6M411.5 241.4V242.6M417.0 241.4V242.6M420.0 241.4V242.6M423.1 241.4V242.6M426.1 241.4V242.6M429.2 241.4V242.6M432.2 241.4V242.6" stroke="#777" stroke-width="0.7" fill="none"/>
<path d="M390.3 218.5h2v7.2h-2v-1.4h1v-1.3h-1.2v-1.5h1.2v-1.5h-1z" fill="#222"/>
<path d="M407.7 241.4h6.4v2.2h-1.4v-1h-1.2v1.2h-1.6v-1.2h-1.2v1h-1z" fill="#222"/>
<text x="0" y="0" font-size="4.3" fill="#555" stroke="#555" transform="translate(386.8 154.8) rotate(-90)">10<tspan dy="-1.6" font-size="3.2">5</tspan></text>
<text x="0" y="0" font-size="4.3" fill="#555" stroke="#555" transform="translate(386.8 177.5) rotate(-90)">10<tspan dy="-1.6" font-size="3.2">4</tspan></text>
<text x="0" y="0" font-size="4.3" fill="#555" stroke="#555" transform="translate(386.8 202.7) rotate(-90)">10<tspan dy="-1.6" font-size="3.2">3</tspan></text>
<text x="0" y="0" font-size="4.3" fill="#666" stroke="#666" transform="translate(386.8 223.1) rotate(-90)">0</text>
<text x="412.0" y="253.4" font-size="4.2" fill="#555" stroke="#555" text-anchor="middle">0</text>
<text x="434.3" y="253.4" font-size="4.2" fill="#555" stroke="#555" text-anchor="middle">10</text>
<text x="436.7" y="250.4" font-size="3.3" fill="#555" stroke="#555">3</text>
<text x="459.6" y="253.4" font-size="4.2" fill="#555" stroke="#555" text-anchor="middle">10</text>
<text x="462.0" y="250.4" font-size="3.3" fill="#555" stroke="#555">4</text>
<text x="481.8" y="253.4" font-size="4.2" fill="#555" stroke="#555" text-anchor="middle">10</text>
<text x="484.2" y="250.4" font-size="3.3" fill="#555" stroke="#555">5</text>
<clipPath id="c13"><rect x="392.3" y="142.9" width="99.19999999999999" height="98.5"/></clipPath>
<g clip-path="url(#c13)"><g filter="url(#bl)"><path fill="rgb(0, 0, 165)" d="M461.1 236.4L459.6 236.4L458.7 236.2L457.7 235.7L455.6 234.4L453.6 233.2L452.1 231.9L450.6 230.4L449.8 229.3L449.3 228.3L448.8 226.9L448.3 225.4L447.8 223.2L447.5 221.7L447.3 219.7L447.1 217.7L447.1 215.4L447.3 213.4L447.5 211.9L447.8 210.8L448.1 209.9L448.6 208.6L448.9 207.9L449.3 207.4L450.1 206.7L450.9 206.2L453.4 204.9L454.6 204.4L456.3 203.9L457.6 203.7L459.1 203.5L460.8 203.4L463.6 203.4L468.1 203.7L469.8 203.9L471.2 204.2L473.0 204.7L475.0 205.4L476.0 205.9L476.8 206.4L477.6 207.2L478.3 208.0L478.8 208.9L479.3 209.9L479.8 211.3L480.3 213.2L480.6 214.4L480.8 216.7L481.0 218.9L481.0 220.2L480.8 221.9L480.6 223.4L480.1 225.2L479.6 226.5L478.8 227.9L478.3 228.6L477.8 229.2L477.1 229.9L476.2 230.7L475.1 231.4L472.9 232.7L469.8 234.2L468.6 234.7L467.1 235.2L464.3 235.9L463.0 236.2L461.1 236.4Z"/>
<path fill="rgb(0, 22, 245)" d="M462.8 235.2L461.6 235.3L460.1 235.4L459.3 235.2L458.5 234.9L455.3 233.1L453.3 231.7L452.1 230.7L451.4 229.9L450.6 228.7L450.1 227.7L449.6 226.7L449.0 224.9L448.4 222.2L448.0 219.2L448.0 216.9L448.0 215.2L448.4 212.9L448.9 210.7L449.3 209.7L449.8 208.6L450.3 208.0L451.0 207.4L452.1 206.8L454.6 205.6L455.8 205.1L457.1 204.8L458.3 204.6L460.1 204.4L462.1 204.3L464.3 204.3L466.8 204.5L468.8 204.7L470.6 205.0L472.1 205.4L473.6 205.9L474.8 206.5L475.6 206.9L476.3 207.4L476.9 207.9L477.6 208.9L478.1 209.7L478.7 211.2L479.2 212.7L479.7 214.7L480.0 216.7L480.1 218.2L480.2 219.9L480.1 221.2L479.8 223.2L479.3 224.7L479.0 225.7L478.6 226.6L478.1 227.4L477.6 228.1L477.1 228.7L476.3 229.4L475.6 230.0L474.6 230.7L473.5 231.4L471.6 232.4L468.6 233.7L467.3 234.1L465.6 234.6L462.8 235.2Z"/>
<path fill="rgb(0, 54, 250)" d="M462.3 234.2L460.8 234.3L459.8 234.2L458.3 233.5L456.1 232.3L454.6 231.3L453.7 230.7L452.8 229.9L452.1 229.2L451.7 228.7L451.0 227.4L450.4 226.2L450.2 225.4L449.6 223.4L449.1 220.7L448.9 218.4L448.9 216.4L449.2 214.2L449.7 211.9L450.3 210.2L450.7 209.4L451.1 208.9L451.8 208.3L452.8 207.7L454.6 206.8L455.8 206.3L457.3 205.8L459.1 205.5L460.8 205.3L462.6 205.3L464.6 205.3L467.1 205.5L468.8 205.8L470.3 206.0L471.8 206.4L473.3 207.0L474.3 207.4L475.3 208.0L476.0 208.7L476.5 209.2L477.1 210.2L477.6 211.2L478.0 212.2L478.5 213.7L478.9 215.4L479.1 216.9L479.2 218.4L479.3 219.9L479.2 221.2L478.9 222.7L478.6 223.9L478.2 225.2L477.4 226.7L476.9 227.4L476.3 228.1L475.1 229.2L474.1 229.9L473.1 230.6L470.8 231.7L468.1 232.9L466.8 233.3L465.1 233.7L462.3 234.2Z"/>
<path fill="rgb(0, 87, 255)" d="M463.3 233.2L462.1 233.3L460.3 233.4L460.1 233.4L459.3 233.0L457.1 231.9L455.1 230.6L453.5 229.4L452.8 228.7L452.3 227.9L451.5 226.4L450.8 224.7L450.2 222.4L449.9 220.4L449.8 218.2L449.8 216.4L450.0 214.4L450.4 212.7L450.9 211.4L451.3 210.4L451.7 209.7L452.1 209.3L453.1 208.6L455.1 207.6L456.3 207.1L457.3 206.8L458.6 206.5L460.1 206.3L461.8 206.1L463.6 206.1L465.8 206.3L467.8 206.5L469.3 206.7L470.8 207.1L472.1 207.5L473.3 208.0L474.1 208.3L474.8 208.8L475.3 209.2L475.9 209.9L476.4 210.7L476.9 211.7L477.5 213.2L477.9 214.7L478.2 216.2L478.4 217.9L478.5 219.4L478.4 220.9L478.3 221.9L477.9 223.4L477.3 225.2L476.8 226.2L476.2 226.9L475.8 227.4L475.1 228.2L473.6 229.3L471.3 230.6L468.6 231.8L467.3 232.3L465.8 232.7L463.3 233.2Z"/>
<path fill="rgb(0, 128, 255)" d="M463.3 232.4L462.1 232.6L460.3 232.6L459.3 232.2L457.1 231.1L455.3 229.9L454.6 229.4L453.8 228.7L453.3 228.2L452.8 227.4L452.0 225.9L451.4 224.4L450.9 222.4L450.6 220.2L450.5 218.2L450.5 216.4L450.8 214.4L451.2 212.7L451.6 211.8L452.0 210.9L452.5 210.2L452.8 209.9L454.3 208.9L455.6 208.2L456.9 207.7L458.1 207.3L459.3 207.1L460.8 206.9L462.6 206.8L464.1 206.8L466.1 207.0L467.8 207.2L469.3 207.4L470.8 207.8L472.3 208.3L473.6 208.9L474.1 209.2L474.7 209.7L475.3 210.3L475.7 210.9L476.2 211.9L476.5 212.7L477.0 213.9L477.4 215.4L477.6 216.9L477.8 218.2L477.8 219.7L477.7 220.9L477.6 221.9L477.2 223.4L476.6 224.9L476.2 225.7L475.8 226.4L475.3 227.0L474.6 227.7L473.1 228.8L471.8 229.5L470.6 230.2L468.1 231.3L466.6 231.7L465.6 232.0L463.3 232.4Z"/>
<path fill="rgb(0, 169, 255)" d="M464.3 231.4L462.1 231.6L461.1 231.6L460.3 231.5L459.1 231.0L457.8 230.4L456.8 229.9L455.8 229.2L455.1 228.6L454.3 227.9L453.6 227.2L453.1 226.4L452.6 225.4L452.1 224.4L451.8 223.4L451.5 222.2L451.2 220.7L451.1 218.7L451.1 217.7L451.2 216.7L451.5 215.4L451.9 214.2L452.3 212.9L453.0 211.7L453.6 210.8L454.8 209.9L455.8 209.3L456.8 208.8L457.6 208.5L458.6 208.2L459.6 207.9L461.1 207.7L462.6 207.6L464.1 207.6L465.8 207.8L467.6 208.0L469.1 208.3L470.6 208.8L471.8 209.3L472.8 209.8L473.6 210.2L474.1 210.6L474.6 211.2L475.3 212.2L475.8 213.2L476.4 214.4L476.8 215.6L477.1 216.9L477.2 218.4L477.2 219.9L477.1 221.4L476.8 222.7L476.3 224.2L475.8 225.2L475.1 226.2L474.3 227.0L473.3 227.8L472.5 228.4L470.8 229.4L469.1 230.2L467.6 230.7L466.1 231.1L464.3 231.4Z"/>
<path fill="rgb(0, 203, 247)" d="M464.3 230.4L462.3 230.6L460.6 230.6L458.6 229.8L457.6 229.3L456.6 228.7L455.8 228.1L455.1 227.4L454.6 226.9L454.0 226.2L453.5 225.2L453.0 224.2L452.6 222.9L452.3 221.9L452.1 220.7L452.0 219.4L452.0 218.2L452.2 216.9L452.4 215.7L452.7 214.7L453.2 213.4L453.7 212.4L454.3 211.5L456.1 210.2L456.8 209.8L457.8 209.4L459.6 208.8L460.8 208.6L462.3 208.5L463.8 208.5L465.6 208.7L467.3 209.0L469.1 209.4L470.3 209.8L471.8 210.4L473.2 211.2L473.7 211.7L474.3 212.5L474.9 213.4L475.4 214.4L475.8 215.4L476.1 216.7L476.3 217.9L476.4 219.2L476.4 220.2L476.2 221.4L475.9 222.4L475.5 223.7L475.0 224.7L474.2 225.7L473.6 226.4L472.6 227.2L471.4 227.9L470.1 228.6L468.6 229.3L467.1 229.8L465.8 230.1L464.3 230.4Z"/>
<path fill="rgb(0, 233, 236)" d="M463.6 229.7L461.8 229.8L460.8 229.8L460.6 229.7L459.3 229.3L458.3 228.8L457.3 228.2L456.3 227.5L455.2 226.4L454.7 225.7L454.2 224.9L453.5 223.2L453.2 222.2L453.0 221.2L452.8 219.9L452.8 218.7L452.9 217.4L453.1 216.4L453.3 215.4L453.7 214.4L454.1 213.4L454.7 212.4L454.9 212.2L455.8 211.4L456.6 210.9L457.3 210.5L458.8 209.8L460.3 209.5L461.6 209.3L463.1 209.3L464.6 209.5L466.3 209.7L468.1 210.1L469.6 210.5L470.8 210.9L472.1 211.5L472.6 211.8L473.1 212.4L473.6 213.0L474.1 213.9L474.6 214.7L474.9 215.7L475.2 216.7L475.4 217.7L475.6 218.9L475.5 219.9L475.4 220.9L475.2 221.9L474.8 222.9L474.4 223.9L473.9 224.7L473.3 225.3L472.6 226.0L471.6 226.7L470.6 227.3L469.3 228.0L468.1 228.5L466.6 229.0L465.1 229.4L463.6 229.7Z"/>
<path fill="rgb(9, 239, 172)" d="M463.3 228.9L461.6 229.0L461.1 229.0L460.6 228.9L459.6 228.6L458.6 228.1L457.6 227.6L456.8 227.0L456.1 226.4L455.7 225.9L454.9 224.7L454.4 223.7L454.1 222.9L453.8 221.9L453.7 220.9L453.5 219.9L453.5 218.7L453.6 217.7L453.8 216.7L454.0 215.7L454.4 214.7L454.8 213.8L455.3 212.9L455.6 212.6L456.3 212.0L457.6 211.1L459.1 210.5L460.6 210.2L461.6 210.1L462.8 210.1L464.1 210.2L465.6 210.4L467.6 210.9L469.3 211.4L470.3 211.7L471.6 212.3L472.1 212.6L472.5 213.2L473.1 213.8L473.6 214.7L474.2 216.2L474.5 217.2L474.7 217.9L474.7 218.9L474.7 219.9L474.6 220.7L474.4 221.7L474.1 222.6L473.7 223.4L473.2 224.2L472.6 224.9L471.8 225.5L470.8 226.2L469.8 226.7L468.6 227.3L467.1 227.9L465.8 228.4L464.6 228.7L463.3 228.9Z"/>
<path fill="rgb(18, 244, 105)" d="M463.3 228.2L461.6 228.3L461.1 228.3L460.6 228.2L459.6 227.9L458.8 227.5L458.1 227.1L457.3 226.6L456.3 225.6L455.5 224.4L454.8 222.9L454.3 221.2L454.1 219.4L454.2 218.4L454.3 217.4L454.5 216.4L454.7 215.7L455.1 214.7L455.5 213.9L456.1 213.1L457.3 212.1L458.1 211.6L458.8 211.3L460.3 210.9L461.3 210.8L462.3 210.7L463.3 210.8L464.6 211.0L466.6 211.5L468.8 212.1L470.1 212.6L471.1 213.1L471.5 213.4L472.0 213.9L472.9 215.2L473.4 216.4L473.8 217.9L473.9 218.9L473.9 219.7L473.8 220.4L473.7 221.2L473.3 222.2L472.9 222.9L472.6 223.5L472.1 224.1L471.4 224.7L470.6 225.3L469.6 225.8L468.3 226.5L466.8 227.1L465.6 227.6L464.3 228.0L463.3 228.2Z"/>
<path fill="rgb(74, 245, 57)" d="M461.8 227.7L461.1 227.6L459.8 227.3L458.8 226.8L457.8 226.2L457.1 225.6L456.6 225.0L456.0 224.2L455.5 223.2L455.1 222.2L454.8 220.9L454.7 219.7L454.7 218.4L454.9 217.2L455.2 216.2L455.6 215.2L456.1 214.2L456.6 213.5L456.9 213.2L457.6 212.7L458.3 212.2L459.1 211.9L459.8 211.6L460.6 211.5L461.6 211.4L463.1 211.5L464.8 211.8L468.8 213.1L470.6 213.9L471.1 214.3L471.6 214.9L472.2 215.9L472.7 216.9L473.0 218.2L473.1 219.2L472.9 220.4L472.6 221.7L472.0 222.7L471.4 223.4L470.5 224.2L469.1 225.0L466.9 226.2L465.6 226.8L464.3 227.2L463.1 227.5L461.8 227.7Z"/>
<path fill="rgb(144, 245, 16)" d="M462.6 226.9L461.3 227.0L460.1 226.7L458.8 226.2L458.1 225.7L457.6 225.3L456.8 224.4L456.1 223.2L455.6 221.9L455.3 220.4L455.3 219.7L455.3 218.7L455.5 217.2L456.0 215.7L456.6 214.4L457.0 213.9L457.3 213.7L458.3 212.9L459.6 212.3L460.8 212.1L461.6 212.0L462.6 212.1L463.3 212.2L464.3 212.4L466.2 213.2L469.1 214.4L469.8 214.8L470.6 215.4L471.3 216.4L471.8 217.5L472.0 218.7L472.0 219.9L471.7 220.9L471.3 221.9L470.9 222.4L470.6 222.8L469.0 223.9L465.6 225.9L464.1 226.6L462.6 226.9Z"/>
<path fill="rgb(199, 242, 0)" d="M462.8 226.2L461.6 226.4L460.6 226.2L459.3 225.8L458.3 225.1L457.5 224.4L457.1 223.8L456.7 223.2L456.2 221.9L455.9 220.7L455.8 219.2L455.9 217.7L456.3 216.4L456.8 215.2L457.6 214.2L458.3 213.6L459.3 213.1L460.6 212.7L461.8 212.6L462.6 212.7L463.3 212.9L464.8 213.4L466.2 214.2L468.6 215.7L469.6 216.4L470.0 216.9L470.3 217.4L470.6 218.0L470.7 218.7L470.7 219.7L470.5 220.4L470.1 221.2L469.6 221.9L467.1 223.9L465.6 225.0L464.3 225.7L463.6 226.0L462.8 226.2Z"/>
<path fill="rgb(246, 236, 0)" d="M462.1 225.7L461.6 225.7L461.1 225.7L460.0 225.4L459.0 224.9L458.6 224.6L458.1 224.2L457.3 223.2L456.8 222.2L456.5 221.2L456.3 219.9L456.3 218.7L456.5 217.4L456.9 216.2L457.5 215.2L458.1 214.5L459.1 213.8L460.1 213.4L461.1 213.3L462.1 213.3L463.3 213.6L464.3 214.0L465.4 214.7L466.5 215.7L467.5 216.9L468.2 217.9L468.3 218.4L468.5 218.9L468.4 219.7L468.1 220.7L467.4 221.9L466.4 223.2L465.4 224.2L464.3 224.9L463.2 225.4L462.1 225.7Z"/>
<path fill="rgb(255, 199, 0)" d="M462.3 224.9L461.3 225.0L460.3 224.8L459.3 224.4L458.6 223.9L458.0 223.2L457.4 222.2L457.0 221.2L456.9 220.2L456.8 219.2L456.9 217.9L457.2 216.9L457.7 215.9L458.3 215.2L459.1 214.6L459.8 214.2L460.8 213.9L461.8 213.9L462.8 214.1L463.8 214.6L464.6 215.1L465.4 215.9L465.9 216.7L466.4 217.7L466.7 218.7L466.7 219.7L466.5 220.7L466.2 221.7L465.6 222.7L464.9 223.4L464.1 224.1L463.1 224.7L462.3 224.9Z"/>
<path fill="rgb(255, 155, 0)" d="M462.1 224.2L461.3 224.3L460.6 224.2L459.8 223.9L459.1 223.4L458.4 222.7L457.9 221.9L457.6 221.2L457.4 220.2L457.4 219.2L457.5 218.2L457.8 217.2L458.2 216.4L458.8 215.7L459.3 215.2L460.1 214.9L460.8 214.7L461.6 214.6L462.3 214.8L463.1 215.0L463.8 215.5L464.4 216.2L464.9 216.9L465.3 217.7L465.5 218.7L465.6 219.4L465.5 220.4L465.2 221.4L464.8 222.2L464.2 222.9L463.6 223.5L462.8 223.9L462.1 224.2Z"/>
<path fill="rgb(252, 93, 0)" d="M462.3 223.2L461.8 223.3L461.1 223.4L460.3 223.2L459.7 222.9L459.1 222.4L458.7 221.9L458.3 221.2L458.1 220.4L458.0 219.7L458.1 218.7L458.2 217.9L458.6 217.2L459.1 216.5L459.6 216.0L460.1 215.7L460.8 215.5L461.3 215.5L462.1 215.6L462.6 215.8L463.2 216.2L463.7 216.7L464.0 217.2L464.3 217.7L464.5 218.4L464.6 219.2L464.6 219.9L464.4 220.7L464.2 221.4L463.8 222.0L463.3 222.6L462.8 222.9L462.3 223.2Z"/>
<path fill="rgb(241, 28, 0)" d="M461.8 222.2L461.3 222.3L460.8 222.2L460.1 221.9L459.7 221.7L459.3 221.2L459.1 220.7L458.9 220.2L458.9 219.4L458.9 218.9L459.0 218.4L459.2 217.9L459.5 217.4L459.8 217.1L460.3 216.8L460.8 216.6L461.3 216.6L461.8 216.6L462.3 216.9L462.6 217.0L463.1 217.7L463.3 218.2L463.5 218.7L463.6 219.2L463.5 219.9L463.4 220.4L463.2 220.9L462.9 221.4L462.6 221.8L462.3 222.0L461.8 222.2Z"/></g></g>
<g fill="#d2d2d2"><circle cx="462.9" cy="193.6" r="0.55"/><circle cx="454.7" cy="191.3" r="0.55"/><circle cx="467.3" cy="201.3" r="0.55"/><circle cx="469.1" cy="202.2" r="0.55"/><circle cx="460.5" cy="198.1" r="0.55"/><circle cx="472.5" cy="196.8" r="0.55"/><circle cx="478.5" cy="192.8" r="0.55"/><circle cx="471.8" cy="192.1" r="0.55"/><circle cx="473.0" cy="194.1" r="0.55"/><circle cx="484.0" cy="202.3" r="0.55"/><circle cx="463.0" cy="189.8" r="0.55"/><circle cx="444.1" cy="206.0" r="0.55"/><circle cx="452.4" cy="203.6" r="0.55"/><circle cx="455.7" cy="200.1" r="0.55"/><circle cx="472.9" cy="192.7" r="0.55"/><circle cx="482.1" cy="206.1" r="0.55"/><circle cx="445.4" cy="202.3" r="0.55"/><circle cx="475.8" cy="197.2" r="0.55"/><circle cx="468.2" cy="196.8" r="0.55"/><circle cx="463.7" cy="197.3" r="0.55"/><circle cx="454.6" cy="201.7" r="0.55"/><circle cx="473.3" cy="199.6" r="0.55"/><circle cx="464.7" cy="200.7" r="0.55"/><circle cx="467.8" cy="199.2" r="0.55"/><circle cx="479.4" cy="201.5" r="0.55"/></g>
<rect x="392.3" y="142.9" width="99.2" height="98.5" fill="none" stroke="#8c8c8c" stroke-width="1.1"/>
<path d="M390.8 200.1H491.5M413.9 142.9V241.4" stroke="#333" stroke-width="1.15" fill="none"/>
<text x="487.2" y="156.4" font-size="12" text-anchor="end" font-weight="normal" fill="#111" stroke="#111" >0</text>
<path d="M24.4 190V24" stroke="#4470ae" stroke-width="1.7" fill="none"/>
<path d="M24.3 20.6L28.9 29.5L24.3 26.2L19.8 29.5Z" fill="#3c64a0"/>
<path d="M84.2 265.8H490" stroke="#4470ae" stroke-width="1.7" fill="none"/>
<path d="M483.4 261.2L492.8 265.8L483.4 270.4L486.8 265.8Z" fill="#3c64a0"/>
<text x="0" y="0" font-size="13.5" font-weight="bold" fill="#111" transform="translate(27.6 237.6) rotate(-90)">CD49a</text>
<text x="43.0" y="270.0" font-size="13.5" text-anchor="start" font-weight="bold" fill="#111" stroke="#111" >CD56</text>
<text x="1.2" y="285.8" font-size="13.5" text-anchor="start" font-weight="bold" fill="#111" stroke="#111" >B</text>
<text x="259.2" y="287.8" font-size="13.5" text-anchor="start" font-weight="bold" fill="#111" stroke="#111" >C</text>
<path d="M45.8 301.3V317.0M42.599999999999994 301.3H45.8M42.599999999999994 317.0H48.8M45.8 334.2V421.6M42.599999999999994 334.2H48.8M42.599999999999994 421.6H45.8M42.599999999999994 404.2H45.8M42.599999999999994 386.9H45.8M42.599999999999994 369.6H45.8M42.599999999999994 352.2H45.8M45.099999999999994 421.6H126M65.8 421.6V424.6M105.6 421.6V424.6" stroke="#111" stroke-width="1.45" fill="none"/>
<text x="41.0" y="425.3" font-size="10.5" text-anchor="end" font-weight="normal" fill="#111" stroke="#111" >0</text>
<text x="41.0" y="407.95" font-size="10.5" text-anchor="end" font-weight="normal" fill="#111" stroke="#111" >10</text>
<text x="41.0" y="390.6" font-size="10.5" text-anchor="end" font-weight="normal" fill="#111" stroke="#111" >20</text>
<text x="41.0" y="373.25" font-size="10.5" text-anchor="end" font-weight="normal" fill="#111" stroke="#111" >30</text>
<text x="41.0" y="355.90000000000003" font-size="10.5" text-anchor="end" font-weight="normal" fill="#111" stroke="#111" >40</text>
<text x="41.0" y="337.9" font-size="10.5" text-anchor="end" font-weight="normal" fill="#111" stroke="#111" >50</text>
<text x="41.0" y="304.9" font-size="10.5" text-anchor="end" font-weight="normal" fill="#111" stroke="#111" >100</text>
<text x="41.0" y="320.8" font-size="10.5" text-anchor="end" font-weight="normal" fill="#111" stroke="#111" >50</text>
<rect x="52.8" y="405.3" width="26" height="16.3" fill="#d2d2d2"/>
<rect x="92.8" y="367.0" width="26.1" height="54.6" fill="#d2d2d2"/>
<path d="M66.4 405.3V402.7M64.3 402.7H68.5M105.6 367V358.2M103.3 358.2H107.5" stroke="#b87878" stroke-width="1.2" fill="none"/>
<circle cx="74.7" cy="374.7" r="2.8" fill="#fffbe2" stroke="#dcc254" stroke-width="1.25"/>
<circle cx="57.3" cy="378.4" r="2.8" fill="#fffbe2" stroke="#dcc254" stroke-width="1.25"/>
<circle cx="65.7" cy="381.5" r="2.8" fill="#fffbe2" stroke="#dcc254" stroke-width="1.25"/>
<circle cx="76" cy="390.3" r="2.8" fill="#fffbe2" stroke="#dcc254" stroke-width="1.25"/>
<circle cx="56" cy="394.3" r="2.8" fill="#fffbe2" stroke="#dcc254" stroke-width="1.25"/>
<circle cx="62.5" cy="397.3" r="2.8" fill="#fffbe2" stroke="#dcc254" stroke-width="1.25"/>
<circle cx="69.1" cy="396.8" r="2.8" fill="#fffbe2" stroke="#dcc254" stroke-width="1.25"/>
<circle cx="57" cy="402" r="2.8" fill="#fffbe2" stroke="#dcc254" stroke-width="1.25"/>
<circle cx="61.5" cy="401.3" r="2.8" fill="#fffbe2" stroke="#dcc254" stroke-width="1.25"/>
<circle cx="69.8" cy="401.3" r="2.8" fill="#fffbe2" stroke="#dcc254" stroke-width="1.25"/>
<circle cx="74.7" cy="404.7" r="2.8" fill="#fffbe2" stroke="#dcc254" stroke-width="1.25"/>
<circle cx="64.6" cy="403.7" r="2.8" fill="#fffbe2" stroke="#dcc254" stroke-width="1.25"/>
<circle cx="60.5" cy="406.1" r="2.8" fill="#fffbe2" stroke="#dcc254" stroke-width="1.25"/>
<circle cx="64.3" cy="408.9" r="2.8" fill="#fffbe2" stroke="#dcc254" stroke-width="1.25"/>
<circle cx="69.1" cy="409.2" r="2.8" fill="#fffbe2" stroke="#dcc254" stroke-width="1.25"/>
<circle cx="71.9" cy="408.9" r="2.8" fill="#fffbe2" stroke="#dcc254" stroke-width="1.25"/>
<circle cx="57" cy="412.4" r="2.8" fill="#fffbe2" stroke="#dcc254" stroke-width="1.25"/>
<circle cx="60.5" cy="414.4" r="2.8" fill="#fffbe2" stroke="#dcc254" stroke-width="1.25"/>
<circle cx="74.7" cy="412.7" r="2.8" fill="#fffbe2" stroke="#dcc254" stroke-width="1.25"/>
<circle cx="69.1" cy="414.8" r="2.8" fill="#fffbe2" stroke="#dcc254" stroke-width="1.25"/>
<circle cx="64.6" cy="417.9" r="2.8" fill="#fffbe2" stroke="#dcc254" stroke-width="1.25"/>
<circle cx="67.4" cy="418.2" r="2.8" fill="#fffbe2" stroke="#dcc254" stroke-width="1.25"/>
<circle cx="66" cy="412" r="2.8" fill="#fffbe2" stroke="#dcc254" stroke-width="1.25"/>
<circle cx="72" cy="416" r="2.8" fill="#fffbe2" stroke="#dcc254" stroke-width="1.25"/>
<circle cx="59" cy="409" r="2.8" fill="#fffbe2" stroke="#dcc254" stroke-width="1.25"/>
<circle cx="67" cy="406" r="2.8" fill="#fffbe2" stroke="#dcc254" stroke-width="1.25"/>
<circle cx="105.8" cy="305.4" r="2.8" fill="#eefaff" stroke="#2f58b0" stroke-width="1.25"/>
<circle cx="96.7" cy="310.8" r="2.8" fill="#eefaff" stroke="#2f58b0" stroke-width="1.25"/>
<circle cx="115.1" cy="309.1" r="2.8" fill="#eefaff" stroke="#2f58b0" stroke-width="1.25"/>
<circle cx="101" cy="314.8" r="2.8" fill="#eefaff" stroke="#2f58b0" stroke-width="1.25"/>
<circle cx="105.8" cy="315.8" r="2.8" fill="#eefaff" stroke="#2f58b0" stroke-width="1.25"/>
<circle cx="110.9" cy="313.9" r="2.8" fill="#eefaff" stroke="#2f58b0" stroke-width="1.25"/>
<circle cx="97.2" cy="338" r="2.8" fill="#eefaff" stroke="#2f58b0" stroke-width="1.25"/>
<circle cx="114.5" cy="341.9" r="2.8" fill="#eefaff" stroke="#2f58b0" stroke-width="1.25"/>
<circle cx="106" cy="345.6" r="2.8" fill="#eefaff" stroke="#2f58b0" stroke-width="1.25"/>
<circle cx="101.5" cy="354.1" r="2.8" fill="#eefaff" stroke="#2f58b0" stroke-width="1.25"/>
<circle cx="110.6" cy="359.5" r="2.8" fill="#eefaff" stroke="#2f58b0" stroke-width="1.25"/>
<circle cx="110.5" cy="368.4" r="2.8" fill="#eefaff" stroke="#2f58b0" stroke-width="1.25"/>
<circle cx="101.6" cy="375" r="2.8" fill="#eefaff" stroke="#2f58b0" stroke-width="1.25"/>
<circle cx="114.5" cy="378.4" r="2.8" fill="#eefaff" stroke="#2f58b0" stroke-width="1.25"/>
<circle cx="97.2" cy="384" r="2.8" fill="#eefaff" stroke="#2f58b0" stroke-width="1.25"/>
<circle cx="106" cy="384.5" r="2.8" fill="#eefaff" stroke="#2f58b0" stroke-width="1.25"/>
<circle cx="110.5" cy="391" r="2.8" fill="#eefaff" stroke="#2f58b0" stroke-width="1.25"/>
<circle cx="101.2" cy="395" r="2.8" fill="#eefaff" stroke="#2f58b0" stroke-width="1.25"/>
<circle cx="114.5" cy="400.7" r="2.8" fill="#eefaff" stroke="#2f58b0" stroke-width="1.25"/>
<circle cx="97" cy="403.2" r="2.8" fill="#eefaff" stroke="#2f58b0" stroke-width="1.25"/>
<circle cx="105.8" cy="404.2" r="2.8" fill="#eefaff" stroke="#2f58b0" stroke-width="1.25"/>
<circle cx="99.2" cy="409" r="2.8" fill="#eefaff" stroke="#2f58b0" stroke-width="1.25"/>
<circle cx="110" cy="407.6" r="2.8" fill="#eefaff" stroke="#2f58b0" stroke-width="1.25"/>
<circle cx="113.3" cy="408.8" r="2.8" fill="#eefaff" stroke="#2f58b0" stroke-width="1.25"/>
<circle cx="108" cy="411.6" r="2.8" fill="#eefaff" stroke="#2f58b0" stroke-width="1.25"/>
<circle cx="103.6" cy="415.3" r="2.8" fill="#eefaff" stroke="#2f58b0" stroke-width="1.25"/>
<circle cx="106.5" cy="409.5" r="2.8" fill="#eefaff" stroke="#2f58b0" stroke-width="1.25"/>
<text x="66.9" y="434.6" font-size="10" text-anchor="middle" font-weight="normal" fill="#111" stroke="#111" textLength="11" lengthAdjust="spacingAndGlyphs">PT</text>
<text x="108.7" y="434.6" font-size="10" text-anchor="middle" font-weight="normal" fill="#111" stroke="#111" textLength="8.2" lengthAdjust="spacingAndGlyphs">IT</text>
<text x="68.4" y="447.4" font-size="10" text-anchor="middle" font-weight="normal" fill="#111" stroke="#111" textLength="29.8" lengthAdjust="spacingAndGlyphs">(<tspan font-style="italic">n</tspan> = 26)</text>
<text x="110.1" y="447.4" font-size="10" text-anchor="middle" font-weight="normal" fill="#111" stroke="#111" textLength="31.4" lengthAdjust="spacingAndGlyphs">(<tspan font-style="italic">n</tspan> = 27)</text>
<text x="0" y="0" font-size="11" font-weight="normal" fill="#111" stroke="#111" text-anchor="middle" transform="translate(18.2 359.7) rotate(-90)">CD49a<tspan dy="-4" font-size="7.5">+</tspan><tspan dy="4"> NK cells (%)</tspan></text>
<polygon points="76.15,289.30 76.97,291.27 79.10,291.44 77.48,292.83 77.97,294.91 76.15,293.80 74.33,294.91 74.82,292.83 73.20,291.44 75.33,291.27" fill="#222" stroke="#222" stroke-width="0.4" stroke-linejoin="round"/>
<polygon points="83.00,289.30 83.82,291.27 85.95,291.44 84.33,292.83 84.82,294.91 83.00,293.80 81.18,294.91 81.67,292.83 80.05,291.44 82.18,291.27" fill="#222" stroke="#222" stroke-width="0.4" stroke-linejoin="round"/>
<polygon points="89.85,289.30 90.67,291.27 92.80,291.44 91.18,292.83 91.67,294.91 89.85,293.80 88.03,294.91 88.52,292.83 86.90,291.44 89.03,291.27" fill="#222" stroke="#222" stroke-width="0.4" stroke-linejoin="round"/>
<polygon points="96.70,289.30 97.52,291.27 99.65,291.44 98.03,292.83 98.52,294.91 96.70,293.80 94.88,294.91 95.37,292.83 93.75,291.44 95.88,291.27" fill="#222" stroke="#222" stroke-width="0.4" stroke-linejoin="round"/>
<path d="M72.2 297.6H99.9" stroke="#111" stroke-width="1.45"/>
<path d="M166.2 301.1V423.2M165.5 423.2H247.5M163.0 423.2H166.2M163.0 392.6H166.2M163.0 362.1H166.2M163.0 331.5H166.2M163.0 301.0H166.2M186.6 423.2V426.2M227.5 423.2V426.2" stroke="#111" stroke-width="1.45" fill="none"/>
<text x="162.4" y="427.5" font-size="10.8" text-anchor="end" font-weight="normal" fill="#111" stroke="#111" >0</text>
<text x="162.4" y="396.95" font-size="10.8" text-anchor="end" font-weight="normal" fill="#111" stroke="#111" >20</text>
<text x="162.4" y="366.4" font-size="10.8" text-anchor="end" font-weight="normal" fill="#111" stroke="#111" >40</text>
<text x="162.4" y="335.84999999999997" font-size="10.8" text-anchor="end" font-weight="normal" fill="#111" stroke="#111" >60</text>
<text x="162.4" y="305.3" font-size="10.8" text-anchor="end" font-weight="normal" fill="#111" stroke="#111" >80</text>
<path d="M186.5 380.9L227.5 352.2M186.5 383.2L227.5 391.1M186.5 384.4L227.5 385.0M186.5 387.8L227.5 399.5M186.5 394.6L227.5 382.0M186.5 396.5L227.5 407.2M186.5 398.8L227.5 368.2M186.5 400.3L227.5 409.8M186.5 401.8L227.5 307.9M186.5 403.3L227.5 330.0M186.5 404.9L227.5 317.8M186.5 406.4L227.5 356.8M186.5 407.9L227.5 338.4M186.5 408.7L227.5 404.6M186.5 409.5L227.5 349.9M186.5 411.0L227.5 388.1M186.5 411.7L227.5 364.7M186.5 412.5L227.5 376.6M186.5 414.0L227.5 354.5M186.5 414.8L227.5 396.2M186.5 415.6L227.5 407.9M186.5 416.3L227.5 412.4M186.5 417.1L227.5 413.3M186.5 417.9L227.5 411.0M186.5 420.1L227.5 414.8M186.5 421.4L227.5 416.3M186.5 419.2L227.5 418.2" stroke="#1a1a1a" stroke-width="0.85" fill="none"/>
<path fill="#111" d="M186.5 378.2l2.5 2.7l-2.5 2.7l-2.5 -2.7zM186.5 380.5l2.5 2.7l-2.5 2.7l-2.5 -2.7zM186.5 381.7l2.5 2.7l-2.5 2.7l-2.5 -2.7zM186.5 385.1l2.5 2.7l-2.5 2.7l-2.5 -2.7zM186.5 391.9l2.5 2.7l-2.5 2.7l-2.5 -2.7zM186.5 393.8l2.5 2.7l-2.5 2.7l-2.5 -2.7zM186.5 396.1l2.5 2.7l-2.5 2.7l-2.5 -2.7zM186.5 397.6l2.5 2.7l-2.5 2.7l-2.5 -2.7zM186.5 399.1l2.5 2.7l-2.5 2.7l-2.5 -2.7zM186.5 400.6l2.5 2.7l-2.5 2.7l-2.5 -2.7zM186.5 402.2l2.5 2.7l-2.5 2.7l-2.5 -2.7zM186.5 403.7l2.5 2.7l-2.5 2.7l-2.5 -2.7zM186.5 405.2l2.5 2.7l-2.5 2.7l-2.5 -2.7zM186.5 406.0l2.5 2.7l-2.5 2.7l-2.5 -2.7zM186.5 406.8l2.5 2.7l-2.5 2.7l-2.5 -2.7zM186.5 408.3l2.5 2.7l-2.5 2.7l-2.5 -2.7zM186.5 409.0l2.5 2.7l-2.5 2.7l-2.5 -2.7zM186.5 409.8l2.5 2.7l-2.5 2.7l-2.5 -2.7zM186.5 411.3l2.5 2.7l-2.5 2.7l-2.5 -2.7zM186.5 412.1l2.5 2.7l-2.5 2.7l-2.5 -2.7zM186.5 412.9l2.5 2.7l-2.5 2.7l-2.5 -2.7zM186.5 413.6l2.5 2.7l-2.5 2.7l-2.5 -2.7zM186.5 414.4l2.5 2.7l-2.5 2.7l-2.5 -2.7zM186.5 415.2l2.5 2.7l-2.5 2.7l-2.5 -2.7zM186.5 417.4l2.5 2.7l-2.5 2.7l-2.5 -2.7zM186.5 418.7l2.5 2.7l-2.5 2.7l-2.5 -2.7zM186.5 416.5l2.5 2.7l-2.5 2.7l-2.5 -2.7z"/>
<path fill="#111" d="M227.5 349.5l2.5 4.8h-5.0zM227.5 388.5l2.5 4.8h-5.0zM227.5 382.4l2.5 4.8h-5.0zM227.5 396.9l2.5 4.8h-5.0zM227.5 379.3l2.5 4.8h-5.0zM227.5 404.5l2.5 4.8h-5.0zM227.5 365.6l2.5 4.8h-5.0zM227.5 407.1l2.5 4.8h-5.0zM227.5 305.2l2.5 4.8h-5.0zM227.5 327.4l2.5 4.8h-5.0zM227.5 315.2l2.5 4.8h-5.0zM227.5 354.1l2.5 4.8h-5.0zM227.5 335.8l2.5 4.8h-5.0zM227.5 401.9l2.5 4.8h-5.0zM227.5 347.2l2.5 4.8h-5.0zM227.5 385.4l2.5 4.8h-5.0zM227.5 362.1l2.5 4.8h-5.0zM227.5 374.0l2.5 4.8h-5.0zM227.5 351.8l2.5 4.8h-5.0zM227.5 393.5l2.5 4.8h-5.0zM227.5 405.3l2.5 4.8h-5.0zM227.5 409.7l2.5 4.8h-5.0zM227.5 410.6l2.5 4.8h-5.0zM227.5 408.3l2.5 4.8h-5.0zM227.5 412.2l2.5 4.8h-5.0zM227.5 413.7l2.5 4.8h-5.0zM227.5 415.5l2.5 4.8h-5.0z"/>
<text x="187.0" y="435.0" font-size="11" text-anchor="middle" font-weight="normal" fill="#111" stroke="#111" >PT</text>
<text x="228.0" y="435.0" font-size="11" text-anchor="middle" font-weight="normal" fill="#111" stroke="#111" >IT</text>
<text x="0" y="0" font-size="9.8" font-weight="normal" fill="#111" stroke="#111" text-anchor="middle" transform="translate(142.2 360.2) rotate(-90)">CD49a<tspan dy="-3.5" font-size="6.8">+</tspan><tspan dy="3.5"> NK cells (%)</tspan></text>
<polygon points="199.40,290.30 200.11,291.93 201.87,292.10 200.54,293.27 200.93,295.00 199.40,294.10 197.87,295.00 198.26,293.27 196.93,292.10 198.69,291.93" fill="#222" stroke="#222" stroke-width="0.4" stroke-linejoin="round"/>
<polygon points="205.70,290.30 206.41,291.93 208.17,292.10 206.84,293.27 207.23,295.00 205.70,294.10 204.17,295.00 204.56,293.27 203.23,292.10 204.99,291.93" fill="#222" stroke="#222" stroke-width="0.4" stroke-linejoin="round"/>
<polygon points="212.00,290.30 212.71,291.93 214.47,292.10 213.14,293.27 213.53,295.00 212.00,294.10 210.47,295.00 210.86,293.27 209.53,292.10 211.29,291.93" fill="#222" stroke="#222" stroke-width="0.4" stroke-linejoin="round"/>
<path d="M184.2 297.4H227.4" stroke="#111" stroke-width="1.45"/>
<path d="M310.8 302.8V420.9M310.1 420.9H386M307.6 420.9H310.8M307.6 397.3H310.8M307.6 373.7H310.8M307.6 350.0H310.8M307.6 326.4H310.8M307.6 302.8H310.8M330.8 420.9V423.9M370.6 420.9V423.9" stroke="#111" stroke-width="1.45" fill="none"/>
<text x="306.6" y="424.7" font-size="10.2" text-anchor="end" font-weight="normal" fill="#111" stroke="#111" >0</text>
<text x="306.6" y="401.08" font-size="10.2" text-anchor="end" font-weight="normal" fill="#111" stroke="#111" >1,000</text>
<text x="306.6" y="377.46" font-size="10.2" text-anchor="end" font-weight="normal" fill="#111" stroke="#111" >2,000</text>
<text x="306.6" y="353.84" font-size="10.2" text-anchor="end" font-weight="normal" fill="#111" stroke="#111" >3,000</text>
<text x="306.6" y="330.21999999999997" font-size="10.2" text-anchor="end" font-weight="normal" fill="#111" stroke="#111" >4,000</text>
<text x="306.6" y="306.59999999999997" font-size="10.2" text-anchor="end" font-weight="normal" fill="#111" stroke="#111" >5,000</text>
<path d="M330.6 366.0L370.4 327.9M330.6 398.6L370.4 366.1M330.6 406.7L370.4 323.7M330.6 402.7L370.4 379.2M330.6 404.4L370.4 416.2M330.6 405.5L370.4 413.3M330.6 407.7L370.4 399.1M330.6 408.6L370.4 406.3M330.6 409.6L370.4 401.3M330.6 410.5L370.4 416.9M330.6 411.5L370.4 409.1M330.6 412.2L370.4 404.8M330.6 412.9L370.4 391.0M330.6 413.6L370.4 403.4M330.6 414.3L370.4 415.5M330.6 415.0L370.4 417.6M330.6 415.7L370.4 410.3M330.6 416.2L370.4 411.5M330.6 416.6L370.4 377.9M330.6 417.1L370.4 389.5M330.6 417.6L370.4 412.6M330.6 418.1L370.4 407.7M330.6 418.5L370.4 396.9M330.6 419.0L370.4 414.1M330.6 419.5L370.4 414.8M330.6 420.2L370.4 402.2" stroke="#1a1a1a" stroke-width="0.8" fill="none"/>
<path fill="#111" d="M330.6 363.3l2.5 2.7l-2.5 2.7l-2.5 -2.7zM330.6 395.9l2.5 2.7l-2.5 2.7l-2.5 -2.7zM330.6 400.0l2.5 2.7l-2.5 2.7l-2.5 -2.7zM330.6 401.7l2.5 2.7l-2.5 2.7l-2.5 -2.7zM330.6 402.8l2.5 2.7l-2.5 2.7l-2.5 -2.7zM330.6 404.0l2.5 2.7l-2.5 2.7l-2.5 -2.7zM330.6 405.0l2.5 2.7l-2.5 2.7l-2.5 -2.7zM330.6 405.9l2.5 2.7l-2.5 2.7l-2.5 -2.7zM330.6 406.9l2.5 2.7l-2.5 2.7l-2.5 -2.7zM330.6 407.8l2.5 2.7l-2.5 2.7l-2.5 -2.7zM330.6 408.8l2.5 2.7l-2.5 2.7l-2.5 -2.7zM330.6 409.5l2.5 2.7l-2.5 2.7l-2.5 -2.7zM330.6 410.2l2.5 2.7l-2.5 2.7l-2.5 -2.7zM330.6 410.9l2.5 2.7l-2.5 2.7l-2.5 -2.7zM330.6 411.6l2.5 2.7l-2.5 2.7l-2.5 -2.7zM330.6 412.3l2.5 2.7l-2.5 2.7l-2.5 -2.7zM330.6 413.0l2.5 2.7l-2.5 2.7l-2.5 -2.7zM330.6 413.5l2.5 2.7l-2.5 2.7l-2.5 -2.7zM330.6 413.9l2.5 2.7l-2.5 2.7l-2.5 -2.7zM330.6 414.4l2.5 2.7l-2.5 2.7l-2.5 -2.7zM330.6 414.9l2.5 2.7l-2.5 2.7l-2.5 -2.7zM330.6 415.4l2.5 2.7l-2.5 2.7l-2.5 -2.7zM330.6 415.8l2.5 2.7l-2.5 2.7l-2.5 -2.7zM330.6 416.3l2.5 2.7l-2.5 2.7l-2.5 -2.7zM330.6 416.8l2.5 2.7l-2.5 2.7l-2.5 -2.7zM330.6 417.5l2.5 2.7l-2.5 2.7l-2.5 -2.7z"/>
<path fill="#111" d="M370.4 321.1l2.5 4.8h-5.0zM370.4 325.3l2.5 4.8h-5.0zM370.4 363.5l2.5 4.8h-5.0zM370.4 375.2l2.5 4.8h-5.0zM370.4 376.5l2.5 4.8h-5.0zM370.4 386.8l2.5 4.8h-5.0zM370.4 388.3l2.5 4.8h-5.0zM370.4 394.2l2.5 4.8h-5.0zM370.4 396.4l2.5 4.8h-5.0zM370.4 398.7l2.5 4.8h-5.0zM370.4 399.6l2.5 4.8h-5.0zM370.4 400.8l2.5 4.8h-5.0zM370.4 402.2l2.5 4.8h-5.0zM370.4 403.6l2.5 4.8h-5.0zM370.4 405.0l2.5 4.8h-5.0zM370.4 406.4l2.5 4.8h-5.0zM370.4 407.6l2.5 4.8h-5.0zM370.4 408.8l2.5 4.8h-5.0zM370.4 410.0l2.5 4.8h-5.0zM370.4 410.7l2.5 4.8h-5.0zM370.4 411.4l2.5 4.8h-5.0zM370.4 412.1l2.5 4.8h-5.0zM370.4 412.8l2.5 4.8h-5.0zM370.4 413.5l2.5 4.8h-5.0zM370.4 414.2l2.5 4.8h-5.0zM370.4 415.0l2.5 4.8h-5.0z"/>
<text x="330.7" y="434.2" font-size="11.2" text-anchor="middle" font-weight="normal" fill="#111" stroke="#111" >PT</text>
<text x="370.7" y="434.2" font-size="11.2" text-anchor="middle" font-weight="normal" fill="#111" stroke="#111" >IT</text>
<text x="0" y="0" font-size="9.2" font-weight="normal" fill="#111" stroke="#111" text-anchor="middle" transform="translate(274.6 358.2) rotate(-90)">CD49a<tspan dy="-3.5" font-size="6.5">+</tspan><tspan dy="3.5"> NK cells (MFI)</tspan></text>
<polygon points="342.20,288.80 342.85,290.31 344.48,290.46 343.25,291.54 343.61,293.14 342.20,292.30 340.79,293.14 341.15,291.54 339.92,290.46 341.55,290.31" fill="#222" stroke="#222" stroke-width="0.4" stroke-linejoin="round"/>
<polygon points="347.85,288.80 348.50,290.31 350.13,290.46 348.90,291.54 349.26,293.14 347.85,292.30 346.44,293.14 346.80,291.54 345.57,290.46 347.20,290.31" fill="#222" stroke="#222" stroke-width="0.4" stroke-linejoin="round"/>
<polygon points="353.50,288.80 354.15,290.31 355.78,290.46 354.55,291.54 354.91,293.14 353.50,292.30 352.09,293.14 352.45,291.54 351.22,290.46 352.85,290.31" fill="#222" stroke="#222" stroke-width="0.4" stroke-linejoin="round"/>
<path d="M330 295.8H369.6" stroke="#111" stroke-width="1.45"/>
<path d="M439.3 310.2V335.0M436.1 310.2H439.3M436.1 335.0H442.3M439.3 343.5V420.9M438.6 420.9H515M436.1 343.5H442.3M436.1 420.9H439.3M436.1 401.5H439.3M436.1 382.1H439.3M436.1 362.8H439.3M457.5 420.9V423.9M495.2 420.9V423.9" stroke="#111" stroke-width="1.45" fill="none"/>
<text x="435.4" y="424.7" font-size="10.8" text-anchor="end" font-weight="normal" fill="#111" stroke="#111" >0</text>
<text x="435.4" y="405.325" font-size="10.8" text-anchor="end" font-weight="normal" fill="#111" stroke="#111" >5</text>
<text x="435.4" y="385.95" font-size="10.8" text-anchor="end" font-weight="normal" fill="#111" stroke="#111" >10</text>
<text x="435.4" y="366.575" font-size="10.8" text-anchor="end" font-weight="normal" fill="#111" stroke="#111" >15</text>
<text x="435.4" y="348.1" font-size="10.8" text-anchor="end" font-weight="normal" fill="#111" stroke="#111" >20</text>
<text x="435.4" y="314.0" font-size="10.8" text-anchor="end" font-weight="normal" fill="#111" stroke="#111" >45</text>
<text x="435.4" y="337.4" font-size="10.8" text-anchor="end" font-weight="normal" fill="#111" stroke="#111" >20</text>
<clipPath id="c2clip"><rect x="440" y="300" width="80" height="35.6"/><rect x="440" y="342.7" width="80" height="80"/></clipPath>
<path clip-path="url(#c2clip)" d="M457.5 360.1L495.2 389.5M457.5 374.4L495.2 357.3M457.5 376.3L495.2 360.1M457.5 378.7L495.2 367.0M457.5 386.8L495.2 403.5M457.5 395.7L495.2 314.2M457.5 398.0L495.2 322.7M457.5 404.6L495.2 325.9M457.5 406.9L495.2 326.6M457.5 408.1L495.2 417.0M457.5 409.3L495.2 391.8M457.5 410.4L495.2 412.4M457.5 411.6L495.2 394.5M457.5 412.8L495.2 415.5M457.5 413.9L495.2 397.3M457.5 415.1L495.2 409.3M457.5 416.2L495.2 400.0M457.5 417.0L495.2 413.9M457.5 417.8L495.2 402.3M457.5 418.6L495.2 410.8M457.5 419.3L495.2 404.2M457.5 419.7L495.2 406.2M457.5 419.0L495.2 407.7M457.5 396.9L495.2 413.1" stroke="#1a1a1a" stroke-width="0.8" fill="none"/>
<path fill="#111" d="M457.5 357.4l2.5 2.7l-2.5 2.7l-2.5 -2.7zM457.5 371.7l2.5 2.7l-2.5 2.7l-2.5 -2.7zM457.5 373.6l2.5 2.7l-2.5 2.7l-2.5 -2.7zM457.5 376.0l2.5 2.7l-2.5 2.7l-2.5 -2.7zM457.5 384.1l2.5 2.7l-2.5 2.7l-2.5 -2.7zM457.5 393.0l2.5 2.7l-2.5 2.7l-2.5 -2.7zM457.5 395.3l2.5 2.7l-2.5 2.7l-2.5 -2.7zM457.5 401.9l2.5 2.7l-2.5 2.7l-2.5 -2.7zM457.5 404.2l2.5 2.7l-2.5 2.7l-2.5 -2.7zM457.5 405.4l2.5 2.7l-2.5 2.7l-2.5 -2.7zM457.5 406.6l2.5 2.7l-2.5 2.7l-2.5 -2.7zM457.5 407.7l2.5 2.7l-2.5 2.7l-2.5 -2.7zM457.5 408.9l2.5 2.7l-2.5 2.7l-2.5 -2.7zM457.5 410.1l2.5 2.7l-2.5 2.7l-2.5 -2.7zM457.5 411.2l2.5 2.7l-2.5 2.7l-2.5 -2.7zM457.5 412.4l2.5 2.7l-2.5 2.7l-2.5 -2.7zM457.5 413.6l2.5 2.7l-2.5 2.7l-2.5 -2.7zM457.5 414.3l2.5 2.7l-2.5 2.7l-2.5 -2.7zM457.5 415.1l2.5 2.7l-2.5 2.7l-2.5 -2.7zM457.5 415.9l2.5 2.7l-2.5 2.7l-2.5 -2.7zM457.5 416.6l2.5 2.7l-2.5 2.7l-2.5 -2.7zM457.5 417.0l2.5 2.7l-2.5 2.7l-2.5 -2.7zM457.5 416.3l2.5 2.7l-2.5 2.7l-2.5 -2.7zM457.5 394.2l2.5 2.7l-2.5 2.7l-2.5 -2.7z"/>
<path fill="#111" d="M495.2 386.9l2.5 4.8h-5.0zM495.2 354.7l2.5 4.8h-5.0zM495.2 357.4l2.5 4.8h-5.0zM495.2 364.4l2.5 4.8h-5.0zM495.2 400.8l2.5 4.8h-5.0zM495.2 311.5l2.5 4.8h-5.0zM495.2 320.1l2.5 4.8h-5.0zM495.2 323.2l2.5 4.8h-5.0zM495.2 323.9l2.5 4.8h-5.0zM495.2 414.4l2.5 4.8h-5.0zM495.2 389.2l2.5 4.8h-5.0zM495.2 409.7l2.5 4.8h-5.0zM495.2 391.9l2.5 4.8h-5.0zM495.2 412.8l2.5 4.8h-5.0zM495.2 394.6l2.5 4.8h-5.0zM495.2 406.6l2.5 4.8h-5.0zM495.2 397.3l2.5 4.8h-5.0zM495.2 411.3l2.5 4.8h-5.0zM495.2 399.7l2.5 4.8h-5.0zM495.2 408.2l2.5 4.8h-5.0zM495.2 401.6l2.5 4.8h-5.0zM495.2 403.5l2.5 4.8h-5.0zM495.2 405.1l2.5 4.8h-5.0zM495.2 410.5l2.5 4.8h-5.0z"/>
<text x="457.6" y="434.2" font-size="11.2" text-anchor="middle" font-weight="normal" fill="#111" stroke="#111" >PT</text>
<text x="495.6" y="434.2" font-size="11.2" text-anchor="middle" font-weight="normal" fill="#111" stroke="#111" >IT</text>
<text x="0" y="0" font-size="10.5" font-weight="normal" fill="#111" stroke="#111" text-anchor="middle" transform="translate(412.6 363.4) rotate(-90)">CD49<tspan dy="-3.8" font-size="7">+</tspan><tspan dy="3.8"> NK cells (10</tspan><tspan dy="-3.8" font-size="7">4</tspan><tspan dy="3.8">/g)</tspan></text>
<polygon points="474.90,284.60 475.69,286.51 477.75,286.67 476.18,288.02 476.66,290.03 474.90,288.95 473.14,290.03 473.62,288.02 472.05,286.67 474.11,286.51" fill="#222" stroke="#222" stroke-width="0.4" stroke-linejoin="round"/>
<path d="M455.5 292.5H495.7" stroke="#111" stroke-width="1.45"/>
</svg></body></html>
